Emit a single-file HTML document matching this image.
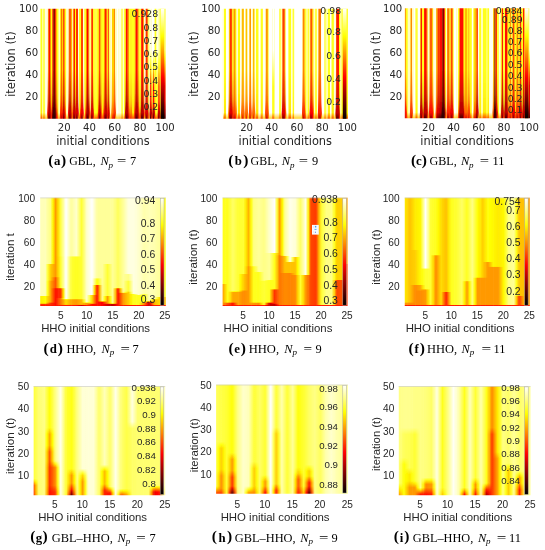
<!DOCTYPE html>
<html><head><meta charset="utf-8"><style>
html,body{margin:0;padding:0;background:#fff;}
body{width:545px;height:550px;overflow:hidden;}
svg{display:block;}
</style></head><body>
<svg width="545" height="550" viewBox="0 0 545 550">
<defs>
<filter id="tblur" x="0" y="0" width="100%" height="100%" filterUnits="userSpaceOnUse"><feGaussianBlur stdDeviation="0.28"/></filter>
<filter id="blur1" x="-5%" y="-5%" width="110%" height="110%"><feGaussianBlur stdDeviation="0.5 0.4"/></filter>
<filter id="blur2" x="-5%" y="-5%" width="110%" height="110%"><feGaussianBlur stdDeviation="0.7 0.5"/></filter>
<filter id="blur3" x="-5%" y="-5%" width="110%" height="110%"><feGaussianBlur stdDeviation="0.7 0.6"/></filter>
<linearGradient id="mfade" x1="0" y1="0" x2="0" y2="1"><stop offset="0" stop-color="#fff" stop-opacity="0"/><stop offset="0.55" stop-color="#fff" stop-opacity="0"/><stop offset="0.75" stop-color="#fff" stop-opacity="0.3"/><stop offset="0.9" stop-color="#fff" stop-opacity="0.7"/><stop offset="1" stop-color="#fff" stop-opacity="1"/></linearGradient><linearGradient id="redband" x1="0" y1="0" x2="0" y2="1"><stop offset="0" stop-color="#d40000" stop-opacity="0"/><stop offset="0.35" stop-color="#c80000" stop-opacity="0.45"/><stop offset="0.6" stop-color="#b00000" stop-opacity="0.7"/><stop offset="1" stop-color="#a00000" stop-opacity="0.75"/></linearGradient><linearGradient id="bmg" x1="0" y1="0" x2="0" y2="1"><stop offset="0" stop-color="#fff" stop-opacity="0"/><stop offset="0.75" stop-color="#fff" stop-opacity="0.85"/><stop offset="1" stop-color="#fff" stop-opacity="1"/></linearGradient><linearGradient id="vmg" x1="0" y1="0" x2="0" y2="1"><stop offset="0" stop-color="#fff" stop-opacity="0"/><stop offset="0.6" stop-color="#fff" stop-opacity="1"/></linearGradient><clipPath id="clipa"><rect x="40.4" y="8.8" width="125.3" height="110"/></clipPath><mask id="maska" maskUnits="userSpaceOnUse" x="37.4" y="5.8" width="131.3" height="116"><rect x="37.4" y="8.8" width="131.3" height="113" fill="url(#mfade)"/></mask><linearGradient id="sg1" x1="0" y1="0" x2="0" y2="1"><stop offset="0.000" stop-color="#ffffff"/><stop offset="0.380" stop-color="#ffffff"/><stop offset="0.433" stop-color="#ffff99"/><stop offset="0.487" stop-color="#ffff33"/><stop offset="0.540" stop-color="#ffdd00"/><stop offset="0.593" stop-color="#ff9900"/><stop offset="0.647" stop-color="#ff5500"/><stop offset="0.700" stop-color="#ff1100"/><stop offset="1.000" stop-color="#ff1100"/></linearGradient><linearGradient id="sg2" x1="0" y1="0" x2="0" y2="1"><stop offset="0.000" stop-color="#ffffff"/><stop offset="0.380" stop-color="#ffffff"/><stop offset="0.433" stop-color="#ffffdd"/><stop offset="0.487" stop-color="#ffffbb"/><stop offset="0.540" stop-color="#ffff99"/><stop offset="0.593" stop-color="#ffff77"/><stop offset="0.647" stop-color="#ffff55"/><stop offset="0.700" stop-color="#ffff33"/><stop offset="1.000" stop-color="#ffff33"/></linearGradient><linearGradient id="sg3" x1="0" y1="0" x2="0" y2="1"><stop offset="0.000" stop-color="#ffffff"/><stop offset="0.380" stop-color="#ffffff"/><stop offset="0.433" stop-color="#ffff99"/><stop offset="0.487" stop-color="#ffff33"/><stop offset="0.540" stop-color="#ffdd00"/><stop offset="0.593" stop-color="#ff9900"/><stop offset="0.647" stop-color="#ff5500"/><stop offset="0.700" stop-color="#ff1100"/><stop offset="1.000" stop-color="#ff1100"/></linearGradient><linearGradient id="sg4" x1="0" y1="0" x2="0" y2="1"><stop offset="0.000" stop-color="#ffffff"/><stop offset="0.380" stop-color="#ffffff"/><stop offset="0.433" stop-color="#ffffdd"/><stop offset="0.487" stop-color="#ffffbb"/><stop offset="0.540" stop-color="#ffff99"/><stop offset="0.593" stop-color="#ffff77"/><stop offset="0.647" stop-color="#ffff55"/><stop offset="0.700" stop-color="#ffff33"/><stop offset="1.000" stop-color="#ffff33"/></linearGradient><linearGradient id="sg5" x1="0" y1="0" x2="0" y2="1"><stop offset="0.000" stop-color="#ffffe0"/><stop offset="0.380" stop-color="#ffffe0"/><stop offset="0.433" stop-color="#ffffc3"/><stop offset="0.487" stop-color="#ffffa7"/><stop offset="0.540" stop-color="#ffff8a"/><stop offset="0.593" stop-color="#ffff6d"/><stop offset="0.647" stop-color="#ffff50"/><stop offset="0.700" stop-color="#ffff33"/><stop offset="1.000" stop-color="#ffff33"/></linearGradient><linearGradient id="sg6" x1="0" y1="0" x2="0" y2="1"><stop offset="0.000" stop-color="#ffffe0"/><stop offset="0.380" stop-color="#ffffe0"/><stop offset="0.433" stop-color="#ffff83"/><stop offset="0.487" stop-color="#ffff25"/><stop offset="0.540" stop-color="#ffda00"/><stop offset="0.593" stop-color="#ff9b00"/><stop offset="0.647" stop-color="#ff5d00"/><stop offset="0.700" stop-color="#ff1f00"/><stop offset="1.000" stop-color="#ff1f00"/></linearGradient><linearGradient id="sg7" x1="0" y1="0" x2="0" y2="1"><stop offset="0.000" stop-color="#ffff66"/><stop offset="0.380" stop-color="#ffff66"/><stop offset="0.433" stop-color="#ffff11"/><stop offset="0.487" stop-color="#ffd200"/><stop offset="0.540" stop-color="#ff9900"/><stop offset="0.593" stop-color="#ff6000"/><stop offset="0.647" stop-color="#ff2800"/><stop offset="0.700" stop-color="#ee0000"/><stop offset="1.000" stop-color="#ee0000"/></linearGradient><mask id="vma" maskUnits="userSpaceOnUse" x="37.4" y="99.8" width="131.3" height="22"><rect x="37.4" y="100.8" width="131.3" height="20" fill="url(#vmg)"/></mask><mask id="bma" maskUnits="userSpaceOnUse" x="37.4" y="111.8" width="131.3" height="10"><rect x="37.4" y="112.8" width="131.3" height="8" fill="url(#bmg)"/></mask><linearGradient id="cb1" x1="0" y1="0" x2="0" y2="1"><stop offset="0.000" stop-color="#ffffff"/><stop offset="0.062" stop-color="#ffffbf"/><stop offset="0.125" stop-color="#ffff80"/><stop offset="0.188" stop-color="#ffff40"/><stop offset="0.250" stop-color="#ffff00"/><stop offset="0.312" stop-color="#ffd400"/><stop offset="0.375" stop-color="#ffaa00"/><stop offset="0.438" stop-color="#ff8000"/><stop offset="0.500" stop-color="#ff5500"/><stop offset="0.562" stop-color="#ff2a00"/><stop offset="0.625" stop-color="#ff0000"/><stop offset="0.688" stop-color="#d40000"/><stop offset="0.750" stop-color="#aa0000"/><stop offset="0.812" stop-color="#800000"/><stop offset="0.875" stop-color="#550000"/><stop offset="0.938" stop-color="#2a0000"/><stop offset="1.000" stop-color="#000000"/></linearGradient><clipPath id="clipb"><rect x="222.9" y="8.8" width="125.1" height="110"/></clipPath><mask id="maskb" maskUnits="userSpaceOnUse" x="219.9" y="5.8" width="131.1" height="116"><rect x="219.9" y="8.8" width="131.1" height="113" fill="url(#mfade)"/></mask><linearGradient id="sg8" x1="0" y1="0" x2="0" y2="1"><stop offset="0.000" stop-color="#ffffff"/><stop offset="0.380" stop-color="#ffffff"/><stop offset="0.433" stop-color="#ffffda"/><stop offset="0.487" stop-color="#ffffb4"/><stop offset="0.540" stop-color="#ffff8f"/><stop offset="0.593" stop-color="#ffff69"/><stop offset="0.647" stop-color="#ffff44"/><stop offset="0.700" stop-color="#ffff1f"/><stop offset="1.000" stop-color="#ffff1f"/></linearGradient><mask id="vmb" maskUnits="userSpaceOnUse" x="219.9" y="99.8" width="131.1" height="22"><rect x="219.9" y="100.8" width="131.1" height="20" fill="url(#vmg)"/></mask><mask id="bmb" maskUnits="userSpaceOnUse" x="219.9" y="111.8" width="131.1" height="10"><rect x="219.9" y="112.8" width="131.1" height="8" fill="url(#bmg)"/></mask><linearGradient id="cb2" x1="0" y1="0" x2="0" y2="1"><stop offset="0.000" stop-color="#ffffff"/><stop offset="0.062" stop-color="#ffffbf"/><stop offset="0.125" stop-color="#ffff80"/><stop offset="0.188" stop-color="#ffff40"/><stop offset="0.250" stop-color="#ffff00"/><stop offset="0.312" stop-color="#ffd400"/><stop offset="0.375" stop-color="#ffaa00"/><stop offset="0.438" stop-color="#ff8000"/><stop offset="0.500" stop-color="#ff5500"/><stop offset="0.562" stop-color="#ff2a00"/><stop offset="0.625" stop-color="#ff0000"/><stop offset="0.688" stop-color="#d40000"/><stop offset="0.750" stop-color="#aa0000"/><stop offset="0.812" stop-color="#800000"/><stop offset="0.875" stop-color="#550000"/><stop offset="0.938" stop-color="#2a0000"/><stop offset="1.000" stop-color="#000000"/></linearGradient><clipPath id="clipc"><rect x="404.8" y="8.3" width="125.2" height="110"/></clipPath><mask id="maskc" maskUnits="userSpaceOnUse" x="401.8" y="5.3" width="131.2" height="116"><rect x="401.8" y="8.3" width="131.2" height="113" fill="url(#mfade)"/></mask><linearGradient id="sg9" x1="0" y1="0" x2="0" y2="1"><stop offset="0.000" stop-color="#ffffcc"/><stop offset="0.380" stop-color="#ffffcc"/><stop offset="0.433" stop-color="#ffff66"/><stop offset="0.487" stop-color="#ffff00"/><stop offset="0.540" stop-color="#ffbb00"/><stop offset="0.593" stop-color="#ff7700"/><stop offset="0.647" stop-color="#ff3300"/><stop offset="0.700" stop-color="#ee0000"/><stop offset="1.000" stop-color="#ee0000"/></linearGradient><mask id="vmc" maskUnits="userSpaceOnUse" x="401.8" y="99.3" width="131.2" height="22"><rect x="401.8" y="100.3" width="131.2" height="20" fill="url(#vmg)"/></mask><mask id="bmc" maskUnits="userSpaceOnUse" x="401.8" y="111.3" width="131.2" height="10"><rect x="401.8" y="112.3" width="131.2" height="8" fill="url(#bmg)"/></mask><linearGradient id="cb3" x1="0" y1="0" x2="0" y2="1"><stop offset="0.000" stop-color="#ffffff"/><stop offset="0.062" stop-color="#ffffbf"/><stop offset="0.125" stop-color="#ffff80"/><stop offset="0.188" stop-color="#ffff40"/><stop offset="0.250" stop-color="#ffff00"/><stop offset="0.312" stop-color="#ffd400"/><stop offset="0.375" stop-color="#ffaa00"/><stop offset="0.438" stop-color="#ff8000"/><stop offset="0.500" stop-color="#ff5500"/><stop offset="0.562" stop-color="#ff2a00"/><stop offset="0.625" stop-color="#ff0000"/><stop offset="0.688" stop-color="#d40000"/><stop offset="0.750" stop-color="#aa0000"/><stop offset="0.812" stop-color="#800000"/><stop offset="0.875" stop-color="#550000"/><stop offset="0.938" stop-color="#2a0000"/><stop offset="1.000" stop-color="#000000"/></linearGradient><linearGradient id="hrampg"><stop offset="0" stop-color="#fff" stop-opacity="0"/><stop offset="1" stop-color="#fff" stop-opacity="1"/></linearGradient><mask id="hramp" maskContentUnits="objectBoundingBox"><rect x="0" y="0" width="1" height="1" fill="url(#hrampg)"/></mask><linearGradient id="hrampg2"><stop offset="0" stop-color="#fff" stop-opacity="0"/><stop offset="0.84" stop-color="#fff" stop-opacity="1"/></linearGradient><mask id="hramp2" maskContentUnits="objectBoundingBox"><rect x="0" y="0" width="1" height="1" fill="url(#hrampg2)"/></mask><clipPath id="clipd"><rect x="40.2" y="197.7" width="125.6" height="108.3"/></clipPath><linearGradient id="v10" gradientUnits="userSpaceOnUse" x1="0" y1="194.7" x2="0" y2="309"><stop offset="0.0000" stop-color="#ffffb8"/><stop offset="0.8835" stop-color="#ffffb8"/><stop offset="0.8854" stop-color="#ffff70"/><stop offset="0.8873" stop-color="#ffff29"/><stop offset="0.8892" stop-color="#ffeb00"/><stop offset="0.9508" stop-color="#ffeb00"/><stop offset="0.9527" stop-color="#ffad00"/><stop offset="0.9546" stop-color="#ff7000"/><stop offset="0.9566" stop-color="#ff3300"/><stop offset="0.9638" stop-color="#ff3300"/><stop offset="0.9666" stop-color="#ff1f00"/><stop offset="1.0000" stop-color="#ff1f00"/></linearGradient><linearGradient id="v11" gradientUnits="userSpaceOnUse" x1="0" y1="194.7" x2="0" y2="309"><stop offset="0.0000" stop-color="#ffffb8"/><stop offset="0.8835" stop-color="#ffffb8"/><stop offset="0.8864" stop-color="#ffff5c"/><stop offset="0.8892" stop-color="#ffff00"/><stop offset="0.9508" stop-color="#ffff00"/><stop offset="0.9527" stop-color="#ffbb00"/><stop offset="0.9546" stop-color="#ff7700"/><stop offset="0.9566" stop-color="#ff3300"/><stop offset="0.9638" stop-color="#ff3300"/><stop offset="0.9666" stop-color="#ff1f00"/><stop offset="1.0000" stop-color="#ff1f00"/></linearGradient><linearGradient id="v12" gradientUnits="userSpaceOnUse" x1="0" y1="194.7" x2="0" y2="309"><stop offset="0.0000" stop-color="#ffff85"/><stop offset="0.6046" stop-color="#ffff85"/><stop offset="0.6075" stop-color="#ffff1f"/><stop offset="0.6104" stop-color="#ffcf00"/><stop offset="0.7489" stop-color="#ffcf00"/><stop offset="0.7546" stop-color="#ffa700"/><stop offset="0.9412" stop-color="#ffa700"/><stop offset="0.9441" stop-color="#ff6d00"/><stop offset="0.9469" stop-color="#ff3300"/><stop offset="0.9638" stop-color="#ff3300"/><stop offset="0.9666" stop-color="#ff1f00"/><stop offset="1.0000" stop-color="#ff1f00"/></linearGradient><linearGradient id="v13" gradientUnits="userSpaceOnUse" x1="0" y1="194.7" x2="0" y2="309"><stop offset="0.0000" stop-color="#ff9900"/><stop offset="0.7200" stop-color="#ff9900"/><stop offset="0.7258" stop-color="#ff5500"/><stop offset="0.8162" stop-color="#ff5500"/><stop offset="0.8219" stop-color="#ff1100"/><stop offset="0.9638" stop-color="#ff1100"/><stop offset="0.9666" stop-color="#ff1100"/><stop offset="1.0000" stop-color="#ff1100"/></linearGradient><linearGradient id="v14" gradientUnits="userSpaceOnUse" x1="0" y1="194.7" x2="0" y2="309"><stop offset="0.0000" stop-color="#ffff47"/><stop offset="0.5373" stop-color="#ffff47"/><stop offset="0.5431" stop-color="#ffff33"/><stop offset="0.8162" stop-color="#ffff33"/><stop offset="0.8176" stop-color="#ffe600"/><stop offset="0.8191" stop-color="#ffaa00"/><stop offset="0.8205" stop-color="#ff6f00"/><stop offset="0.8219" stop-color="#ff3300"/><stop offset="0.9027" stop-color="#ff3300"/><stop offset="0.9085" stop-color="#ff7700"/><stop offset="0.9604" stop-color="#ff7700"/><stop offset="0.9633" stop-color="#ff4b00"/><stop offset="0.9662" stop-color="#ff1f00"/><stop offset="0.9638" stop-color="#ff1f00"/><stop offset="0.9666" stop-color="#ff1f00"/><stop offset="1.0000" stop-color="#ff1f00"/></linearGradient><linearGradient id="v15" gradientUnits="userSpaceOnUse" x1="0" y1="194.7" x2="0" y2="309"><stop offset="0.0000" stop-color="#ffffff"/><stop offset="0.9123" stop-color="#ffffff"/><stop offset="0.9138" stop-color="#ffffb3"/><stop offset="0.9152" stop-color="#ffff66"/><stop offset="0.9166" stop-color="#ffff19"/><stop offset="0.9181" stop-color="#ffdd00"/><stop offset="0.9604" stop-color="#ffdd00"/><stop offset="0.9623" stop-color="#ffa400"/><stop offset="0.9642" stop-color="#ff6c00"/><stop offset="0.9662" stop-color="#ff3300"/><stop offset="0.9638" stop-color="#ff3300"/><stop offset="0.9666" stop-color="#ff1f00"/><stop offset="1.0000" stop-color="#ff1f00"/></linearGradient><linearGradient id="v16" gradientUnits="userSpaceOnUse" x1="0" y1="194.7" x2="0" y2="309"><stop offset="0.0000" stop-color="#ffff99"/><stop offset="0.5373" stop-color="#ffff99"/><stop offset="0.5431" stop-color="#ffff33"/><stop offset="0.9123" stop-color="#ffff33"/><stop offset="0.9152" stop-color="#ffe400"/><stop offset="0.9181" stop-color="#ffa700"/><stop offset="0.9604" stop-color="#ffa700"/><stop offset="0.9623" stop-color="#ff7900"/><stop offset="0.9642" stop-color="#ff4c00"/><stop offset="0.9662" stop-color="#ff1f00"/><stop offset="0.9638" stop-color="#ff1f00"/><stop offset="0.9666" stop-color="#ff1f00"/><stop offset="1.0000" stop-color="#ff1f00"/></linearGradient><linearGradient id="v17" gradientUnits="userSpaceOnUse" x1="0" y1="194.7" x2="0" y2="309"><stop offset="0.0000" stop-color="#ffffcc"/><stop offset="0.5373" stop-color="#ffffcc"/><stop offset="0.5402" stop-color="#ffff75"/><stop offset="0.5431" stop-color="#ffff1f"/><stop offset="0.9123" stop-color="#ffff1f"/><stop offset="0.9152" stop-color="#ffd600"/><stop offset="0.9181" stop-color="#ff9900"/><stop offset="0.9604" stop-color="#ff9900"/><stop offset="0.9633" stop-color="#ff5500"/><stop offset="0.9662" stop-color="#ff1100"/><stop offset="0.9638" stop-color="#ff1100"/><stop offset="0.9666" stop-color="#ff1100"/><stop offset="1.0000" stop-color="#ff1100"/></linearGradient><linearGradient id="v18" gradientUnits="userSpaceOnUse" x1="0" y1="194.7" x2="0" y2="309"><stop offset="0.0000" stop-color="#ffff33"/><stop offset="0.9123" stop-color="#ffff33"/><stop offset="0.9152" stop-color="#ffee00"/><stop offset="0.9181" stop-color="#ffbb00"/><stop offset="0.9604" stop-color="#ffbb00"/><stop offset="0.9618" stop-color="#ff8000"/><stop offset="0.9633" stop-color="#ff4400"/><stop offset="0.9647" stop-color="#ff0900"/><stop offset="0.9662" stop-color="#cc0000"/><stop offset="0.9638" stop-color="#cc0000"/><stop offset="0.9666" stop-color="#cc0000"/><stop offset="1.0000" stop-color="#cc0000"/></linearGradient><linearGradient id="v19" gradientUnits="userSpaceOnUse" x1="0" y1="194.7" x2="0" y2="309"><stop offset="0.0000" stop-color="#ffffcc"/><stop offset="0.9412" stop-color="#ffffcc"/><stop offset="0.9426" stop-color="#ffff73"/><stop offset="0.9441" stop-color="#ffff19"/><stop offset="0.9455" stop-color="#ffd400"/><stop offset="0.9469" stop-color="#ff9900"/><stop offset="0.9638" stop-color="#ff9900"/><stop offset="0.9652" stop-color="#ff5c00"/><stop offset="0.9666" stop-color="#ff1f00"/><stop offset="1.0000" stop-color="#ff1f00"/></linearGradient><linearGradient id="v20" gradientUnits="userSpaceOnUse" x1="0" y1="194.7" x2="0" y2="309"><stop offset="0.0000" stop-color="#ffffff"/><stop offset="0.8739" stop-color="#ffffff"/><stop offset="0.8753" stop-color="#ffffb3"/><stop offset="0.8767" stop-color="#ffff66"/><stop offset="0.8782" stop-color="#ffff19"/><stop offset="0.8796" stop-color="#ffdd00"/><stop offset="0.9508" stop-color="#ffdd00"/><stop offset="0.9527" stop-color="#ff9900"/><stop offset="0.9546" stop-color="#ff5500"/><stop offset="0.9566" stop-color="#ff1100"/><stop offset="0.9638" stop-color="#ff1100"/><stop offset="0.9666" stop-color="#ff1100"/><stop offset="1.0000" stop-color="#ff1100"/></linearGradient><linearGradient id="v21" gradientUnits="userSpaceOnUse" x1="0" y1="194.7" x2="0" y2="309"><stop offset="0.0000" stop-color="#ffff99"/><stop offset="0.7296" stop-color="#ffff99"/><stop offset="0.7325" stop-color="#ffff4c"/><stop offset="0.7354" stop-color="#ffff00"/><stop offset="0.7873" stop-color="#ffff00"/><stop offset="0.7888" stop-color="#ffc300"/><stop offset="0.7902" stop-color="#ff8800"/><stop offset="0.7917" stop-color="#ff4d00"/><stop offset="0.7931" stop-color="#ff1100"/><stop offset="0.9638" stop-color="#ff1100"/><stop offset="0.9666" stop-color="#ff1100"/><stop offset="1.0000" stop-color="#ff1100"/></linearGradient><linearGradient id="v22" gradientUnits="userSpaceOnUse" x1="0" y1="194.7" x2="0" y2="309"><stop offset="0.0000" stop-color="#ffff99"/><stop offset="0.9316" stop-color="#ffff99"/><stop offset="0.9325" stop-color="#ffff41"/><stop offset="0.9335" stop-color="#ffef00"/><stop offset="0.9344" stop-color="#ffb400"/><stop offset="0.9354" stop-color="#ff7900"/><stop offset="0.9364" stop-color="#ff3e00"/><stop offset="0.9373" stop-color="#ff0300"/><stop offset="0.9638" stop-color="#ff0300"/><stop offset="0.9666" stop-color="#ff0300"/><stop offset="1.0000" stop-color="#ff0300"/></linearGradient><linearGradient id="v23" gradientUnits="userSpaceOnUse" x1="0" y1="194.7" x2="0" y2="309"><stop offset="0.0000" stop-color="#ffff99"/><stop offset="0.6046" stop-color="#ffff99"/><stop offset="0.6104" stop-color="#ffff33"/><stop offset="0.8835" stop-color="#ffff33"/><stop offset="0.8854" stop-color="#fff400"/><stop offset="0.8873" stop-color="#ffc600"/><stop offset="0.8892" stop-color="#ff9900"/><stop offset="0.9508" stop-color="#ff9900"/><stop offset="0.9527" stop-color="#ff5500"/><stop offset="0.9546" stop-color="#ff1100"/><stop offset="0.9566" stop-color="#cc0000"/><stop offset="0.9638" stop-color="#cc0000"/><stop offset="0.9666" stop-color="#cc0000"/><stop offset="1.0000" stop-color="#cc0000"/></linearGradient><linearGradient id="v24" gradientUnits="userSpaceOnUse" x1="0" y1="194.7" x2="0" y2="309"><stop offset="0.0000" stop-color="#ffff99"/><stop offset="0.9508" stop-color="#ffff99"/><stop offset="0.9516" stop-color="#ffff3f"/><stop offset="0.9524" stop-color="#ffed00"/><stop offset="0.9533" stop-color="#ffb000"/><stop offset="0.9541" stop-color="#ff7400"/><stop offset="0.9549" stop-color="#ff3800"/><stop offset="0.9557" stop-color="#fb0000"/><stop offset="0.9566" stop-color="#be0000"/><stop offset="0.9638" stop-color="#be0000"/><stop offset="0.9666" stop-color="#be0000"/><stop offset="1.0000" stop-color="#be0000"/></linearGradient><linearGradient id="v25" gradientUnits="userSpaceOnUse" x1="0" y1="194.7" x2="0" y2="309"><stop offset="0.0000" stop-color="#ffff5c"/><stop offset="0.8162" stop-color="#ffff5c"/><stop offset="0.8173" stop-color="#ffff02"/><stop offset="0.8185" stop-color="#ffc500"/><stop offset="0.8196" stop-color="#ff8900"/><stop offset="0.8208" stop-color="#ff4d00"/><stop offset="0.8219" stop-color="#ff1100"/><stop offset="0.9638" stop-color="#ff1100"/><stop offset="0.9666" stop-color="#ff1100"/><stop offset="1.0000" stop-color="#ff1100"/></linearGradient><linearGradient id="v26" gradientUnits="userSpaceOnUse" x1="0" y1="194.7" x2="0" y2="309"><stop offset="0.0000" stop-color="#ffff99"/><stop offset="0.8546" stop-color="#ffff99"/><stop offset="0.8561" stop-color="#ffff4c"/><stop offset="0.8575" stop-color="#ffff00"/><stop offset="0.8590" stop-color="#ffcc00"/><stop offset="0.8604" stop-color="#ff9900"/><stop offset="0.9638" stop-color="#ff9900"/><stop offset="0.9652" stop-color="#ff5c00"/><stop offset="0.9666" stop-color="#ff1f00"/><stop offset="1.0000" stop-color="#ff1f00"/></linearGradient><linearGradient id="v27" gradientUnits="userSpaceOnUse" x1="0" y1="194.7" x2="0" y2="309"><stop offset="0.0000" stop-color="#ffffe0"/><stop offset="0.6912" stop-color="#ffffe0"/><stop offset="0.6969" stop-color="#ffff85"/><stop offset="0.7489" stop-color="#ffff85"/><stop offset="0.7546" stop-color="#ffff33"/><stop offset="0.8450" stop-color="#ffff33"/><stop offset="0.8508" stop-color="#ffcf00"/><stop offset="0.9638" stop-color="#ffcf00"/><stop offset="0.9647" stop-color="#ff9400"/><stop offset="0.9657" stop-color="#ff5a00"/><stop offset="0.9666" stop-color="#ff1f00"/><stop offset="1.0000" stop-color="#ff1f00"/></linearGradient><linearGradient id="v28" gradientUnits="userSpaceOnUse" x1="0" y1="194.7" x2="0" y2="309"><stop offset="0.0000" stop-color="#ffffe0"/><stop offset="0.8642" stop-color="#ffffe0"/><stop offset="0.8671" stop-color="#ffff80"/><stop offset="0.8700" stop-color="#ffff1f"/><stop offset="0.9638" stop-color="#ffff1f"/><stop offset="0.9645" stop-color="#ffd600"/><stop offset="0.9652" stop-color="#ff9900"/><stop offset="0.9659" stop-color="#ff5c00"/><stop offset="0.9666" stop-color="#ff1f00"/><stop offset="1.0000" stop-color="#ff1f00"/></linearGradient><linearGradient id="v29" gradientUnits="userSpaceOnUse" x1="0" y1="194.7" x2="0" y2="309"><stop offset="0.0000" stop-color="#ffffcc"/><stop offset="0.8739" stop-color="#ffffcc"/><stop offset="0.8767" stop-color="#ffff75"/><stop offset="0.8796" stop-color="#ffff1f"/><stop offset="0.9638" stop-color="#ffff1f"/><stop offset="0.9645" stop-color="#ffd600"/><stop offset="0.9652" stop-color="#ff9900"/><stop offset="0.9659" stop-color="#ff5c00"/><stop offset="0.9666" stop-color="#ff1f00"/><stop offset="1.0000" stop-color="#ff1f00"/></linearGradient><linearGradient id="v30" gradientUnits="userSpaceOnUse" x1="0" y1="194.7" x2="0" y2="309"><stop offset="0.0000" stop-color="#ffffad"/><stop offset="0.8642" stop-color="#ffffad"/><stop offset="0.8671" stop-color="#ffff66"/><stop offset="0.8700" stop-color="#ffff1f"/><stop offset="0.9412" stop-color="#ffff1f"/><stop offset="0.9431" stop-color="#ffe600"/><stop offset="0.9450" stop-color="#ffb900"/><stop offset="0.9469" stop-color="#ff8b00"/><stop offset="0.9638" stop-color="#ff8b00"/><stop offset="0.9652" stop-color="#ff5500"/><stop offset="0.9666" stop-color="#ff1f00"/><stop offset="1.0000" stop-color="#ff1f00"/></linearGradient><linearGradient id="v31" gradientUnits="userSpaceOnUse" x1="0" y1="194.7" x2="0" y2="309"><stop offset="0.0000" stop-color="#ffffb8"/><stop offset="0.9316" stop-color="#ffffb8"/><stop offset="0.9324" stop-color="#ffff5c"/><stop offset="0.9332" stop-color="#ffff00"/><stop offset="0.9340" stop-color="#ffc200"/><stop offset="0.9348" stop-color="#ff8500"/><stop offset="0.9357" stop-color="#ff4700"/><stop offset="0.9365" stop-color="#ff0a00"/><stop offset="0.9373" stop-color="#cc0000"/><stop offset="0.9638" stop-color="#cc0000"/><stop offset="0.9666" stop-color="#cc0000"/><stop offset="1.0000" stop-color="#cc0000"/></linearGradient><linearGradient id="v32" gradientUnits="userSpaceOnUse" x1="0" y1="194.7" x2="0" y2="309"><stop offset="0.0000" stop-color="#ffffad"/><stop offset="0.9123" stop-color="#ffffad"/><stop offset="0.9142" stop-color="#ffff52"/><stop offset="0.9162" stop-color="#fff800"/><stop offset="0.9181" stop-color="#ffbb00"/><stop offset="0.9638" stop-color="#ffbb00"/><stop offset="0.9647" stop-color="#ff8700"/><stop offset="0.9657" stop-color="#ff5300"/><stop offset="0.9666" stop-color="#ff1f00"/><stop offset="1.0000" stop-color="#ff1f00"/></linearGradient><linearGradient id="v33" gradientUnits="userSpaceOnUse" x1="0" y1="194.7" x2="0" y2="309"><stop offset="0.0000" stop-color="#ffff99"/><stop offset="0.8931" stop-color="#ffff99"/><stop offset="0.8950" stop-color="#ffff55"/><stop offset="0.8969" stop-color="#ffff11"/><stop offset="0.8989" stop-color="#ffdd00"/><stop offset="0.9638" stop-color="#ffdd00"/><stop offset="0.9647" stop-color="#ff9e00"/><stop offset="0.9657" stop-color="#ff5e00"/><stop offset="0.9666" stop-color="#ff1f00"/><stop offset="1.0000" stop-color="#ff1f00"/></linearGradient><linearGradient id="v34" gradientUnits="userSpaceOnUse" x1="0" y1="194.7" x2="0" y2="309"><stop offset="0.0000" stop-color="#ffff1f"/><stop offset="0.8931" stop-color="#ffff1f"/><stop offset="0.8960" stop-color="#ffe700"/><stop offset="0.8989" stop-color="#ffbb00"/><stop offset="0.9638" stop-color="#ffbb00"/><stop offset="0.9647" stop-color="#ff8700"/><stop offset="0.9657" stop-color="#ff5300"/><stop offset="0.9666" stop-color="#ff1f00"/><stop offset="1.0000" stop-color="#ff1f00"/></linearGradient><linearGradient id="v35" gradientUnits="userSpaceOnUse" x1="0" y1="194.7" x2="0" y2="309"><stop offset="0.0000" stop-color="#ffffb8"/><stop offset="0.8835" stop-color="#ffffb7"/><stop offset="0.8835" stop-color="#ffffb7"/><stop offset="0.8864" stop-color="#ffff54"/><stop offset="0.8892" stop-color="#fff500"/><stop offset="0.8892" stop-color="#fff500"/><stop offset="0.9508" stop-color="#fff500"/><stop offset="0.9527" stop-color="#ffb400"/><stop offset="0.9546" stop-color="#ff7400"/><stop offset="0.9566" stop-color="#ff3300"/><stop offset="0.9566" stop-color="#ff3300"/><stop offset="0.9638" stop-color="#ff3300"/><stop offset="0.9667" stop-color="#ff1f00"/><stop offset="1.0000" stop-color="#ff1f00"/></linearGradient><linearGradient id="v36" gradientUnits="userSpaceOnUse" x1="0" y1="194.7" x2="0" y2="309"><stop offset="0.0000" stop-color="#ffff9e"/><stop offset="0.6046" stop-color="#ffff9e"/><stop offset="0.6046" stop-color="#ffff9e"/><stop offset="0.6104" stop-color="#ffff38"/><stop offset="0.7489" stop-color="#ffff38"/><stop offset="0.7489" stop-color="#ffff38"/><stop offset="0.7546" stop-color="#ffff1a"/><stop offset="0.7546" stop-color="#ffff1a"/><stop offset="0.8835" stop-color="#ffff19"/><stop offset="0.8835" stop-color="#ffff19"/><stop offset="0.8892" stop-color="#ffd300"/><stop offset="0.8892" stop-color="#ffd300"/><stop offset="0.9412" stop-color="#ffd300"/><stop offset="0.9412" stop-color="#ffd300"/><stop offset="0.9469" stop-color="#ff9900"/><stop offset="0.9508" stop-color="#ff9900"/><stop offset="0.9537" stop-color="#ff6600"/><stop offset="0.9566" stop-color="#ff3300"/><stop offset="0.9566" stop-color="#ff3300"/><stop offset="0.9638" stop-color="#ff3300"/><stop offset="0.9667" stop-color="#ff1f00"/><stop offset="1.0000" stop-color="#ff1f00"/></linearGradient><linearGradient id="v37" gradientUnits="userSpaceOnUse" x1="0" y1="194.7" x2="0" y2="309"><stop offset="0.0000" stop-color="#fff800"/><stop offset="0.6046" stop-color="#fff800"/><stop offset="0.6046" stop-color="#fff800"/><stop offset="0.6104" stop-color="#ffb400"/><stop offset="0.7200" stop-color="#ffb400"/><stop offset="0.7258" stop-color="#ff9200"/><stop offset="0.7489" stop-color="#ff9200"/><stop offset="0.7489" stop-color="#ff9200"/><stop offset="0.7546" stop-color="#ff7e00"/><stop offset="0.7546" stop-color="#ff7e00"/><stop offset="0.8162" stop-color="#ff7e00"/><stop offset="0.8219" stop-color="#ff5c00"/><stop offset="0.9412" stop-color="#ff5c00"/><stop offset="0.9412" stop-color="#ff5c00"/><stop offset="0.9469" stop-color="#ff2200"/><stop offset="0.9638" stop-color="#ff2200"/><stop offset="0.9667" stop-color="#ff1800"/><stop offset="1.0000" stop-color="#ff1800"/></linearGradient><linearGradient id="v38" gradientUnits="userSpaceOnUse" x1="0" y1="194.7" x2="0" y2="309"><stop offset="0.0000" stop-color="#ffe400"/><stop offset="0.5373" stop-color="#ffe400"/><stop offset="0.5431" stop-color="#ffdd00"/><stop offset="0.7200" stop-color="#ffdd00"/><stop offset="0.7258" stop-color="#ffbb00"/><stop offset="0.8162" stop-color="#ffbb00"/><stop offset="0.8181" stop-color="#ff8800"/><stop offset="0.8200" stop-color="#ff5500"/><stop offset="0.8219" stop-color="#ff2200"/><stop offset="0.9027" stop-color="#ff2200"/><stop offset="0.9027" stop-color="#ff2200"/><stop offset="0.9085" stop-color="#ff4400"/><stop offset="0.9604" stop-color="#ff4400"/><stop offset="0.9604" stop-color="#ff4400"/><stop offset="0.9638" stop-color="#ff2a00"/><stop offset="0.9638" stop-color="#ff2a00"/><stop offset="0.9662" stop-color="#ff1800"/><stop offset="0.9667" stop-color="#ff1800"/><stop offset="1.0000" stop-color="#ff1800"/></linearGradient><linearGradient id="v39" gradientUnits="userSpaceOnUse" x1="0" y1="194.7" x2="0" y2="309"><stop offset="0.0000" stop-color="#ffffa3"/><stop offset="0.5373" stop-color="#ffffa3"/><stop offset="0.5431" stop-color="#ffff99"/><stop offset="0.8162" stop-color="#ffff99"/><stop offset="0.8191" stop-color="#ffff40"/><stop offset="0.8219" stop-color="#ffee00"/><stop offset="0.9027" stop-color="#ffee00"/><stop offset="0.9027" stop-color="#ffee00"/><stop offset="0.9085" stop-color="#ffff1a"/><stop offset="0.9123" stop-color="#ffff1a"/><stop offset="0.9152" stop-color="#ffdd00"/><stop offset="0.9181" stop-color="#ffaa00"/><stop offset="0.9181" stop-color="#ffaa00"/><stop offset="0.9604" stop-color="#ffaa00"/><stop offset="0.9604" stop-color="#ffaa00"/><stop offset="0.9638" stop-color="#ff5f00"/><stop offset="0.9638" stop-color="#ff5f00"/><stop offset="0.9662" stop-color="#ff2000"/><stop offset="0.9662" stop-color="#ff2000"/><stop offset="0.9667" stop-color="#ff1f00"/><stop offset="1.0000" stop-color="#ff1f00"/></linearGradient><linearGradient id="v40" gradientUnits="userSpaceOnUse" x1="0" y1="194.7" x2="0" y2="309"><stop offset="0.0000" stop-color="#ffffcc"/><stop offset="0.5373" stop-color="#ffffcc"/><stop offset="0.5431" stop-color="#ffff99"/><stop offset="0.5431" stop-color="#ffff99"/><stop offset="0.9123" stop-color="#ffff99"/><stop offset="0.9142" stop-color="#ffff47"/><stop offset="0.9162" stop-color="#fff800"/><stop offset="0.9181" stop-color="#ffc200"/><stop offset="0.9181" stop-color="#ffc200"/><stop offset="0.9604" stop-color="#ffc200"/><stop offset="0.9604" stop-color="#ffc200"/><stop offset="0.9621" stop-color="#ff9500"/><stop offset="0.9638" stop-color="#ff6900"/><stop offset="0.9638" stop-color="#ff6900"/><stop offset="0.9662" stop-color="#ff2000"/><stop offset="0.9662" stop-color="#ff2000"/><stop offset="0.9667" stop-color="#ff1f00"/><stop offset="1.0000" stop-color="#ff1f00"/></linearGradient><linearGradient id="v41" gradientUnits="userSpaceOnUse" x1="0" y1="194.7" x2="0" y2="309"><stop offset="0.0000" stop-color="#ffffb3"/><stop offset="0.5373" stop-color="#ffffb3"/><stop offset="0.5402" stop-color="#ffff6e"/><stop offset="0.5431" stop-color="#ffff29"/><stop offset="0.5431" stop-color="#ffff29"/><stop offset="0.9123" stop-color="#ffff29"/><stop offset="0.9152" stop-color="#ffdd00"/><stop offset="0.9181" stop-color="#ffa000"/><stop offset="0.9181" stop-color="#ffa000"/><stop offset="0.9604" stop-color="#ffa000"/><stop offset="0.9604" stop-color="#ffa000"/><stop offset="0.9638" stop-color="#ff5100"/><stop offset="0.9638" stop-color="#ff5100"/><stop offset="0.9662" stop-color="#ff1800"/><stop offset="0.9667" stop-color="#ff1800"/><stop offset="1.0000" stop-color="#ff1800"/></linearGradient><linearGradient id="v42" gradientUnits="userSpaceOnUse" x1="0" y1="194.7" x2="0" y2="309"><stop offset="0.0000" stop-color="#ffff80"/><stop offset="0.5373" stop-color="#ffff80"/><stop offset="0.5431" stop-color="#ffff29"/><stop offset="0.5431" stop-color="#ffff29"/><stop offset="0.9123" stop-color="#ffff29"/><stop offset="0.9152" stop-color="#ffe200"/><stop offset="0.9181" stop-color="#ffaa00"/><stop offset="0.9181" stop-color="#ffaa00"/><stop offset="0.9604" stop-color="#ffaa00"/><stop offset="0.9604" stop-color="#ffaa00"/><stop offset="0.9621" stop-color="#ff7300"/><stop offset="0.9638" stop-color="#ff3d00"/><stop offset="0.9638" stop-color="#ff3d00"/><stop offset="0.9662" stop-color="#ee0000"/><stop offset="0.9667" stop-color="#ee0000"/><stop offset="1.0000" stop-color="#ee0000"/></linearGradient><linearGradient id="v43" gradientUnits="userSpaceOnUse" x1="0" y1="194.7" x2="0" y2="309"><stop offset="0.0000" stop-color="#ffff80"/><stop offset="0.9123" stop-color="#ffff80"/><stop offset="0.9181" stop-color="#ffff33"/><stop offset="0.9181" stop-color="#ffff33"/><stop offset="0.9412" stop-color="#ffff33"/><stop offset="0.9412" stop-color="#ffff33"/><stop offset="0.9441" stop-color="#ffe500"/><stop offset="0.9469" stop-color="#ffaa00"/><stop offset="0.9604" stop-color="#ffaa00"/><stop offset="0.9604" stop-color="#ffaa00"/><stop offset="0.9638" stop-color="#ff6500"/><stop offset="0.9638" stop-color="#ff6500"/><stop offset="0.9650" stop-color="#ff3200"/><stop offset="0.9662" stop-color="#ff0000"/><stop offset="0.9662" stop-color="#ff0000"/><stop offset="0.9667" stop-color="#f50000"/><stop offset="1.0000" stop-color="#f50000"/></linearGradient><linearGradient id="v44" gradientUnits="userSpaceOnUse" x1="0" y1="194.7" x2="0" y2="309"><stop offset="0.0000" stop-color="#ffffe5"/><stop offset="0.8739" stop-color="#ffffe5"/><stop offset="0.8767" stop-color="#ffff99"/><stop offset="0.8796" stop-color="#ffff4c"/><stop offset="0.9412" stop-color="#ffff4c"/><stop offset="0.9412" stop-color="#ffff4c"/><stop offset="0.9441" stop-color="#fff600"/><stop offset="0.9469" stop-color="#ffbb00"/><stop offset="0.9508" stop-color="#ffbb00"/><stop offset="0.9537" stop-color="#ff8800"/><stop offset="0.9566" stop-color="#ff5500"/><stop offset="0.9566" stop-color="#ff5500"/><stop offset="0.9638" stop-color="#ff5500"/><stop offset="0.9667" stop-color="#ff1800"/><stop offset="1.0000" stop-color="#ff1800"/></linearGradient><linearGradient id="v45" gradientUnits="userSpaceOnUse" x1="0" y1="194.7" x2="0" y2="309"><stop offset="0.0000" stop-color="#ffffcc"/><stop offset="0.7296" stop-color="#ffffcc"/><stop offset="0.7296" stop-color="#ffffcc"/><stop offset="0.7354" stop-color="#ffff80"/><stop offset="0.7354" stop-color="#ffff80"/><stop offset="0.7873" stop-color="#ffff7f"/><stop offset="0.7873" stop-color="#ffff7f"/><stop offset="0.7902" stop-color="#ffff26"/><stop offset="0.7931" stop-color="#ffdd00"/><stop offset="0.7931" stop-color="#ffdd00"/><stop offset="0.8739" stop-color="#ffdd00"/><stop offset="0.8767" stop-color="#ffaa00"/><stop offset="0.8796" stop-color="#ff7700"/><stop offset="0.9508" stop-color="#ff7700"/><stop offset="0.9537" stop-color="#ff4400"/><stop offset="0.9566" stop-color="#ff1100"/><stop offset="0.9566" stop-color="#ff1100"/><stop offset="0.9638" stop-color="#ff1100"/><stop offset="0.9667" stop-color="#ff1100"/><stop offset="1.0000" stop-color="#ff1100"/></linearGradient><linearGradient id="v46" gradientUnits="userSpaceOnUse" x1="0" y1="194.7" x2="0" y2="309"><stop offset="0.0000" stop-color="#ffff99"/><stop offset="0.7296" stop-color="#ffff99"/><stop offset="0.7296" stop-color="#ffff99"/><stop offset="0.7354" stop-color="#ffff4d"/><stop offset="0.7354" stop-color="#ffff4d"/><stop offset="0.7873" stop-color="#ffff4c"/><stop offset="0.7873" stop-color="#ffff4c"/><stop offset="0.7902" stop-color="#fff600"/><stop offset="0.7931" stop-color="#ffbb00"/><stop offset="0.7931" stop-color="#ffbb00"/><stop offset="0.9315" stop-color="#ffbb00"/><stop offset="0.9335" stop-color="#ff8000"/><stop offset="0.9354" stop-color="#ff4500"/><stop offset="0.9373" stop-color="#ff0a00"/><stop offset="0.9373" stop-color="#ff0a00"/><stop offset="0.9638" stop-color="#ff0a00"/><stop offset="0.9667" stop-color="#ff0a00"/><stop offset="1.0000" stop-color="#ff0a00"/></linearGradient><linearGradient id="v47" gradientUnits="userSpaceOnUse" x1="0" y1="194.7" x2="0" y2="309"><stop offset="0.0000" stop-color="#ffff99"/><stop offset="0.6046" stop-color="#ffff99"/><stop offset="0.6046" stop-color="#ffff99"/><stop offset="0.6104" stop-color="#ffff66"/><stop offset="0.8835" stop-color="#ffff66"/><stop offset="0.8835" stop-color="#ffff66"/><stop offset="0.8892" stop-color="#ffff00"/><stop offset="0.8892" stop-color="#ffff00"/><stop offset="0.9315" stop-color="#ffff00"/><stop offset="0.9335" stop-color="#ffc400"/><stop offset="0.9354" stop-color="#ff8900"/><stop offset="0.9373" stop-color="#ff4e00"/><stop offset="0.9373" stop-color="#ff4e00"/><stop offset="0.9508" stop-color="#ff4e00"/><stop offset="0.9537" stop-color="#ff1b00"/><stop offset="0.9566" stop-color="#e70000"/><stop offset="0.9566" stop-color="#e70000"/><stop offset="0.9638" stop-color="#e70000"/><stop offset="0.9667" stop-color="#e70000"/><stop offset="1.0000" stop-color="#e70000"/></linearGradient><linearGradient id="v48" gradientUnits="userSpaceOnUse" x1="0" y1="194.7" x2="0" y2="309"><stop offset="0.0000" stop-color="#ffff99"/><stop offset="0.6046" stop-color="#ffff99"/><stop offset="0.6046" stop-color="#ffff99"/><stop offset="0.6104" stop-color="#ffff66"/><stop offset="0.8835" stop-color="#ffff66"/><stop offset="0.8835" stop-color="#ffff66"/><stop offset="0.8892" stop-color="#ffff00"/><stop offset="0.8892" stop-color="#ffff00"/><stop offset="0.9508" stop-color="#ffff00"/><stop offset="0.9519" stop-color="#ffc000"/><stop offset="0.9531" stop-color="#ff8200"/><stop offset="0.9542" stop-color="#ff4300"/><stop offset="0.9554" stop-color="#ff0500"/><stop offset="0.9566" stop-color="#c50000"/><stop offset="0.9566" stop-color="#c50000"/><stop offset="0.9638" stop-color="#c50000"/><stop offset="0.9667" stop-color="#c50000"/><stop offset="1.0000" stop-color="#c50000"/></linearGradient><linearGradient id="v49" gradientUnits="userSpaceOnUse" x1="0" y1="194.7" x2="0" y2="309"><stop offset="0.0000" stop-color="#ffff7a"/><stop offset="0.8162" stop-color="#ffff7a"/><stop offset="0.8181" stop-color="#ffff30"/><stop offset="0.8200" stop-color="#ffed00"/><stop offset="0.8219" stop-color="#ffbb00"/><stop offset="0.9508" stop-color="#ffbb00"/><stop offset="0.9522" stop-color="#ff8600"/><stop offset="0.9537" stop-color="#ff5200"/><stop offset="0.9551" stop-color="#ff1d00"/><stop offset="0.9566" stop-color="#e70000"/><stop offset="0.9566" stop-color="#e70000"/><stop offset="0.9638" stop-color="#e70000"/><stop offset="0.9667" stop-color="#e70000"/><stop offset="1.0000" stop-color="#e70000"/></linearGradient><linearGradient id="v50" gradientUnits="userSpaceOnUse" x1="0" y1="194.7" x2="0" y2="309"><stop offset="0.0000" stop-color="#ffff7a"/><stop offset="0.8162" stop-color="#ffff7a"/><stop offset="0.8181" stop-color="#ffff30"/><stop offset="0.8200" stop-color="#ffed00"/><stop offset="0.8219" stop-color="#ffbb00"/><stop offset="0.8546" stop-color="#ffbb00"/><stop offset="0.8575" stop-color="#ff8800"/><stop offset="0.8604" stop-color="#ff5500"/><stop offset="0.9638" stop-color="#ff5500"/><stop offset="0.9667" stop-color="#ff1800"/><stop offset="1.0000" stop-color="#ff1800"/></linearGradient><linearGradient id="v51" gradientUnits="userSpaceOnUse" x1="0" y1="194.7" x2="0" y2="309"><stop offset="0.0000" stop-color="#ffffbd"/><stop offset="0.6912" stop-color="#ffffbd"/><stop offset="0.6969" stop-color="#ffff8f"/><stop offset="0.6969" stop-color="#ffff8f"/><stop offset="0.7489" stop-color="#ffff8f"/><stop offset="0.7489" stop-color="#ffff8f"/><stop offset="0.7546" stop-color="#ffff66"/><stop offset="0.7546" stop-color="#ffff66"/><stop offset="0.8450" stop-color="#ffff66"/><stop offset="0.8450" stop-color="#ffff66"/><stop offset="0.8508" stop-color="#ffff29"/><stop offset="0.8508" stop-color="#ffff29"/><stop offset="0.8546" stop-color="#ffff29"/><stop offset="0.8575" stop-color="#ffe700"/><stop offset="0.8604" stop-color="#ffb400"/><stop offset="0.9638" stop-color="#ffb400"/><stop offset="0.9647" stop-color="#ff8200"/><stop offset="0.9657" stop-color="#ff5000"/><stop offset="0.9667" stop-color="#ff1f00"/><stop offset="1.0000" stop-color="#ff1f00"/></linearGradient><linearGradient id="v52" gradientUnits="userSpaceOnUse" x1="0" y1="194.7" x2="0" y2="309"><stop offset="0.0000" stop-color="#ffffe0"/><stop offset="0.6912" stop-color="#ffffe0"/><stop offset="0.6969" stop-color="#ffffb3"/><stop offset="0.6969" stop-color="#ffffb3"/><stop offset="0.7489" stop-color="#ffffb2"/><stop offset="0.7489" stop-color="#ffffb2"/><stop offset="0.7546" stop-color="#ffff8a"/><stop offset="0.7546" stop-color="#ffff8a"/><stop offset="0.8450" stop-color="#ffff8a"/><stop offset="0.8450" stop-color="#ffff8a"/><stop offset="0.8508" stop-color="#ffff4d"/><stop offset="0.8508" stop-color="#ffff4d"/><stop offset="0.8642" stop-color="#ffff4c"/><stop offset="0.8642" stop-color="#ffff4c"/><stop offset="0.8700" stop-color="#fff100"/><stop offset="0.8700" stop-color="#fff100"/><stop offset="0.9638" stop-color="#fff100"/><stop offset="0.9645" stop-color="#ffbd00"/><stop offset="0.9652" stop-color="#ff8800"/><stop offset="0.9659" stop-color="#ff5300"/><stop offset="0.9667" stop-color="#ff1f00"/><stop offset="1.0000" stop-color="#ff1f00"/></linearGradient><linearGradient id="v53" gradientUnits="userSpaceOnUse" x1="0" y1="194.7" x2="0" y2="309"><stop offset="0.0000" stop-color="#ffffd6"/><stop offset="0.8642" stop-color="#ffffd6"/><stop offset="0.8642" stop-color="#ffffd6"/><stop offset="0.8700" stop-color="#ffff75"/><stop offset="0.8700" stop-color="#ffff75"/><stop offset="0.8739" stop-color="#ffff75"/><stop offset="0.8796" stop-color="#ffff1f"/><stop offset="0.9638" stop-color="#ffff1f"/><stop offset="0.9645" stop-color="#ffd600"/><stop offset="0.9652" stop-color="#ff9900"/><stop offset="0.9659" stop-color="#ff5c00"/><stop offset="0.9667" stop-color="#ff1f00"/><stop offset="1.0000" stop-color="#ff1f00"/></linearGradient><linearGradient id="v54" gradientUnits="userSpaceOnUse" x1="0" y1="194.7" x2="0" y2="309"><stop offset="0.0000" stop-color="#ffffbd"/><stop offset="0.8642" stop-color="#ffffbd"/><stop offset="0.8642" stop-color="#ffffbd"/><stop offset="0.8700" stop-color="#ffff75"/><stop offset="0.8700" stop-color="#ffff75"/><stop offset="0.8739" stop-color="#ffff75"/><stop offset="0.8796" stop-color="#ffff1f"/><stop offset="0.9412" stop-color="#ffff1f"/><stop offset="0.9412" stop-color="#ffff1f"/><stop offset="0.9469" stop-color="#ffcf00"/><stop offset="0.9638" stop-color="#ffcf00"/><stop offset="0.9647" stop-color="#ff9400"/><stop offset="0.9657" stop-color="#ff5a00"/><stop offset="0.9667" stop-color="#ff1f00"/><stop offset="1.0000" stop-color="#ff1f00"/></linearGradient><linearGradient id="v55" gradientUnits="userSpaceOnUse" x1="0" y1="194.7" x2="0" y2="309"><stop offset="0.0000" stop-color="#ffffb3"/><stop offset="0.8642" stop-color="#ffffb2"/><stop offset="0.8642" stop-color="#ffffb2"/><stop offset="0.8700" stop-color="#ffff6b"/><stop offset="0.8700" stop-color="#ffff6b"/><stop offset="0.9315" stop-color="#ffff6b"/><stop offset="0.9330" stop-color="#ffff1b"/><stop offset="0.9344" stop-color="#ffdb00"/><stop offset="0.9359" stop-color="#ffa600"/><stop offset="0.9373" stop-color="#ff7000"/><stop offset="0.9373" stop-color="#ff7000"/><stop offset="0.9412" stop-color="#ff7000"/><stop offset="0.9412" stop-color="#ff7000"/><stop offset="0.9469" stop-color="#ff2c00"/><stop offset="0.9638" stop-color="#ff2c00"/><stop offset="0.9667" stop-color="#f50000"/><stop offset="1.0000" stop-color="#f50000"/></linearGradient><linearGradient id="v56" gradientUnits="userSpaceOnUse" x1="0" y1="194.7" x2="0" y2="309"><stop offset="0.0000" stop-color="#ffffb3"/><stop offset="0.9123" stop-color="#ffffb3"/><stop offset="0.9152" stop-color="#ffff6e"/><stop offset="0.9181" stop-color="#ffff29"/><stop offset="0.9181" stop-color="#ffff29"/><stop offset="0.9315" stop-color="#ffff29"/><stop offset="0.9330" stop-color="#ffe500"/><stop offset="0.9344" stop-color="#ffaf00"/><stop offset="0.9359" stop-color="#ff7a00"/><stop offset="0.9373" stop-color="#ff4400"/><stop offset="0.9373" stop-color="#ff4400"/><stop offset="0.9638" stop-color="#ff4400"/><stop offset="0.9667" stop-color="#f50000"/><stop offset="1.0000" stop-color="#f50000"/></linearGradient><linearGradient id="v57" gradientUnits="userSpaceOnUse" x1="0" y1="194.7" x2="0" y2="309"><stop offset="0.0000" stop-color="#ffffa3"/><stop offset="0.8931" stop-color="#ffffa3"/><stop offset="0.8989" stop-color="#ffff3d"/><stop offset="0.8989" stop-color="#ffff3d"/><stop offset="0.9123" stop-color="#ffff3d"/><stop offset="0.9152" stop-color="#fffa00"/><stop offset="0.9181" stop-color="#ffcc00"/><stop offset="0.9181" stop-color="#ffcc00"/><stop offset="0.9638" stop-color="#ffcc00"/><stop offset="0.9647" stop-color="#ff9200"/><stop offset="0.9657" stop-color="#ff5800"/><stop offset="0.9667" stop-color="#ff1f00"/><stop offset="1.0000" stop-color="#ff1f00"/></linearGradient><linearGradient id="v58" gradientUnits="userSpaceOnUse" x1="0" y1="194.7" x2="0" y2="309"><stop offset="0.0000" stop-color="#ffff5c"/><stop offset="0.8931" stop-color="#ffff5c"/><stop offset="0.8960" stop-color="#ffff08"/><stop offset="0.8989" stop-color="#ffcc00"/><stop offset="0.8989" stop-color="#ffcc00"/><stop offset="0.9638" stop-color="#ffcc00"/><stop offset="0.9647" stop-color="#ff9200"/><stop offset="0.9657" stop-color="#ff5800"/><stop offset="0.9667" stop-color="#ff1f00"/><stop offset="1.0000" stop-color="#ff1f00"/></linearGradient><linearGradient id="cb4" x1="0" y1="0" x2="0" y2="1"><stop offset="0.000" stop-color="#ffffff"/><stop offset="0.062" stop-color="#ffffbf"/><stop offset="0.125" stop-color="#ffff80"/><stop offset="0.188" stop-color="#ffff40"/><stop offset="0.250" stop-color="#ffff00"/><stop offset="0.312" stop-color="#ffd400"/><stop offset="0.375" stop-color="#ffaa00"/><stop offset="0.438" stop-color="#ff8000"/><stop offset="0.500" stop-color="#ff5500"/><stop offset="0.562" stop-color="#ff2a00"/><stop offset="0.625" stop-color="#ff0000"/><stop offset="0.688" stop-color="#d40000"/><stop offset="0.750" stop-color="#aa0000"/><stop offset="0.812" stop-color="#800000"/><stop offset="0.875" stop-color="#550000"/><stop offset="0.938" stop-color="#2a0000"/><stop offset="1.000" stop-color="#000000"/></linearGradient><clipPath id="clipe"><rect x="222.5" y="197.7" width="125.1" height="108.3"/></clipPath><linearGradient id="v59" gradientUnits="userSpaceOnUse" x1="0" y1="194.7" x2="0" y2="309"><stop offset="0.0000" stop-color="#ffff1f"/><stop offset="0.7777" stop-color="#ffff1f"/><stop offset="0.7806" stop-color="#ffd600"/><stop offset="0.7835" stop-color="#ff9900"/><stop offset="0.9638" stop-color="#ff9900"/><stop offset="0.9652" stop-color="#ff5c00"/><stop offset="0.9666" stop-color="#ff1f00"/><stop offset="1.0000" stop-color="#ff1f00"/></linearGradient><linearGradient id="v60" gradientUnits="userSpaceOnUse" x1="0" y1="194.7" x2="0" y2="309"><stop offset="0.0000" stop-color="#ffff1f"/><stop offset="0.9412" stop-color="#ffff1f"/><stop offset="0.9431" stop-color="#ffd400"/><stop offset="0.9450" stop-color="#ff9400"/><stop offset="0.9469" stop-color="#ff5500"/><stop offset="0.9638" stop-color="#ff5500"/><stop offset="0.9666" stop-color="#ff1f00"/><stop offset="1.0000" stop-color="#ff1f00"/></linearGradient><linearGradient id="v61" gradientUnits="userSpaceOnUse" x1="0" y1="194.7" x2="0" y2="309"><stop offset="0.0000" stop-color="#ffff66"/><stop offset="0.8450" stop-color="#ffff66"/><stop offset="0.8469" stop-color="#ffff18"/><stop offset="0.8489" stop-color="#ffdb00"/><stop offset="0.8508" stop-color="#ffa700"/><stop offset="0.9412" stop-color="#ffa700"/><stop offset="0.9431" stop-color="#ff7500"/><stop offset="0.9450" stop-color="#ff4300"/><stop offset="0.9469" stop-color="#ff1100"/><stop offset="0.9638" stop-color="#ff1100"/><stop offset="0.9666" stop-color="#ff1100"/><stop offset="1.0000" stop-color="#ff1100"/></linearGradient><linearGradient id="v62" gradientUnits="userSpaceOnUse" x1="0" y1="194.7" x2="0" y2="309"><stop offset="0.0000" stop-color="#ffff33"/><stop offset="0.8450" stop-color="#ffff33"/><stop offset="0.8479" stop-color="#ffe400"/><stop offset="0.8508" stop-color="#ffa700"/><stop offset="0.9638" stop-color="#ffa700"/><stop offset="0.9647" stop-color="#ff7900"/><stop offset="0.9657" stop-color="#ff4c00"/><stop offset="0.9666" stop-color="#ff1f00"/><stop offset="1.0000" stop-color="#ff1f00"/></linearGradient><linearGradient id="v63" gradientUnits="userSpaceOnUse" x1="0" y1="194.7" x2="0" y2="309"><stop offset="0.0000" stop-color="#ffff33"/><stop offset="0.6912" stop-color="#ffff33"/><stop offset="0.6969" stop-color="#ffcf00"/><stop offset="0.8354" stop-color="#ffcf00"/><stop offset="0.8412" stop-color="#ff8b00"/><stop offset="0.9638" stop-color="#ff8b00"/><stop offset="0.9652" stop-color="#ff5500"/><stop offset="0.9666" stop-color="#ff1f00"/><stop offset="1.0000" stop-color="#ff1f00"/></linearGradient><linearGradient id="v64" gradientUnits="userSpaceOnUse" x1="0" y1="194.7" x2="0" y2="309"><stop offset="0.0000" stop-color="#ffb400"/><stop offset="0.6239" stop-color="#ffb400"/><stop offset="0.6296" stop-color="#ff9900"/><stop offset="0.9638" stop-color="#ff9900"/><stop offset="0.9652" stop-color="#ff5c00"/><stop offset="0.9666" stop-color="#ff1f00"/><stop offset="1.0000" stop-color="#ff1f00"/></linearGradient><linearGradient id="v65" gradientUnits="userSpaceOnUse" x1="0" y1="194.7" x2="0" y2="309"><stop offset="0.0000" stop-color="#ffff85"/><stop offset="0.6239" stop-color="#ffff85"/><stop offset="0.6296" stop-color="#ffff1f"/><stop offset="0.9412" stop-color="#ffff1f"/><stop offset="0.9441" stop-color="#ffd600"/><stop offset="0.9469" stop-color="#ff9900"/><stop offset="0.9638" stop-color="#ff9900"/><stop offset="0.9652" stop-color="#ff5c00"/><stop offset="0.9666" stop-color="#ff1f00"/><stop offset="1.0000" stop-color="#ff1f00"/></linearGradient><linearGradient id="v66" gradientUnits="userSpaceOnUse" x1="0" y1="194.7" x2="0" y2="309"><stop offset="0.0000" stop-color="#ffff99"/><stop offset="0.6719" stop-color="#ffff99"/><stop offset="0.6777" stop-color="#ffff1f"/><stop offset="0.9412" stop-color="#ffff1f"/><stop offset="0.9431" stop-color="#ffe600"/><stop offset="0.9450" stop-color="#ffb900"/><stop offset="0.9469" stop-color="#ff8b00"/><stop offset="0.9638" stop-color="#ff8b00"/><stop offset="0.9652" stop-color="#ff5500"/><stop offset="0.9666" stop-color="#ff1f00"/><stop offset="1.0000" stop-color="#ff1f00"/></linearGradient><linearGradient id="v67" gradientUnits="userSpaceOnUse" x1="0" y1="194.7" x2="0" y2="309"><stop offset="0.0000" stop-color="#ffff85"/><stop offset="0.7489" stop-color="#ffff85"/><stop offset="0.7546" stop-color="#ffff33"/><stop offset="0.9638" stop-color="#ffff33"/><stop offset="0.9645" stop-color="#ffe000"/><stop offset="0.9652" stop-color="#ffa000"/><stop offset="0.9659" stop-color="#ff5f00"/><stop offset="0.9666" stop-color="#ff1f00"/><stop offset="1.0000" stop-color="#ff1f00"/></linearGradient><linearGradient id="v68" gradientUnits="userSpaceOnUse" x1="0" y1="194.7" x2="0" y2="309"><stop offset="0.0000" stop-color="#ffffcc"/><stop offset="0.5085" stop-color="#ffffcc"/><stop offset="0.5143" stop-color="#ffff99"/><stop offset="0.7441" stop-color="#ffff99"/><stop offset="0.7498" stop-color="#ffff1f"/><stop offset="0.9412" stop-color="#ffff1f"/><stop offset="0.9423" stop-color="#ffd200"/><stop offset="0.9435" stop-color="#ff9100"/><stop offset="0.9446" stop-color="#ff5000"/><stop offset="0.9458" stop-color="#ff0e00"/><stop offset="0.9469" stop-color="#cc0000"/><stop offset="0.9638" stop-color="#cc0000"/><stop offset="0.9666" stop-color="#cc0000"/><stop offset="1.0000" stop-color="#cc0000"/></linearGradient><linearGradient id="v69" gradientUnits="userSpaceOnUse" x1="0" y1="194.7" x2="0" y2="309"><stop offset="0.0000" stop-color="#ffffff"/><stop offset="0.5085" stop-color="#ffffff"/><stop offset="0.5104" stop-color="#ffffb4"/><stop offset="0.5123" stop-color="#ffff69"/><stop offset="0.5143" stop-color="#ffff1f"/><stop offset="0.8258" stop-color="#ffff1f"/><stop offset="0.8272" stop-color="#ffdb00"/><stop offset="0.8287" stop-color="#ffa300"/><stop offset="0.8301" stop-color="#ff6b00"/><stop offset="0.8316" stop-color="#ff3300"/><stop offset="0.9508" stop-color="#ff3300"/><stop offset="0.9537" stop-color="#f80000"/><stop offset="0.9566" stop-color="#be0000"/><stop offset="0.9638" stop-color="#be0000"/><stop offset="0.9666" stop-color="#be0000"/><stop offset="1.0000" stop-color="#be0000"/></linearGradient><linearGradient id="v70" gradientUnits="userSpaceOnUse" x1="0" y1="194.7" x2="0" y2="309"><stop offset="0.0000" stop-color="#ff9900"/><stop offset="0.5277" stop-color="#ff9900"/><stop offset="0.5335" stop-color="#ff7700"/><stop offset="0.9638" stop-color="#ff7700"/><stop offset="0.9652" stop-color="#ff4b00"/><stop offset="0.9666" stop-color="#ff1f00"/><stop offset="1.0000" stop-color="#ff1f00"/></linearGradient><linearGradient id="v71" gradientUnits="userSpaceOnUse" x1="0" y1="194.7" x2="0" y2="309"><stop offset="0.0000" stop-color="#ffff99"/><stop offset="0.5325" stop-color="#ffff99"/><stop offset="0.5344" stop-color="#ffff47"/><stop offset="0.5364" stop-color="#fff800"/><stop offset="0.5383" stop-color="#ffc200"/><stop offset="0.6816" stop-color="#ffc200"/><stop offset="0.6873" stop-color="#ff8b00"/><stop offset="0.9638" stop-color="#ff8b00"/><stop offset="0.9652" stop-color="#ff5500"/><stop offset="0.9666" stop-color="#ff1f00"/><stop offset="1.0000" stop-color="#ff1f00"/></linearGradient><linearGradient id="v72" gradientUnits="userSpaceOnUse" x1="0" y1="194.7" x2="0" y2="309"><stop offset="0.0000" stop-color="#ffffeb"/><stop offset="0.5854" stop-color="#ffffeb"/><stop offset="0.5869" stop-color="#ffff99"/><stop offset="0.5883" stop-color="#ffff47"/><stop offset="0.5897" stop-color="#fff800"/><stop offset="0.5912" stop-color="#ffc200"/><stop offset="0.6816" stop-color="#ffc200"/><stop offset="0.6873" stop-color="#ff8500"/><stop offset="0.9638" stop-color="#ff8500"/><stop offset="0.9652" stop-color="#ff5200"/><stop offset="0.9666" stop-color="#ff1f00"/><stop offset="1.0000" stop-color="#ff1f00"/></linearGradient><linearGradient id="v73" gradientUnits="userSpaceOnUse" x1="0" y1="194.7" x2="0" y2="309"><stop offset="0.0000" stop-color="#ffffd6"/><stop offset="0.5421" stop-color="#ffffd6"/><stop offset="0.5441" stop-color="#ffff70"/><stop offset="0.5460" stop-color="#ffff0a"/><stop offset="0.5479" stop-color="#ffc200"/><stop offset="0.7008" stop-color="#ffc200"/><stop offset="0.7066" stop-color="#ff8b00"/><stop offset="0.9638" stop-color="#ff8b00"/><stop offset="0.9652" stop-color="#ff5500"/><stop offset="0.9666" stop-color="#ff1f00"/><stop offset="1.0000" stop-color="#ff1f00"/></linearGradient><linearGradient id="v74" gradientUnits="userSpaceOnUse" x1="0" y1="194.7" x2="0" y2="309"><stop offset="0.0000" stop-color="#ffff66"/><stop offset="0.7008" stop-color="#ffff66"/><stop offset="0.7066" stop-color="#ffff33"/><stop offset="0.9638" stop-color="#ffff33"/><stop offset="0.9645" stop-color="#ffe000"/><stop offset="0.9652" stop-color="#ffa000"/><stop offset="0.9659" stop-color="#ff5f00"/><stop offset="0.9666" stop-color="#ff1f00"/><stop offset="1.0000" stop-color="#ff1f00"/></linearGradient><linearGradient id="v75" gradientUnits="userSpaceOnUse" x1="0" y1="194.7" x2="0" y2="309"><stop offset="0.0000" stop-color="#ffffeb"/><stop offset="0.7008" stop-color="#ffffeb"/><stop offset="0.7022" stop-color="#ffff8a"/><stop offset="0.7037" stop-color="#ffff29"/><stop offset="0.7051" stop-color="#ffda00"/><stop offset="0.7066" stop-color="#ff9900"/><stop offset="0.9638" stop-color="#ff9900"/><stop offset="0.9652" stop-color="#ff5c00"/><stop offset="0.9666" stop-color="#ff1f00"/><stop offset="1.0000" stop-color="#ff1f00"/></linearGradient><linearGradient id="v76" gradientUnits="userSpaceOnUse" x1="0" y1="194.7" x2="0" y2="309"><stop offset="0.0000" stop-color="#ff4700"/><stop offset="0.9638" stop-color="#ff4700"/><stop offset="0.9666" stop-color="#ff1f00"/><stop offset="1.0000" stop-color="#ff1f00"/></linearGradient><linearGradient id="v77" gradientUnits="userSpaceOnUse" x1="0" y1="194.7" x2="0" y2="309"><stop offset="0.0000" stop-color="#ff3a00"/><stop offset="0.9638" stop-color="#ff3a00"/><stop offset="0.9666" stop-color="#ff1f00"/><stop offset="1.0000" stop-color="#ff1f00"/></linearGradient><linearGradient id="v78" gradientUnits="userSpaceOnUse" x1="0" y1="194.7" x2="0" y2="309"><stop offset="0.0000" stop-color="#ffff33"/><stop offset="0.9638" stop-color="#ffff33"/><stop offset="0.9645" stop-color="#ffe000"/><stop offset="0.9652" stop-color="#ffa000"/><stop offset="0.9659" stop-color="#ff5f00"/><stop offset="0.9666" stop-color="#ff1f00"/><stop offset="1.0000" stop-color="#ff1f00"/></linearGradient><linearGradient id="v79" gradientUnits="userSpaceOnUse" x1="0" y1="194.7" x2="0" y2="309"><stop offset="0.0000" stop-color="#ffff85"/><stop offset="0.9638" stop-color="#ffff85"/><stop offset="0.9643" stop-color="#ffff27"/><stop offset="0.9649" stop-color="#ffda00"/><stop offset="0.9655" stop-color="#ff9c00"/><stop offset="0.9661" stop-color="#ff5d00"/><stop offset="0.9666" stop-color="#ff1f00"/><stop offset="1.0000" stop-color="#ff1f00"/></linearGradient><linearGradient id="v80" gradientUnits="userSpaceOnUse" x1="0" y1="194.7" x2="0" y2="309"><stop offset="0.0000" stop-color="#ffff85"/><stop offset="0.9638" stop-color="#ffff85"/><stop offset="0.9643" stop-color="#ffff27"/><stop offset="0.9649" stop-color="#ffda00"/><stop offset="0.9655" stop-color="#ff9c00"/><stop offset="0.9661" stop-color="#ff5d00"/><stop offset="0.9666" stop-color="#ff1f00"/><stop offset="1.0000" stop-color="#ff1f00"/></linearGradient><linearGradient id="v81" gradientUnits="userSpaceOnUse" x1="0" y1="194.7" x2="0" y2="309"><stop offset="0.0000" stop-color="#ffcf00"/><stop offset="0.7441" stop-color="#ffcf00"/><stop offset="0.7460" stop-color="#ffa200"/><stop offset="0.7479" stop-color="#ff7500"/><stop offset="0.7498" stop-color="#ff4700"/><stop offset="0.9638" stop-color="#ff4700"/><stop offset="0.9666" stop-color="#ff1f00"/><stop offset="1.0000" stop-color="#ff1f00"/></linearGradient><linearGradient id="v82" gradientUnits="userSpaceOnUse" x1="0" y1="194.7" x2="0" y2="309"><stop offset="0.0000" stop-color="#ffcf00"/><stop offset="0.7441" stop-color="#ffcf00"/><stop offset="0.7469" stop-color="#ff9200"/><stop offset="0.7498" stop-color="#ff5500"/><stop offset="0.9638" stop-color="#ff5500"/><stop offset="0.9666" stop-color="#ff1f00"/><stop offset="1.0000" stop-color="#ff1f00"/></linearGradient><linearGradient id="v83" gradientUnits="userSpaceOnUse" x1="0" y1="194.7" x2="0" y2="309"><stop offset="0.0000" stop-color="#ff9900"/><stop offset="0.6046" stop-color="#ff9900"/><stop offset="0.6075" stop-color="#ff6600"/><stop offset="0.6104" stop-color="#ff3300"/><stop offset="0.9638" stop-color="#ff3300"/><stop offset="0.9666" stop-color="#ff1f00"/><stop offset="1.0000" stop-color="#ff1f00"/></linearGradient><linearGradient id="v84" gradientUnits="userSpaceOnUse" x1="0" y1="194.7" x2="0" y2="309"><stop offset="0.0000" stop-color="#ffff1f"/><stop offset="0.7777" stop-color="#ffff1f"/><stop offset="0.7835" stop-color="#ffd600"/><stop offset="0.9412" stop-color="#ffd600"/><stop offset="0.9412" stop-color="#ffd600"/><stop offset="0.9441" stop-color="#ffa700"/><stop offset="0.9469" stop-color="#ff7700"/><stop offset="0.9638" stop-color="#ff7700"/><stop offset="0.9652" stop-color="#ff4b00"/><stop offset="0.9667" stop-color="#ff1f00"/><stop offset="1.0000" stop-color="#ff1f00"/></linearGradient><linearGradient id="v85" gradientUnits="userSpaceOnUse" x1="0" y1="194.7" x2="0" y2="309"><stop offset="0.0000" stop-color="#ffff42"/><stop offset="0.8450" stop-color="#ffff42"/><stop offset="0.8450" stop-color="#ffff42"/><stop offset="0.8508" stop-color="#ffdd00"/><stop offset="0.8508" stop-color="#ffdd00"/><stop offset="0.9412" stop-color="#ffdd00"/><stop offset="0.9412" stop-color="#ffdd00"/><stop offset="0.9431" stop-color="#ffa400"/><stop offset="0.9450" stop-color="#ff6c00"/><stop offset="0.9469" stop-color="#ff3300"/><stop offset="0.9638" stop-color="#ff3300"/><stop offset="0.9667" stop-color="#ff1800"/><stop offset="1.0000" stop-color="#ff1800"/></linearGradient><linearGradient id="v86" gradientUnits="userSpaceOnUse" x1="0" y1="194.7" x2="0" y2="309"><stop offset="0.0000" stop-color="#ffff4c"/><stop offset="0.8450" stop-color="#ffff4c"/><stop offset="0.8450" stop-color="#ffff4c"/><stop offset="0.8469" stop-color="#ffff07"/><stop offset="0.8489" stop-color="#ffd500"/><stop offset="0.8508" stop-color="#ffa700"/><stop offset="0.8508" stop-color="#ffa700"/><stop offset="0.9412" stop-color="#ffa700"/><stop offset="0.9412" stop-color="#ffa700"/><stop offset="0.9469" stop-color="#ff5c00"/><stop offset="0.9638" stop-color="#ff5c00"/><stop offset="0.9667" stop-color="#ff1800"/><stop offset="1.0000" stop-color="#ff1800"/></linearGradient><linearGradient id="v87" gradientUnits="userSpaceOnUse" x1="0" y1="194.7" x2="0" y2="309"><stop offset="0.0000" stop-color="#ffff33"/><stop offset="0.6912" stop-color="#ffff33"/><stop offset="0.6969" stop-color="#fff800"/><stop offset="0.6969" stop-color="#fff800"/><stop offset="0.8354" stop-color="#fff800"/><stop offset="0.8412" stop-color="#ffd600"/><stop offset="0.8450" stop-color="#ffd600"/><stop offset="0.8450" stop-color="#ffd600"/><stop offset="0.8508" stop-color="#ff9900"/><stop offset="0.8508" stop-color="#ff9900"/><stop offset="0.9638" stop-color="#ff9900"/><stop offset="0.9652" stop-color="#ff5c00"/><stop offset="0.9667" stop-color="#ff1f00"/><stop offset="1.0000" stop-color="#ff1f00"/></linearGradient><linearGradient id="v88" gradientUnits="userSpaceOnUse" x1="0" y1="194.7" x2="0" y2="309"><stop offset="0.0000" stop-color="#ffeb00"/><stop offset="0.6239" stop-color="#ffeb00"/><stop offset="0.6296" stop-color="#ffdd00"/><stop offset="0.6912" stop-color="#ffdd00"/><stop offset="0.6969" stop-color="#ffb400"/><stop offset="0.6969" stop-color="#ffb400"/><stop offset="0.8354" stop-color="#ffb400"/><stop offset="0.8412" stop-color="#ff9200"/><stop offset="0.9638" stop-color="#ff9200"/><stop offset="0.9652" stop-color="#ff5800"/><stop offset="0.9667" stop-color="#ff1f00"/><stop offset="1.0000" stop-color="#ff1f00"/></linearGradient><linearGradient id="v89" gradientUnits="userSpaceOnUse" x1="0" y1="194.7" x2="0" y2="309"><stop offset="0.0000" stop-color="#ffff0a"/><stop offset="0.6239" stop-color="#ffff0a"/><stop offset="0.6239" stop-color="#ffff0a"/><stop offset="0.6296" stop-color="#ffd600"/><stop offset="0.9412" stop-color="#ffd600"/><stop offset="0.9412" stop-color="#ffd600"/><stop offset="0.9469" stop-color="#ff9900"/><stop offset="0.9638" stop-color="#ff9900"/><stop offset="0.9652" stop-color="#ff5c00"/><stop offset="0.9667" stop-color="#ff1f00"/><stop offset="1.0000" stop-color="#ff1f00"/></linearGradient><linearGradient id="v90" gradientUnits="userSpaceOnUse" x1="0" y1="194.7" x2="0" y2="309"><stop offset="0.0000" stop-color="#ffff8f"/><stop offset="0.6239" stop-color="#ffff8f"/><stop offset="0.6239" stop-color="#ffff8f"/><stop offset="0.6296" stop-color="#ffff5c"/><stop offset="0.6719" stop-color="#ffff5c"/><stop offset="0.6777" stop-color="#ffff1f"/><stop offset="0.6777" stop-color="#ffff1f"/><stop offset="0.9412" stop-color="#ffff1e"/><stop offset="0.9412" stop-color="#ffff1e"/><stop offset="0.9441" stop-color="#ffd300"/><stop offset="0.9469" stop-color="#ff9200"/><stop offset="0.9638" stop-color="#ff9200"/><stop offset="0.9652" stop-color="#ff5800"/><stop offset="0.9667" stop-color="#ff1f00"/><stop offset="1.0000" stop-color="#ff1f00"/></linearGradient><linearGradient id="v91" gradientUnits="userSpaceOnUse" x1="0" y1="194.7" x2="0" y2="309"><stop offset="0.0000" stop-color="#ffff8f"/><stop offset="0.6719" stop-color="#ffff8f"/><stop offset="0.6777" stop-color="#ffff52"/><stop offset="0.6777" stop-color="#ffff52"/><stop offset="0.7489" stop-color="#ffff52"/><stop offset="0.7489" stop-color="#ffff52"/><stop offset="0.7546" stop-color="#ffff29"/><stop offset="0.7546" stop-color="#ffff29"/><stop offset="0.9412" stop-color="#ffff29"/><stop offset="0.9412" stop-color="#ffff29"/><stop offset="0.9469" stop-color="#ffd600"/><stop offset="0.9638" stop-color="#ffd600"/><stop offset="0.9647" stop-color="#ff9900"/><stop offset="0.9657" stop-color="#ff5c00"/><stop offset="0.9667" stop-color="#ff1f00"/><stop offset="1.0000" stop-color="#ff1f00"/></linearGradient><linearGradient id="v92" gradientUnits="userSpaceOnUse" x1="0" y1="194.7" x2="0" y2="309"><stop offset="0.0000" stop-color="#ffffa8"/><stop offset="0.5085" stop-color="#ffffa8"/><stop offset="0.5143" stop-color="#ffff8f"/><stop offset="0.7441" stop-color="#ffff8f"/><stop offset="0.7441" stop-color="#ffff8f"/><stop offset="0.7489" stop-color="#ffff5c"/><stop offset="0.7489" stop-color="#ffff5c"/><stop offset="0.7498" stop-color="#ffff4b"/><stop offset="0.7498" stop-color="#ffff4b"/><stop offset="0.7546" stop-color="#ffff29"/><stop offset="0.7546" stop-color="#ffff29"/><stop offset="0.9412" stop-color="#ffff29"/><stop offset="0.9412" stop-color="#ffff29"/><stop offset="0.9431" stop-color="#ffe400"/><stop offset="0.9450" stop-color="#ffad00"/><stop offset="0.9469" stop-color="#ff7700"/><stop offset="0.9638" stop-color="#ff7700"/><stop offset="0.9652" stop-color="#ff3600"/><stop offset="0.9667" stop-color="#f50000"/><stop offset="1.0000" stop-color="#f50000"/></linearGradient><linearGradient id="v93" gradientUnits="userSpaceOnUse" x1="0" y1="194.7" x2="0" y2="309"><stop offset="0.0000" stop-color="#ffffe5"/><stop offset="0.5085" stop-color="#ffffe5"/><stop offset="0.5085" stop-color="#ffffe5"/><stop offset="0.5114" stop-color="#ffffa1"/><stop offset="0.5143" stop-color="#ffff5c"/><stop offset="0.7441" stop-color="#ffff5c"/><stop offset="0.7441" stop-color="#ffff5c"/><stop offset="0.7498" stop-color="#ffff1f"/><stop offset="0.8258" stop-color="#ffff1e"/><stop offset="0.8258" stop-color="#ffff1e"/><stop offset="0.8287" stop-color="#ffdb00"/><stop offset="0.8316" stop-color="#ffa300"/><stop offset="0.8316" stop-color="#ffa300"/><stop offset="0.9412" stop-color="#ffa300"/><stop offset="0.9412" stop-color="#ffa300"/><stop offset="0.9431" stop-color="#ff6d00"/><stop offset="0.9450" stop-color="#ff3600"/><stop offset="0.9469" stop-color="#ff0000"/><stop offset="0.9508" stop-color="#ff0000"/><stop offset="0.9566" stop-color="#c50000"/><stop offset="0.9566" stop-color="#c50000"/><stop offset="0.9638" stop-color="#c50000"/><stop offset="0.9667" stop-color="#c50000"/><stop offset="1.0000" stop-color="#c50000"/></linearGradient><linearGradient id="v94" gradientUnits="userSpaceOnUse" x1="0" y1="194.7" x2="0" y2="309"><stop offset="0.0000" stop-color="#ffff33"/><stop offset="0.5085" stop-color="#ffff33"/><stop offset="0.5085" stop-color="#ffff33"/><stop offset="0.5143" stop-color="#ffd600"/><stop offset="0.5277" stop-color="#ffd600"/><stop offset="0.5335" stop-color="#ffc500"/><stop offset="0.8258" stop-color="#ffc500"/><stop offset="0.8258" stop-color="#ffc500"/><stop offset="0.8287" stop-color="#ff8d00"/><stop offset="0.8316" stop-color="#ff5500"/><stop offset="0.8316" stop-color="#ff5500"/><stop offset="0.9508" stop-color="#ff5500"/><stop offset="0.9566" stop-color="#ff1b00"/><stop offset="0.9566" stop-color="#ff1b00"/><stop offset="0.9638" stop-color="#ff1b00"/><stop offset="0.9667" stop-color="#ee0000"/><stop offset="1.0000" stop-color="#ee0000"/></linearGradient><linearGradient id="v95" gradientUnits="userSpaceOnUse" x1="0" y1="194.7" x2="0" y2="309"><stop offset="0.0000" stop-color="#ffff00"/><stop offset="0.5277" stop-color="#ffff00"/><stop offset="0.5325" stop-color="#fff100"/><stop offset="0.5325" stop-color="#fff100"/><stop offset="0.5335" stop-color="#ffe000"/><stop offset="0.5335" stop-color="#ffe000"/><stop offset="0.5383" stop-color="#ff9c00"/><stop offset="0.6816" stop-color="#ff9c00"/><stop offset="0.6816" stop-color="#ff9c00"/><stop offset="0.6873" stop-color="#ff8100"/><stop offset="0.9638" stop-color="#ff8100"/><stop offset="0.9652" stop-color="#ff5000"/><stop offset="0.9667" stop-color="#ff1f00"/><stop offset="1.0000" stop-color="#ff1f00"/></linearGradient><linearGradient id="v96" gradientUnits="userSpaceOnUse" x1="0" y1="194.7" x2="0" y2="309"><stop offset="0.0000" stop-color="#ffffc2"/><stop offset="0.5325" stop-color="#ffffc2"/><stop offset="0.5325" stop-color="#ffffc2"/><stop offset="0.5383" stop-color="#ffff47"/><stop offset="0.5854" stop-color="#ffff47"/><stop offset="0.5854" stop-color="#ffff47"/><stop offset="0.5883" stop-color="#fff800"/><stop offset="0.5912" stop-color="#ffc200"/><stop offset="0.6816" stop-color="#ffc200"/><stop offset="0.6816" stop-color="#ffc200"/><stop offset="0.6873" stop-color="#ff8800"/><stop offset="0.9638" stop-color="#ff8800"/><stop offset="0.9652" stop-color="#ff5300"/><stop offset="0.9667" stop-color="#ff1f00"/><stop offset="1.0000" stop-color="#ff1f00"/></linearGradient><linearGradient id="v97" gradientUnits="userSpaceOnUse" x1="0" y1="194.7" x2="0" y2="309"><stop offset="0.0000" stop-color="#ffffe0"/><stop offset="0.5421" stop-color="#ffffe0"/><stop offset="0.5450" stop-color="#ffff94"/><stop offset="0.5479" stop-color="#ffff47"/><stop offset="0.5479" stop-color="#ffff47"/><stop offset="0.5854" stop-color="#ffff47"/><stop offset="0.5854" stop-color="#ffff47"/><stop offset="0.5883" stop-color="#fff800"/><stop offset="0.5912" stop-color="#ffc200"/><stop offset="0.6816" stop-color="#ffc200"/><stop offset="0.6816" stop-color="#ffc200"/><stop offset="0.6873" stop-color="#ffa300"/><stop offset="0.7008" stop-color="#ffa300"/><stop offset="0.7066" stop-color="#ff8800"/><stop offset="0.9638" stop-color="#ff8800"/><stop offset="0.9652" stop-color="#ff5300"/><stop offset="0.9667" stop-color="#ff1f00"/><stop offset="1.0000" stop-color="#ff1f00"/></linearGradient><linearGradient id="v98" gradientUnits="userSpaceOnUse" x1="0" y1="194.7" x2="0" y2="309"><stop offset="0.0000" stop-color="#ffff9e"/><stop offset="0.5421" stop-color="#ffff9e"/><stop offset="0.5450" stop-color="#ffff52"/><stop offset="0.5479" stop-color="#ffff05"/><stop offset="0.5479" stop-color="#ffff05"/><stop offset="0.7008" stop-color="#ffff05"/><stop offset="0.7066" stop-color="#ffd600"/><stop offset="0.9638" stop-color="#ffd600"/><stop offset="0.9647" stop-color="#ff9900"/><stop offset="0.9657" stop-color="#ff5c00"/><stop offset="0.9667" stop-color="#ff1f00"/><stop offset="1.0000" stop-color="#ff1f00"/></linearGradient><linearGradient id="v99" gradientUnits="userSpaceOnUse" x1="0" y1="194.7" x2="0" y2="309"><stop offset="0.0000" stop-color="#ffffa8"/><stop offset="0.7008" stop-color="#ffffa8"/><stop offset="0.7008" stop-color="#ffffa8"/><stop offset="0.7027" stop-color="#ffff5f"/><stop offset="0.7046" stop-color="#ffff16"/><stop offset="0.7066" stop-color="#ffdd00"/><stop offset="0.9638" stop-color="#ffdd00"/><stop offset="0.9647" stop-color="#ff9e00"/><stop offset="0.9657" stop-color="#ff5e00"/><stop offset="0.9667" stop-color="#ff1f00"/><stop offset="1.0000" stop-color="#ff1f00"/></linearGradient><linearGradient id="v100" gradientUnits="userSpaceOnUse" x1="0" y1="194.7" x2="0" y2="309"><stop offset="0.0000" stop-color="#fff100"/><stop offset="0.7008" stop-color="#fff100"/><stop offset="0.7008" stop-color="#fff100"/><stop offset="0.7037" stop-color="#ffb100"/><stop offset="0.7066" stop-color="#ff7000"/><stop offset="0.9638" stop-color="#ff7000"/><stop offset="0.9652" stop-color="#ff4700"/><stop offset="0.9667" stop-color="#ff1f00"/><stop offset="1.0000" stop-color="#ff1f00"/></linearGradient><linearGradient id="v101" gradientUnits="userSpaceOnUse" x1="0" y1="194.7" x2="0" y2="309"><stop offset="0.0000" stop-color="#ff4100"/><stop offset="0.9638" stop-color="#ff4100"/><stop offset="0.9667" stop-color="#ff1f00"/><stop offset="1.0000" stop-color="#ff1f00"/></linearGradient><linearGradient id="v102" gradientUnits="userSpaceOnUse" x1="0" y1="194.7" x2="0" y2="309"><stop offset="0.0000" stop-color="#ffad00"/><stop offset="0.9638" stop-color="#ffad00"/><stop offset="0.9647" stop-color="#ff7e00"/><stop offset="0.9657" stop-color="#ff4e00"/><stop offset="0.9667" stop-color="#ff1f00"/><stop offset="1.0000" stop-color="#ff1f00"/></linearGradient><linearGradient id="v103" gradientUnits="userSpaceOnUse" x1="0" y1="194.7" x2="0" y2="309"><stop offset="0.0000" stop-color="#ffff5c"/><stop offset="0.9638" stop-color="#ffff5c"/><stop offset="0.9643" stop-color="#ffff06"/><stop offset="0.9649" stop-color="#ffca00"/><stop offset="0.9655" stop-color="#ff9100"/><stop offset="0.9661" stop-color="#ff5800"/><stop offset="0.9667" stop-color="#ff1f00"/><stop offset="1.0000" stop-color="#ff1f00"/></linearGradient><linearGradient id="v104" gradientUnits="userSpaceOnUse" x1="0" y1="194.7" x2="0" y2="309"><stop offset="0.0000" stop-color="#ffff85"/><stop offset="0.9638" stop-color="#ffff85"/><stop offset="0.9643" stop-color="#ffff27"/><stop offset="0.9649" stop-color="#ffda00"/><stop offset="0.9655" stop-color="#ff9c00"/><stop offset="0.9661" stop-color="#ff5d00"/><stop offset="0.9667" stop-color="#ff1f00"/><stop offset="1.0000" stop-color="#ff1f00"/></linearGradient><linearGradient id="v105" gradientUnits="userSpaceOnUse" x1="0" y1="194.7" x2="0" y2="309"><stop offset="0.0000" stop-color="#ffff1f"/><stop offset="0.7441" stop-color="#ffff1f"/><stop offset="0.7441" stop-color="#ffff1f"/><stop offset="0.7498" stop-color="#ffcf00"/><stop offset="0.9638" stop-color="#ffcf00"/><stop offset="0.9647" stop-color="#ff9400"/><stop offset="0.9657" stop-color="#ff5a00"/><stop offset="0.9667" stop-color="#ff1f00"/><stop offset="1.0000" stop-color="#ff1f00"/></linearGradient><linearGradient id="v106" gradientUnits="userSpaceOnUse" x1="0" y1="194.7" x2="0" y2="309"><stop offset="0.0000" stop-color="#ffcf00"/><stop offset="0.7441" stop-color="#ffcf00"/><stop offset="0.7441" stop-color="#ffcf00"/><stop offset="0.7469" stop-color="#ff8f00"/><stop offset="0.7498" stop-color="#ff4e00"/><stop offset="0.9638" stop-color="#ff4e00"/><stop offset="0.9667" stop-color="#ff1f00"/><stop offset="1.0000" stop-color="#ff1f00"/></linearGradient><linearGradient id="v107" gradientUnits="userSpaceOnUse" x1="0" y1="194.7" x2="0" y2="309"><stop offset="0.0000" stop-color="#ffb400"/><stop offset="0.6046" stop-color="#ffb400"/><stop offset="0.6046" stop-color="#ffb400"/><stop offset="0.6104" stop-color="#ff8100"/><stop offset="0.7441" stop-color="#ff8100"/><stop offset="0.7441" stop-color="#ff8100"/><stop offset="0.7498" stop-color="#ff4400"/><stop offset="0.9638" stop-color="#ff4400"/><stop offset="0.9667" stop-color="#ff1f00"/><stop offset="1.0000" stop-color="#ff1f00"/></linearGradient><linearGradient id="cb5" x1="0" y1="0" x2="0" y2="1"><stop offset="0.000" stop-color="#ffffff"/><stop offset="0.062" stop-color="#ffffbf"/><stop offset="0.125" stop-color="#ffff80"/><stop offset="0.188" stop-color="#ffff40"/><stop offset="0.250" stop-color="#ffff00"/><stop offset="0.312" stop-color="#ffd400"/><stop offset="0.375" stop-color="#ffaa00"/><stop offset="0.438" stop-color="#ff8000"/><stop offset="0.500" stop-color="#ff5500"/><stop offset="0.562" stop-color="#ff2a00"/><stop offset="0.625" stop-color="#ff0000"/><stop offset="0.688" stop-color="#d40000"/><stop offset="0.750" stop-color="#aa0000"/><stop offset="0.812" stop-color="#800000"/><stop offset="0.875" stop-color="#550000"/><stop offset="0.938" stop-color="#2a0000"/><stop offset="1.000" stop-color="#000000"/></linearGradient><clipPath id="clipf"><rect x="404.7" y="197.7" width="125.1" height="108.3"/></clipPath><linearGradient id="v108" gradientUnits="userSpaceOnUse" x1="0" y1="194.7" x2="0" y2="309"><stop offset="0.0000" stop-color="#ffeb00"/><stop offset="0.9412" stop-color="#ffeb00"/><stop offset="0.9469" stop-color="#ff9900"/><stop offset="0.9638" stop-color="#ff9900"/><stop offset="0.9652" stop-color="#ff5c00"/><stop offset="0.9666" stop-color="#ff1f00"/><stop offset="1.0000" stop-color="#ff1f00"/></linearGradient><linearGradient id="v109" gradientUnits="userSpaceOnUse" x1="0" y1="194.7" x2="0" y2="309"><stop offset="0.0000" stop-color="#ffc200"/><stop offset="0.9412" stop-color="#ffc200"/><stop offset="0.9469" stop-color="#ff8b00"/><stop offset="0.9638" stop-color="#ff8b00"/><stop offset="0.9652" stop-color="#ff5500"/><stop offset="0.9666" stop-color="#ff1f00"/><stop offset="1.0000" stop-color="#ff1f00"/></linearGradient><linearGradient id="v110" gradientUnits="userSpaceOnUse" x1="0" y1="194.7" x2="0" y2="309"><stop offset="0.0000" stop-color="#ffeb00"/><stop offset="0.4796" stop-color="#ffeb00"/><stop offset="0.4854" stop-color="#ffcf00"/><stop offset="0.7873" stop-color="#ffcf00"/><stop offset="0.7931" stop-color="#ff8b00"/><stop offset="0.9638" stop-color="#ff8b00"/><stop offset="0.9652" stop-color="#ff5500"/><stop offset="0.9666" stop-color="#ff1f00"/><stop offset="1.0000" stop-color="#ff1f00"/></linearGradient><linearGradient id="v111" gradientUnits="userSpaceOnUse" x1="0" y1="194.7" x2="0" y2="309"><stop offset="0.0000" stop-color="#fff800"/><stop offset="0.7873" stop-color="#fff800"/><stop offset="0.7931" stop-color="#ffa700"/><stop offset="0.8354" stop-color="#ffa700"/><stop offset="0.8412" stop-color="#ff8b00"/><stop offset="0.9638" stop-color="#ff8b00"/><stop offset="0.9652" stop-color="#ff5500"/><stop offset="0.9666" stop-color="#ff1f00"/><stop offset="1.0000" stop-color="#ff1f00"/></linearGradient><linearGradient id="v112" gradientUnits="userSpaceOnUse" x1="0" y1="194.7" x2="0" y2="309"><stop offset="0.0000" stop-color="#ffffff"/><stop offset="0.6431" stop-color="#ffffff"/><stop offset="0.6460" stop-color="#ffff99"/><stop offset="0.6489" stop-color="#ffff33"/><stop offset="0.8258" stop-color="#ffff33"/><stop offset="0.8277" stop-color="#fff400"/><stop offset="0.8296" stop-color="#ffc600"/><stop offset="0.8316" stop-color="#ff9900"/><stop offset="0.9638" stop-color="#ff9900"/><stop offset="0.9652" stop-color="#ff5c00"/><stop offset="0.9666" stop-color="#ff1f00"/><stop offset="1.0000" stop-color="#ff1f00"/></linearGradient><linearGradient id="v113" gradientUnits="userSpaceOnUse" x1="0" y1="194.7" x2="0" y2="309"><stop offset="0.0000" stop-color="#ffff33"/><stop offset="0.9604" stop-color="#ffff33"/><stop offset="0.9618" stop-color="#ffe600"/><stop offset="0.9633" stop-color="#ffaa00"/><stop offset="0.9647" stop-color="#ff6f00"/><stop offset="0.9662" stop-color="#ff3300"/><stop offset="0.9638" stop-color="#ff3300"/><stop offset="0.9666" stop-color="#ff1f00"/><stop offset="1.0000" stop-color="#ff1f00"/></linearGradient><linearGradient id="v114" gradientUnits="userSpaceOnUse" x1="0" y1="194.7" x2="0" y2="309"><stop offset="0.0000" stop-color="#ffff1f"/><stop offset="0.5277" stop-color="#ffff1f"/><stop offset="0.5296" stop-color="#ffe600"/><stop offset="0.5316" stop-color="#ffb900"/><stop offset="0.5335" stop-color="#ff8b00"/><stop offset="0.9638" stop-color="#ff8b00"/><stop offset="0.9652" stop-color="#ff5500"/><stop offset="0.9666" stop-color="#ff1f00"/><stop offset="1.0000" stop-color="#ff1f00"/></linearGradient><linearGradient id="v115" gradientUnits="userSpaceOnUse" x1="0" y1="194.7" x2="0" y2="309"><stop offset="0.0000" stop-color="#ffdd00"/><stop offset="0.9638" stop-color="#ffdd00"/><stop offset="0.9647" stop-color="#ff9e00"/><stop offset="0.9657" stop-color="#ff5e00"/><stop offset="0.9666" stop-color="#ff1f00"/><stop offset="1.0000" stop-color="#ff1f00"/></linearGradient><linearGradient id="v116" gradientUnits="userSpaceOnUse" x1="0" y1="194.7" x2="0" y2="309"><stop offset="0.0000" stop-color="#ffc200"/><stop offset="0.8489" stop-color="#ffc200"/><stop offset="0.8508" stop-color="#ff8b00"/><stop offset="0.8527" stop-color="#ff5500"/><stop offset="0.8546" stop-color="#ff1f00"/><stop offset="0.9638" stop-color="#ff1f00"/><stop offset="0.9666" stop-color="#ff1f00"/><stop offset="1.0000" stop-color="#ff1f00"/></linearGradient><linearGradient id="v117" gradientUnits="userSpaceOnUse" x1="0" y1="194.7" x2="0" y2="309"><stop offset="0.0000" stop-color="#ffff1f"/><stop offset="0.9604" stop-color="#ffff1f"/><stop offset="0.9633" stop-color="#ffd600"/><stop offset="0.9662" stop-color="#ff9900"/><stop offset="0.9638" stop-color="#ff9900"/><stop offset="0.9652" stop-color="#ff5c00"/><stop offset="0.9666" stop-color="#ff1f00"/><stop offset="1.0000" stop-color="#ff1f00"/></linearGradient><linearGradient id="v118" gradientUnits="userSpaceOnUse" x1="0" y1="194.7" x2="0" y2="309"><stop offset="0.0000" stop-color="#ffff33"/><stop offset="0.9638" stop-color="#ffff33"/><stop offset="0.9645" stop-color="#ffe000"/><stop offset="0.9652" stop-color="#ffa000"/><stop offset="0.9659" stop-color="#ff5f00"/><stop offset="0.9666" stop-color="#ff1f00"/><stop offset="1.0000" stop-color="#ff1f00"/></linearGradient><linearGradient id="v119" gradientUnits="userSpaceOnUse" x1="0" y1="194.7" x2="0" y2="309"><stop offset="0.0000" stop-color="#ffff66"/><stop offset="0.9638" stop-color="#ffff66"/><stop offset="0.9643" stop-color="#ffff0e"/><stop offset="0.9649" stop-color="#ffce00"/><stop offset="0.9655" stop-color="#ff9400"/><stop offset="0.9661" stop-color="#ff5900"/><stop offset="0.9666" stop-color="#ff1f00"/><stop offset="1.0000" stop-color="#ff1f00"/></linearGradient><linearGradient id="v120" gradientUnits="userSpaceOnUse" x1="0" y1="194.7" x2="0" y2="309"><stop offset="0.0000" stop-color="#ffff1f"/><stop offset="0.7546" stop-color="#ffff1f"/><stop offset="0.7575" stop-color="#ffd600"/><stop offset="0.7604" stop-color="#ff9900"/><stop offset="0.9638" stop-color="#ff9900"/><stop offset="0.9652" stop-color="#ff5c00"/><stop offset="0.9666" stop-color="#ff1f00"/><stop offset="1.0000" stop-color="#ff1f00"/></linearGradient><linearGradient id="v121" gradientUnits="userSpaceOnUse" x1="0" y1="194.7" x2="0" y2="309"><stop offset="0.0000" stop-color="#ffff85"/><stop offset="0.9638" stop-color="#ffff85"/><stop offset="0.9643" stop-color="#ffff27"/><stop offset="0.9649" stop-color="#ffda00"/><stop offset="0.9655" stop-color="#ff9c00"/><stop offset="0.9661" stop-color="#ff5d00"/><stop offset="0.9666" stop-color="#ff1f00"/><stop offset="1.0000" stop-color="#ff1f00"/></linearGradient><linearGradient id="v122" gradientUnits="userSpaceOnUse" x1="0" y1="194.7" x2="0" y2="309"><stop offset="0.0000" stop-color="#ffff0a"/><stop offset="0.7229" stop-color="#ffff0a"/><stop offset="0.7258" stop-color="#ffcf00"/><stop offset="0.7287" stop-color="#ff9900"/><stop offset="0.9638" stop-color="#ff9900"/><stop offset="0.9652" stop-color="#ff5c00"/><stop offset="0.9666" stop-color="#ff1f00"/><stop offset="1.0000" stop-color="#ff1f00"/></linearGradient><linearGradient id="v123" gradientUnits="userSpaceOnUse" x1="0" y1="194.7" x2="0" y2="309"><stop offset="0.0000" stop-color="#ffcf00"/><stop offset="0.7229" stop-color="#ffcf00"/><stop offset="0.7287" stop-color="#ff9900"/><stop offset="0.9638" stop-color="#ff9900"/><stop offset="0.9652" stop-color="#ff5c00"/><stop offset="0.9666" stop-color="#ff1f00"/><stop offset="1.0000" stop-color="#ff1f00"/></linearGradient><linearGradient id="v124" gradientUnits="userSpaceOnUse" x1="0" y1="194.7" x2="0" y2="309"><stop offset="0.0000" stop-color="#ffff0a"/><stop offset="0.5854" stop-color="#ffff0a"/><stop offset="0.5883" stop-color="#ffcf00"/><stop offset="0.5912" stop-color="#ff9900"/><stop offset="0.9604" stop-color="#ff9900"/><stop offset="0.9662" stop-color="#ff5500"/><stop offset="0.9638" stop-color="#ff5500"/><stop offset="0.9666" stop-color="#ff1f00"/><stop offset="1.0000" stop-color="#ff1f00"/></linearGradient><linearGradient id="v125" gradientUnits="userSpaceOnUse" x1="0" y1="194.7" x2="0" y2="309"><stop offset="0.0000" stop-color="#fff800"/><stop offset="0.6277" stop-color="#fff800"/><stop offset="0.6306" stop-color="#ffc900"/><stop offset="0.6335" stop-color="#ff9900"/><stop offset="0.9638" stop-color="#ff9900"/><stop offset="0.9652" stop-color="#ff5c00"/><stop offset="0.9666" stop-color="#ff1f00"/><stop offset="1.0000" stop-color="#ff1f00"/></linearGradient><linearGradient id="v126" gradientUnits="userSpaceOnUse" x1="0" y1="194.7" x2="0" y2="309"><stop offset="0.0000" stop-color="#ffeb00"/><stop offset="0.6277" stop-color="#ffeb00"/><stop offset="0.6335" stop-color="#ff9900"/><stop offset="0.9638" stop-color="#ff9900"/><stop offset="0.9652" stop-color="#ff5c00"/><stop offset="0.9666" stop-color="#ff1f00"/><stop offset="1.0000" stop-color="#ff1f00"/></linearGradient><linearGradient id="v127" gradientUnits="userSpaceOnUse" x1="0" y1="194.7" x2="0" y2="309"><stop offset="0.0000" stop-color="#fff800"/><stop offset="0.9638" stop-color="#fff800"/><stop offset="0.9645" stop-color="#ffc200"/><stop offset="0.9652" stop-color="#ff8b00"/><stop offset="0.9659" stop-color="#ff5500"/><stop offset="0.9666" stop-color="#ff1f00"/><stop offset="1.0000" stop-color="#ff1f00"/></linearGradient><linearGradient id="v128" gradientUnits="userSpaceOnUse" x1="0" y1="194.7" x2="0" y2="309"><stop offset="0.0000" stop-color="#ffff85"/><stop offset="0.9638" stop-color="#ffff85"/><stop offset="0.9643" stop-color="#ffff27"/><stop offset="0.9649" stop-color="#ffda00"/><stop offset="0.9655" stop-color="#ff9c00"/><stop offset="0.9661" stop-color="#ff5d00"/><stop offset="0.9666" stop-color="#ff1f00"/><stop offset="1.0000" stop-color="#ff1f00"/></linearGradient><linearGradient id="v129" gradientUnits="userSpaceOnUse" x1="0" y1="194.7" x2="0" y2="309"><stop offset="0.0000" stop-color="#ffff99"/><stop offset="0.9638" stop-color="#ffff99"/><stop offset="0.9643" stop-color="#ffff37"/><stop offset="0.9649" stop-color="#ffe200"/><stop offset="0.9655" stop-color="#ffa100"/><stop offset="0.9661" stop-color="#ff6000"/><stop offset="0.9666" stop-color="#ff1f00"/><stop offset="1.0000" stop-color="#ff1f00"/></linearGradient><linearGradient id="v130" gradientUnits="userSpaceOnUse" x1="0" y1="194.7" x2="0" y2="309"><stop offset="0.0000" stop-color="#ffc200"/><stop offset="0.8835" stop-color="#ffc200"/><stop offset="0.8854" stop-color="#ff9200"/><stop offset="0.8873" stop-color="#ff6300"/><stop offset="0.8892" stop-color="#ff3300"/><stop offset="0.9638" stop-color="#ff3300"/><stop offset="0.9666" stop-color="#ff1f00"/><stop offset="1.0000" stop-color="#ff1f00"/></linearGradient><linearGradient id="v131" gradientUnits="userSpaceOnUse" x1="0" y1="194.7" x2="0" y2="309"><stop offset="0.0000" stop-color="#ffc200"/><stop offset="0.9638" stop-color="#ffc200"/><stop offset="0.9647" stop-color="#ff8b00"/><stop offset="0.9657" stop-color="#ff5500"/><stop offset="0.9666" stop-color="#ff1f00"/><stop offset="1.0000" stop-color="#ff1f00"/></linearGradient><linearGradient id="v132" gradientUnits="userSpaceOnUse" x1="0" y1="194.7" x2="0" y2="309"><stop offset="0.0000" stop-color="#ff9900"/><stop offset="0.9638" stop-color="#ff9900"/><stop offset="0.9652" stop-color="#ff5c00"/><stop offset="0.9666" stop-color="#ff1f00"/><stop offset="1.0000" stop-color="#ff1f00"/></linearGradient><linearGradient id="v133" gradientUnits="userSpaceOnUse" x1="0" y1="194.7" x2="0" y2="309"><stop offset="0.0000" stop-color="#ffd600"/><stop offset="0.9412" stop-color="#ffd600"/><stop offset="0.9412" stop-color="#ffd600"/><stop offset="0.9469" stop-color="#ff9200"/><stop offset="0.9638" stop-color="#ff9200"/><stop offset="0.9652" stop-color="#ff5800"/><stop offset="0.9667" stop-color="#ff1f00"/><stop offset="1.0000" stop-color="#ff1f00"/></linearGradient><linearGradient id="v134" gradientUnits="userSpaceOnUse" x1="0" y1="194.7" x2="0" y2="309"><stop offset="0.0000" stop-color="#ffd600"/><stop offset="0.4796" stop-color="#ffd600"/><stop offset="0.4854" stop-color="#ffc900"/><stop offset="0.7873" stop-color="#ffc900"/><stop offset="0.7873" stop-color="#ffc900"/><stop offset="0.7931" stop-color="#ffa700"/><stop offset="0.7931" stop-color="#ffa700"/><stop offset="0.9412" stop-color="#ffa700"/><stop offset="0.9412" stop-color="#ffa700"/><stop offset="0.9469" stop-color="#ff8b00"/><stop offset="0.9638" stop-color="#ff8b00"/><stop offset="0.9652" stop-color="#ff5500"/><stop offset="0.9667" stop-color="#ff1f00"/><stop offset="1.0000" stop-color="#ff1f00"/></linearGradient><linearGradient id="v135" gradientUnits="userSpaceOnUse" x1="0" y1="194.7" x2="0" y2="309"><stop offset="0.0000" stop-color="#fff100"/><stop offset="0.4796" stop-color="#fff100"/><stop offset="0.4854" stop-color="#ffe400"/><stop offset="0.7873" stop-color="#ffe400"/><stop offset="0.7873" stop-color="#ffe400"/><stop offset="0.7931" stop-color="#ff9900"/><stop offset="0.7931" stop-color="#ff9900"/><stop offset="0.8354" stop-color="#ff9900"/><stop offset="0.8412" stop-color="#ff8b00"/><stop offset="0.9638" stop-color="#ff8b00"/><stop offset="0.9652" stop-color="#ff5500"/><stop offset="0.9667" stop-color="#ff1f00"/><stop offset="1.0000" stop-color="#ff1f00"/></linearGradient><linearGradient id="v136" gradientUnits="userSpaceOnUse" x1="0" y1="194.7" x2="0" y2="309"><stop offset="0.0000" stop-color="#ffff7a"/><stop offset="0.6431" stop-color="#ffff7a"/><stop offset="0.6431" stop-color="#ffff7a"/><stop offset="0.6489" stop-color="#ffff14"/><stop offset="0.7873" stop-color="#ffff14"/><stop offset="0.7873" stop-color="#ffff14"/><stop offset="0.7931" stop-color="#ffe400"/><stop offset="0.7931" stop-color="#ffe400"/><stop offset="0.8258" stop-color="#ffe400"/><stop offset="0.8258" stop-color="#ffe400"/><stop offset="0.8316" stop-color="#ffa000"/><stop offset="0.8316" stop-color="#ffa000"/><stop offset="0.8354" stop-color="#ffa000"/><stop offset="0.8412" stop-color="#ff9200"/><stop offset="0.9638" stop-color="#ff9200"/><stop offset="0.9652" stop-color="#ff5800"/><stop offset="0.9667" stop-color="#ff1f00"/><stop offset="1.0000" stop-color="#ff1f00"/></linearGradient><linearGradient id="v137" gradientUnits="userSpaceOnUse" x1="0" y1="194.7" x2="0" y2="309"><stop offset="0.0000" stop-color="#ffff99"/><stop offset="0.6431" stop-color="#ffff99"/><stop offset="0.6431" stop-color="#ffff99"/><stop offset="0.6489" stop-color="#ffff33"/><stop offset="0.8258" stop-color="#ffff33"/><stop offset="0.8258" stop-color="#ffff33"/><stop offset="0.8316" stop-color="#ffdd00"/><stop offset="0.8316" stop-color="#ffdd00"/><stop offset="0.9604" stop-color="#ffdd00"/><stop offset="0.9604" stop-color="#ffdd00"/><stop offset="0.9638" stop-color="#ff9800"/><stop offset="0.9638" stop-color="#ff9800"/><stop offset="0.9650" stop-color="#ff6100"/><stop offset="0.9662" stop-color="#ff2a00"/><stop offset="0.9662" stop-color="#ff2a00"/><stop offset="0.9667" stop-color="#ff1f00"/><stop offset="1.0000" stop-color="#ff1f00"/></linearGradient><linearGradient id="v138" gradientUnits="userSpaceOnUse" x1="0" y1="194.7" x2="0" y2="309"><stop offset="0.0000" stop-color="#ffff29"/><stop offset="0.5277" stop-color="#ffff29"/><stop offset="0.5277" stop-color="#ffff29"/><stop offset="0.5335" stop-color="#ffd600"/><stop offset="0.9604" stop-color="#ffd600"/><stop offset="0.9604" stop-color="#ffd600"/><stop offset="0.9638" stop-color="#ff9100"/><stop offset="0.9638" stop-color="#ff9100"/><stop offset="0.9650" stop-color="#ff5d00"/><stop offset="0.9662" stop-color="#ff2900"/><stop offset="0.9662" stop-color="#ff2900"/><stop offset="0.9667" stop-color="#ff1f00"/><stop offset="1.0000" stop-color="#ff1f00"/></linearGradient><linearGradient id="v139" gradientUnits="userSpaceOnUse" x1="0" y1="194.7" x2="0" y2="309"><stop offset="0.0000" stop-color="#fff800"/><stop offset="0.5277" stop-color="#fff800"/><stop offset="0.5277" stop-color="#fff800"/><stop offset="0.5335" stop-color="#ffb400"/><stop offset="0.9638" stop-color="#ffb400"/><stop offset="0.9647" stop-color="#ff8200"/><stop offset="0.9657" stop-color="#ff5000"/><stop offset="0.9667" stop-color="#ff1f00"/><stop offset="1.0000" stop-color="#ff1f00"/></linearGradient><linearGradient id="v140" gradientUnits="userSpaceOnUse" x1="0" y1="194.7" x2="0" y2="309"><stop offset="0.0000" stop-color="#ffcf00"/><stop offset="0.8489" stop-color="#ffcf00"/><stop offset="0.8546" stop-color="#ff7e00"/><stop offset="0.8546" stop-color="#ff7e00"/><stop offset="0.9638" stop-color="#ff7e00"/><stop offset="0.9652" stop-color="#ff4e00"/><stop offset="0.9667" stop-color="#ff1f00"/><stop offset="1.0000" stop-color="#ff1f00"/></linearGradient><linearGradient id="v141" gradientUnits="userSpaceOnUse" x1="0" y1="194.7" x2="0" y2="309"><stop offset="0.0000" stop-color="#ffeb00"/><stop offset="0.8489" stop-color="#ffeb00"/><stop offset="0.8546" stop-color="#ff9900"/><stop offset="0.8546" stop-color="#ff9900"/><stop offset="0.9604" stop-color="#ff9900"/><stop offset="0.9604" stop-color="#ff9900"/><stop offset="0.9638" stop-color="#ff7500"/><stop offset="0.9638" stop-color="#ff7500"/><stop offset="0.9662" stop-color="#ff2900"/><stop offset="0.9662" stop-color="#ff2900"/><stop offset="0.9667" stop-color="#ff1f00"/><stop offset="1.0000" stop-color="#ff1f00"/></linearGradient><linearGradient id="v142" gradientUnits="userSpaceOnUse" x1="0" y1="194.7" x2="0" y2="309"><stop offset="0.0000" stop-color="#ffff29"/><stop offset="0.9604" stop-color="#ffff29"/><stop offset="0.9604" stop-color="#ffff29"/><stop offset="0.9638" stop-color="#fff700"/><stop offset="0.9638" stop-color="#fff700"/><stop offset="0.9646" stop-color="#ffb900"/><stop offset="0.9654" stop-color="#ff7c00"/><stop offset="0.9662" stop-color="#ff3e00"/><stop offset="0.9662" stop-color="#ff3e00"/><stop offset="0.9667" stop-color="#ff1f00"/><stop offset="1.0000" stop-color="#ff1f00"/></linearGradient><linearGradient id="v143" gradientUnits="userSpaceOnUse" x1="0" y1="194.7" x2="0" y2="309"><stop offset="0.0000" stop-color="#ffff4c"/><stop offset="0.9638" stop-color="#ffff4c"/><stop offset="0.9643" stop-color="#fffb00"/><stop offset="0.9649" stop-color="#ffc400"/><stop offset="0.9655" stop-color="#ff8d00"/><stop offset="0.9661" stop-color="#ff5600"/><stop offset="0.9667" stop-color="#ff1f00"/><stop offset="1.0000" stop-color="#ff1f00"/></linearGradient><linearGradient id="v144" gradientUnits="userSpaceOnUse" x1="0" y1="194.7" x2="0" y2="309"><stop offset="0.0000" stop-color="#ffff42"/><stop offset="0.7546" stop-color="#ffff42"/><stop offset="0.7604" stop-color="#ffee00"/><stop offset="0.7604" stop-color="#ffee00"/><stop offset="0.9638" stop-color="#ffee00"/><stop offset="0.9645" stop-color="#ffba00"/><stop offset="0.9652" stop-color="#ff8600"/><stop offset="0.9659" stop-color="#ff5200"/><stop offset="0.9667" stop-color="#ff1f00"/><stop offset="1.0000" stop-color="#ff1f00"/></linearGradient><linearGradient id="v145" gradientUnits="userSpaceOnUse" x1="0" y1="194.7" x2="0" y2="309"><stop offset="0.0000" stop-color="#ffff52"/><stop offset="0.7546" stop-color="#ffff52"/><stop offset="0.7604" stop-color="#fff800"/><stop offset="0.7604" stop-color="#fff800"/><stop offset="0.9638" stop-color="#fff800"/><stop offset="0.9645" stop-color="#ffc200"/><stop offset="0.9652" stop-color="#ff8b00"/><stop offset="0.9659" stop-color="#ff5500"/><stop offset="0.9667" stop-color="#ff1f00"/><stop offset="1.0000" stop-color="#ff1f00"/></linearGradient><linearGradient id="v146" gradientUnits="userSpaceOnUse" x1="0" y1="194.7" x2="0" y2="309"><stop offset="0.0000" stop-color="#ffff47"/><stop offset="0.7229" stop-color="#ffff47"/><stop offset="0.7287" stop-color="#fff800"/><stop offset="0.7287" stop-color="#fff800"/><stop offset="0.9638" stop-color="#fff800"/><stop offset="0.9645" stop-color="#ffc200"/><stop offset="0.9652" stop-color="#ff8b00"/><stop offset="0.9659" stop-color="#ff5500"/><stop offset="0.9667" stop-color="#ff1f00"/><stop offset="1.0000" stop-color="#ff1f00"/></linearGradient><linearGradient id="v147" gradientUnits="userSpaceOnUse" x1="0" y1="194.7" x2="0" y2="309"><stop offset="0.0000" stop-color="#ffeb00"/><stop offset="0.7229" stop-color="#ffeb00"/><stop offset="0.7287" stop-color="#ff9900"/><stop offset="0.7287" stop-color="#ff9900"/><stop offset="0.9638" stop-color="#ff9900"/><stop offset="0.9652" stop-color="#ff5c00"/><stop offset="0.9667" stop-color="#ff1f00"/><stop offset="1.0000" stop-color="#ff1f00"/></linearGradient><linearGradient id="v148" gradientUnits="userSpaceOnUse" x1="0" y1="194.7" x2="0" y2="309"><stop offset="0.0000" stop-color="#ffeb00"/><stop offset="0.5854" stop-color="#ffeb00"/><stop offset="0.5854" stop-color="#ffeb00"/><stop offset="0.5912" stop-color="#ffb400"/><stop offset="0.7229" stop-color="#ffb400"/><stop offset="0.7287" stop-color="#ff9900"/><stop offset="0.7287" stop-color="#ff9900"/><stop offset="0.9604" stop-color="#ff9900"/><stop offset="0.9604" stop-color="#ff9900"/><stop offset="0.9638" stop-color="#ff8500"/><stop offset="0.9638" stop-color="#ff8500"/><stop offset="0.9650" stop-color="#ff5900"/><stop offset="0.9662" stop-color="#ff2d00"/><stop offset="0.9662" stop-color="#ff2d00"/><stop offset="0.9667" stop-color="#ff1f00"/><stop offset="1.0000" stop-color="#ff1f00"/></linearGradient><linearGradient id="v149" gradientUnits="userSpaceOnUse" x1="0" y1="194.7" x2="0" y2="309"><stop offset="0.0000" stop-color="#ffff00"/><stop offset="0.5854" stop-color="#ffff00"/><stop offset="0.5854" stop-color="#ffff00"/><stop offset="0.5912" stop-color="#ffc900"/><stop offset="0.6277" stop-color="#ffc900"/><stop offset="0.6277" stop-color="#ffc900"/><stop offset="0.6335" stop-color="#ff9900"/><stop offset="0.6335" stop-color="#ff9900"/><stop offset="0.9604" stop-color="#ff9900"/><stop offset="0.9604" stop-color="#ff9900"/><stop offset="0.9638" stop-color="#ff8500"/><stop offset="0.9638" stop-color="#ff8500"/><stop offset="0.9650" stop-color="#ff5900"/><stop offset="0.9662" stop-color="#ff2d00"/><stop offset="0.9662" stop-color="#ff2d00"/><stop offset="0.9667" stop-color="#ff1f00"/><stop offset="1.0000" stop-color="#ff1f00"/></linearGradient><linearGradient id="v150" gradientUnits="userSpaceOnUse" x1="0" y1="194.7" x2="0" y2="309"><stop offset="0.0000" stop-color="#fff100"/><stop offset="0.6277" stop-color="#fff100"/><stop offset="0.6277" stop-color="#fff100"/><stop offset="0.6306" stop-color="#ffc500"/><stop offset="0.6335" stop-color="#ff9900"/><stop offset="0.6335" stop-color="#ff9900"/><stop offset="0.9638" stop-color="#ff9900"/><stop offset="0.9652" stop-color="#ff5c00"/><stop offset="0.9667" stop-color="#ff1f00"/><stop offset="1.0000" stop-color="#ff1f00"/></linearGradient><linearGradient id="v151" gradientUnits="userSpaceOnUse" x1="0" y1="194.7" x2="0" y2="309"><stop offset="0.0000" stop-color="#fff100"/><stop offset="0.6277" stop-color="#fff100"/><stop offset="0.6277" stop-color="#fff100"/><stop offset="0.6335" stop-color="#ffc900"/><stop offset="0.6335" stop-color="#ffc900"/><stop offset="0.9638" stop-color="#ffc900"/><stop offset="0.9647" stop-color="#ff9000"/><stop offset="0.9657" stop-color="#ff5700"/><stop offset="0.9667" stop-color="#ff1f00"/><stop offset="1.0000" stop-color="#ff1f00"/></linearGradient><linearGradient id="v152" gradientUnits="userSpaceOnUse" x1="0" y1="194.7" x2="0" y2="309"><stop offset="0.0000" stop-color="#ffff3d"/><stop offset="0.9638" stop-color="#ffff3d"/><stop offset="0.9645" stop-color="#ffe600"/><stop offset="0.9652" stop-color="#ffa300"/><stop offset="0.9659" stop-color="#ff6100"/><stop offset="0.9667" stop-color="#ff1f00"/><stop offset="1.0000" stop-color="#ff1f00"/></linearGradient><linearGradient id="v153" gradientUnits="userSpaceOnUse" x1="0" y1="194.7" x2="0" y2="309"><stop offset="0.0000" stop-color="#ffff8f"/><stop offset="0.9638" stop-color="#ffff8f"/><stop offset="0.9643" stop-color="#ffff2f"/><stop offset="0.9649" stop-color="#ffde00"/><stop offset="0.9655" stop-color="#ff9e00"/><stop offset="0.9661" stop-color="#ff5f00"/><stop offset="0.9667" stop-color="#ff1f00"/><stop offset="1.0000" stop-color="#ff1f00"/></linearGradient><linearGradient id="v154" gradientUnits="userSpaceOnUse" x1="0" y1="194.7" x2="0" y2="309"><stop offset="0.0000" stop-color="#ffff1f"/><stop offset="0.8835" stop-color="#ffff1f"/><stop offset="0.8835" stop-color="#ffff1f"/><stop offset="0.8892" stop-color="#ffcc00"/><stop offset="0.8892" stop-color="#ffcc00"/><stop offset="0.9638" stop-color="#ffcc00"/><stop offset="0.9647" stop-color="#ff9200"/><stop offset="0.9657" stop-color="#ff5800"/><stop offset="0.9667" stop-color="#ff1f00"/><stop offset="1.0000" stop-color="#ff1f00"/></linearGradient><linearGradient id="v155" gradientUnits="userSpaceOnUse" x1="0" y1="194.7" x2="0" y2="309"><stop offset="0.0000" stop-color="#ffc200"/><stop offset="0.8835" stop-color="#ffc200"/><stop offset="0.8835" stop-color="#ffc200"/><stop offset="0.8892" stop-color="#ff7a00"/><stop offset="0.8892" stop-color="#ff7a00"/><stop offset="0.9638" stop-color="#ff7a00"/><stop offset="0.9652" stop-color="#ff4d00"/><stop offset="0.9667" stop-color="#ff1f00"/><stop offset="1.0000" stop-color="#ff1f00"/></linearGradient><linearGradient id="v156" gradientUnits="userSpaceOnUse" x1="0" y1="194.7" x2="0" y2="309"><stop offset="0.0000" stop-color="#ffad00"/><stop offset="0.9638" stop-color="#ffad00"/><stop offset="0.9647" stop-color="#ff7e00"/><stop offset="0.9657" stop-color="#ff4e00"/><stop offset="0.9667" stop-color="#ff1f00"/><stop offset="1.0000" stop-color="#ff1f00"/></linearGradient><linearGradient id="cb6" x1="0" y1="0" x2="0" y2="1"><stop offset="0.000" stop-color="#ffffff"/><stop offset="0.062" stop-color="#ffffbf"/><stop offset="0.125" stop-color="#ffff80"/><stop offset="0.188" stop-color="#ffff40"/><stop offset="0.250" stop-color="#ffff00"/><stop offset="0.312" stop-color="#ffd400"/><stop offset="0.375" stop-color="#ffaa00"/><stop offset="0.438" stop-color="#ff8000"/><stop offset="0.500" stop-color="#ff5500"/><stop offset="0.562" stop-color="#ff2a00"/><stop offset="0.625" stop-color="#ff0000"/><stop offset="0.688" stop-color="#d40000"/><stop offset="0.750" stop-color="#aa0000"/><stop offset="0.812" stop-color="#800000"/><stop offset="0.875" stop-color="#550000"/><stop offset="0.938" stop-color="#2a0000"/><stop offset="1.000" stop-color="#000000"/></linearGradient><clipPath id="clipg"><rect x="33.6" y="386.3" width="131.6" height="108.9"/></clipPath><linearGradient id="v157" gradientUnits="userSpaceOnUse" x1="0" y1="383.3" x2="0" y2="498.2"><stop offset="0.0000" stop-color="#ffff33"/><stop offset="0.8305" stop-color="#ffff33"/><stop offset="0.8450" stop-color="#ffe600"/><stop offset="0.8595" stop-color="#ffaa00"/><stop offset="0.8740" stop-color="#ff6f00"/><stop offset="0.8885" stop-color="#ff3300"/><stop offset="0.9272" stop-color="#ff3300"/><stop offset="0.9851" stop-color="#ff1100"/><stop offset="1.0000" stop-color="#ff1100"/></linearGradient><linearGradient id="v158" gradientUnits="userSpaceOnUse" x1="0" y1="383.3" x2="0" y2="498.2"><stop offset="0.0000" stop-color="#ffff70"/><stop offset="1.0000" stop-color="#ffff70"/></linearGradient><linearGradient id="v159" gradientUnits="userSpaceOnUse" x1="0" y1="383.3" x2="0" y2="498.2"><stop offset="0.0000" stop-color="#ffff85"/><stop offset="1.0000" stop-color="#ffff85"/></linearGradient><linearGradient id="v160" gradientUnits="userSpaceOnUse" x1="0" y1="383.3" x2="0" y2="498.2"><stop offset="0.0000" stop-color="#ffff0a"/><stop offset="0.3862" stop-color="#ffff0a"/><stop offset="0.4151" stop-color="#ffd600"/><stop offset="0.4441" stop-color="#ffa700"/><stop offset="0.5407" stop-color="#ffa700"/><stop offset="0.5987" stop-color="#ff5500"/><stop offset="0.6760" stop-color="#ff5500"/><stop offset="0.7339" stop-color="#ff3300"/><stop offset="0.8885" stop-color="#ff3300"/><stop offset="0.9465" stop-color="#ff1100"/><stop offset="1.0000" stop-color="#ff1100"/></linearGradient><linearGradient id="v161" gradientUnits="userSpaceOnUse" x1="0" y1="383.3" x2="0" y2="498.2"><stop offset="0.0000" stop-color="#ffff85"/><stop offset="0.6760" stop-color="#ffff85"/><stop offset="0.6905" stop-color="#ffff38"/><stop offset="0.7050" stop-color="#fff100"/><stop offset="0.7195" stop-color="#ffbe00"/><stop offset="0.7339" stop-color="#ff8b00"/><stop offset="0.8885" stop-color="#ff8b00"/><stop offset="0.9175" stop-color="#ff5f00"/><stop offset="0.9465" stop-color="#ff3300"/><stop offset="1.0000" stop-color="#ff3300"/></linearGradient><linearGradient id="v162" gradientUnits="userSpaceOnUse" x1="0" y1="383.3" x2="0" y2="498.2"><stop offset="0.0000" stop-color="#ffffeb"/><stop offset="1.0000" stop-color="#ffffeb"/></linearGradient><linearGradient id="v163" gradientUnits="userSpaceOnUse" x1="0" y1="383.3" x2="0" y2="498.2"><stop offset="0.0000" stop-color="#ffff33"/><stop offset="1.0000" stop-color="#ffff33"/></linearGradient><linearGradient id="v164" gradientUnits="userSpaceOnUse" x1="0" y1="383.3" x2="0" y2="498.2"><stop offset="0.0000" stop-color="#ffff14"/><stop offset="0.7436" stop-color="#ffff14"/><stop offset="0.7726" stop-color="#ffd300"/><stop offset="0.8016" stop-color="#ff9900"/><stop offset="0.8692" stop-color="#ff9900"/><stop offset="0.8982" stop-color="#ff5500"/><stop offset="0.9272" stop-color="#ff1100"/><stop offset="0.9175" stop-color="#ff1100"/><stop offset="0.9368" stop-color="#d70000"/><stop offset="0.9561" stop-color="#9f0000"/><stop offset="0.9755" stop-color="#660000"/><stop offset="1.0000" stop-color="#660000"/></linearGradient><linearGradient id="v165" gradientUnits="userSpaceOnUse" x1="0" y1="383.3" x2="0" y2="498.2"><stop offset="0.0000" stop-color="#ffff85"/><stop offset="1.0000" stop-color="#ffff85"/></linearGradient><linearGradient id="v166" gradientUnits="userSpaceOnUse" x1="0" y1="383.3" x2="0" y2="498.2"><stop offset="0.0000" stop-color="#ffffd6"/><stop offset="0.7436" stop-color="#ffffd6"/><stop offset="0.7629" stop-color="#ffff7e"/><stop offset="0.7822" stop-color="#ffff25"/><stop offset="0.8016" stop-color="#ffdd00"/><stop offset="0.7996" stop-color="#ffdd00"/><stop offset="0.8576" stop-color="#ff9900"/><stop offset="1.0000" stop-color="#ff9900"/></linearGradient><linearGradient id="v167" gradientUnits="userSpaceOnUse" x1="0" y1="383.3" x2="0" y2="498.2"><stop offset="0.0000" stop-color="#ffffd6"/><stop offset="1.0000" stop-color="#ffffd6"/></linearGradient><linearGradient id="v168" gradientUnits="userSpaceOnUse" x1="0" y1="383.3" x2="0" y2="498.2"><stop offset="0.0000" stop-color="#ffffd6"/><stop offset="1.0000" stop-color="#ffffd6"/></linearGradient><linearGradient id="v169" gradientUnits="userSpaceOnUse" x1="0" y1="383.3" x2="0" y2="498.2"><stop offset="0.0000" stop-color="#ffff66"/><stop offset="1.0000" stop-color="#ffff66"/></linearGradient><linearGradient id="v170" gradientUnits="userSpaceOnUse" x1="0" y1="383.3" x2="0" y2="498.2"><stop offset="0.0000" stop-color="#ffffb8"/><stop offset="0.7088" stop-color="#ffffb8"/><stop offset="0.7281" stop-color="#ffff58"/><stop offset="0.7475" stop-color="#fffa00"/><stop offset="0.7668" stop-color="#ffbb00"/><stop offset="0.8769" stop-color="#ffbb00"/><stop offset="0.8962" stop-color="#ff8700"/><stop offset="0.9156" stop-color="#ff5300"/><stop offset="0.9349" stop-color="#ff1f00"/><stop offset="1.0000" stop-color="#ff1f00"/></linearGradient><linearGradient id="v171" gradientUnits="userSpaceOnUse" x1="0" y1="383.3" x2="0" y2="498.2"><stop offset="0.0000" stop-color="#ffff66"/><stop offset="0.8982" stop-color="#ffff66"/><stop offset="0.9098" stop-color="#ffff0a"/><stop offset="0.9214" stop-color="#ffc900"/><stop offset="0.9330" stop-color="#ff8b00"/><stop offset="0.9445" stop-color="#ff4e00"/><stop offset="0.9561" stop-color="#ff1100"/><stop offset="1.0000" stop-color="#ff1100"/></linearGradient><linearGradient id="v172" gradientUnits="userSpaceOnUse" x1="0" y1="383.3" x2="0" y2="498.2"><stop offset="0.0000" stop-color="#ffffeb"/><stop offset="1.0000" stop-color="#ffffeb"/></linearGradient><linearGradient id="v173" gradientUnits="userSpaceOnUse" x1="0" y1="383.3" x2="0" y2="498.2"><stop offset="0.0000" stop-color="#ffff70"/><stop offset="0.9175" stop-color="#ffff70"/><stop offset="0.9320" stop-color="#ffff0f"/><stop offset="0.9465" stop-color="#ffc900"/><stop offset="0.9610" stop-color="#ff8800"/><stop offset="0.9755" stop-color="#ff4700"/><stop offset="1.0000" stop-color="#ff4700"/></linearGradient><linearGradient id="v174" gradientUnits="userSpaceOnUse" x1="0" y1="383.3" x2="0" y2="498.2"><stop offset="0.0000" stop-color="#ffff47"/><stop offset="0.9175" stop-color="#ffff47"/><stop offset="0.9368" stop-color="#fffd00"/><stop offset="0.9561" stop-color="#ffcb00"/><stop offset="0.9755" stop-color="#ff9900"/><stop offset="1.0000" stop-color="#ff9900"/></linearGradient><linearGradient id="v175" gradientUnits="userSpaceOnUse" x1="0" y1="383.3" x2="0" y2="498.2"><stop offset="0.0000" stop-color="#ffffe0"/><stop offset="0.3340" stop-color="#ffffe0"/><stop offset="0.3920" stop-color="#ffff66"/><stop offset="1.0000" stop-color="#ffff66"/></linearGradient><linearGradient id="v176" gradientUnits="userSpaceOnUse" x1="0" y1="383.3" x2="0" y2="498.2"><stop offset="0.0000" stop-color="#ffff70"/><stop offset="1.0000" stop-color="#ffff70"/></linearGradient><linearGradient id="v177" gradientUnits="userSpaceOnUse" x1="0" y1="383.3" x2="0" y2="498.2"><stop offset="0.0000" stop-color="#ffff70"/><stop offset="1.0000" stop-color="#ffff70"/></linearGradient><linearGradient id="v178" gradientUnits="userSpaceOnUse" x1="0" y1="383.3" x2="0" y2="498.2"><stop offset="0.0000" stop-color="#ffff70"/><stop offset="1.0000" stop-color="#ffff70"/></linearGradient><linearGradient id="v179" gradientUnits="userSpaceOnUse" x1="0" y1="383.3" x2="0" y2="498.2"><stop offset="0.0000" stop-color="#ffff70"/><stop offset="0.8885" stop-color="#ffff70"/><stop offset="0.8982" stop-color="#ffff1a"/><stop offset="0.9078" stop-color="#ffd600"/><stop offset="0.9175" stop-color="#ff9c00"/><stop offset="0.9272" stop-color="#ff6300"/><stop offset="0.9368" stop-color="#ff2900"/><stop offset="0.9465" stop-color="#ee0000"/><stop offset="1.0000" stop-color="#ee0000"/></linearGradient><linearGradient id="v180" gradientUnits="userSpaceOnUse" x1="0" y1="383.3" x2="0" y2="498.2"><stop offset="0.0000" stop-color="#ffff70"/><stop offset="0.8885" stop-color="#ffff70"/><stop offset="0.9001" stop-color="#ffff12"/><stop offset="0.9117" stop-color="#ffcd00"/><stop offset="0.9233" stop-color="#ff8e00"/><stop offset="0.9349" stop-color="#ff5000"/><stop offset="0.9465" stop-color="#ff1100"/><stop offset="1.0000" stop-color="#ff1100"/></linearGradient><linearGradient id="v181" gradientUnits="userSpaceOnUse" x1="0" y1="383.3" x2="0" y2="498.2"><stop offset="0.0000" stop-color="#ffffcc"/><stop offset="1.0000" stop-color="#ffffcc"/></linearGradient><linearGradient id="v182" gradientUnits="userSpaceOnUse" x1="0" y1="383.3" x2="0" y2="498.2"><stop offset="0.0000" stop-color="#ffff52"/><stop offset="0.8306" stop-color="#ffff52"/><stop offset="0.8595" stop-color="#fffa00"/><stop offset="0.8885" stop-color="#ffbe00"/><stop offset="0.9272" stop-color="#ffbe00"/><stop offset="0.9851" stop-color="#ffad00"/><stop offset="1.0000" stop-color="#ffad00"/></linearGradient><linearGradient id="v183" gradientUnits="userSpaceOnUse" x1="0" y1="383.3" x2="0" y2="498.2"><stop offset="0.0000" stop-color="#ffff7a"/><stop offset="1.0000" stop-color="#ffff7a"/></linearGradient><linearGradient id="v184" gradientUnits="userSpaceOnUse" x1="0" y1="383.3" x2="0" y2="498.2"><stop offset="0.0000" stop-color="#ffff47"/><stop offset="0.3862" stop-color="#ffff47"/><stop offset="0.4441" stop-color="#ffff00"/><stop offset="0.5407" stop-color="#ffff00"/><stop offset="0.5987" stop-color="#ffd600"/><stop offset="0.6760" stop-color="#ffd600"/><stop offset="0.7339" stop-color="#ffc500"/><stop offset="0.8885" stop-color="#ffc500"/><stop offset="0.9465" stop-color="#ffb400"/><stop offset="1.0000" stop-color="#ffb400"/></linearGradient><linearGradient id="v185" gradientUnits="userSpaceOnUse" x1="0" y1="383.3" x2="0" y2="498.2"><stop offset="0.0000" stop-color="#ffff47"/><stop offset="0.3862" stop-color="#ffff47"/><stop offset="0.4441" stop-color="#ffff00"/><stop offset="0.5407" stop-color="#ffff00"/><stop offset="0.5987" stop-color="#ffd600"/><stop offset="0.6760" stop-color="#ffd600"/><stop offset="0.7050" stop-color="#ff9b00"/><stop offset="0.7339" stop-color="#ff5f00"/><stop offset="0.8885" stop-color="#ff5f00"/><stop offset="0.9465" stop-color="#ff2200"/><stop offset="1.0000" stop-color="#ff2200"/></linearGradient><linearGradient id="v186" gradientUnits="userSpaceOnUse" x1="0" y1="383.3" x2="0" y2="498.2"><stop offset="0.0000" stop-color="#ffffb8"/><stop offset="0.6760" stop-color="#ffffb8"/><stop offset="0.7050" stop-color="#ffff6b"/><stop offset="0.7339" stop-color="#ffff1f"/><stop offset="0.8885" stop-color="#ffff1f"/><stop offset="0.9465" stop-color="#ffe700"/><stop offset="1.0000" stop-color="#ffe700"/></linearGradient><linearGradient id="v187" gradientUnits="userSpaceOnUse" x1="0" y1="383.3" x2="0" y2="498.2"><stop offset="0.0000" stop-color="#ffff8f"/><stop offset="1.0000" stop-color="#ffff8f"/></linearGradient><linearGradient id="v188" gradientUnits="userSpaceOnUse" x1="0" y1="383.3" x2="0" y2="498.2"><stop offset="0.0000" stop-color="#ffff24"/><stop offset="0.7436" stop-color="#ffff24"/><stop offset="0.8016" stop-color="#ffdd00"/><stop offset="0.8692" stop-color="#ffdd00"/><stop offset="0.9175" stop-color="#ffa400"/><stop offset="0.9272" stop-color="#ff9900"/><stop offset="0.9513" stop-color="#ff6f00"/><stop offset="0.9755" stop-color="#ff4400"/><stop offset="1.0000" stop-color="#ff4400"/></linearGradient><linearGradient id="v189" gradientUnits="userSpaceOnUse" x1="0" y1="383.3" x2="0" y2="498.2"><stop offset="0.0000" stop-color="#ffff4c"/><stop offset="0.7436" stop-color="#ffff4c"/><stop offset="0.8016" stop-color="#fff800"/><stop offset="0.8692" stop-color="#fff800"/><stop offset="0.9175" stop-color="#ffc000"/><stop offset="0.9272" stop-color="#ffb400"/><stop offset="0.9513" stop-color="#ff8a00"/><stop offset="0.9755" stop-color="#ff5f00"/><stop offset="1.0000" stop-color="#ff5f00"/></linearGradient><linearGradient id="v190" gradientUnits="userSpaceOnUse" x1="0" y1="383.3" x2="0" y2="498.2"><stop offset="0.0000" stop-color="#ffffad"/><stop offset="0.7436" stop-color="#ffffad"/><stop offset="0.7716" stop-color="#ffff6d"/><stop offset="0.7996" stop-color="#ffff2d"/><stop offset="0.8016" stop-color="#ffff27"/><stop offset="0.8576" stop-color="#fff800"/><stop offset="1.0000" stop-color="#fff800"/></linearGradient><linearGradient id="v191" gradientUnits="userSpaceOnUse" x1="0" y1="383.3" x2="0" y2="498.2"><stop offset="0.0000" stop-color="#ffffd6"/><stop offset="0.7436" stop-color="#ffffd6"/><stop offset="0.7716" stop-color="#ffff96"/><stop offset="0.7996" stop-color="#ffff56"/><stop offset="0.8016" stop-color="#ffff50"/><stop offset="0.8576" stop-color="#ffff1f"/><stop offset="1.0000" stop-color="#ffff1f"/></linearGradient><linearGradient id="v192" gradientUnits="userSpaceOnUse" x1="0" y1="383.3" x2="0" y2="498.2"><stop offset="0.0000" stop-color="#ffffd6"/><stop offset="1.0000" stop-color="#ffffd6"/></linearGradient><linearGradient id="v193" gradientUnits="userSpaceOnUse" x1="0" y1="383.3" x2="0" y2="498.2"><stop offset="0.0000" stop-color="#ffff9e"/><stop offset="1.0000" stop-color="#ffff9e"/></linearGradient><linearGradient id="v194" gradientUnits="userSpaceOnUse" x1="0" y1="383.3" x2="0" y2="498.2"><stop offset="0.0000" stop-color="#ffff8f"/><stop offset="0.7088" stop-color="#ffff8f"/><stop offset="0.7378" stop-color="#ffff47"/><stop offset="0.7668" stop-color="#ffff00"/><stop offset="0.8769" stop-color="#ffff00"/><stop offset="0.9349" stop-color="#ffb100"/><stop offset="1.0000" stop-color="#ffb100"/></linearGradient><linearGradient id="v195" gradientUnits="userSpaceOnUse" x1="0" y1="383.3" x2="0" y2="498.2"><stop offset="0.0000" stop-color="#ffff8f"/><stop offset="0.7088" stop-color="#ffff8f"/><stop offset="0.7378" stop-color="#ffff47"/><stop offset="0.7668" stop-color="#ffff00"/><stop offset="0.8769" stop-color="#ffff00"/><stop offset="0.8982" stop-color="#ffe200"/><stop offset="0.9104" stop-color="#ffb200"/><stop offset="0.9226" stop-color="#ff8100"/><stop offset="0.9349" stop-color="#ff5000"/><stop offset="0.9349" stop-color="#ff5000"/><stop offset="0.9561" stop-color="#ff1800"/><stop offset="1.0000" stop-color="#ff1800"/></linearGradient><linearGradient id="v196" gradientUnits="userSpaceOnUse" x1="0" y1="383.3" x2="0" y2="498.2"><stop offset="0.0000" stop-color="#ffffa8"/><stop offset="0.8982" stop-color="#ffffa8"/><stop offset="0.9175" stop-color="#ffff5c"/><stop offset="0.9368" stop-color="#ffff0f"/><stop offset="0.9561" stop-color="#ffd600"/><stop offset="1.0000" stop-color="#ffd600"/></linearGradient><linearGradient id="v197" gradientUnits="userSpaceOnUse" x1="0" y1="383.3" x2="0" y2="498.2"><stop offset="0.0000" stop-color="#ffffad"/><stop offset="0.9175" stop-color="#ffffad"/><stop offset="0.9465" stop-color="#ffff4c"/><stop offset="0.9755" stop-color="#fff100"/><stop offset="1.0000" stop-color="#fff100"/></linearGradient><linearGradient id="v198" gradientUnits="userSpaceOnUse" x1="0" y1="383.3" x2="0" y2="498.2"><stop offset="0.0000" stop-color="#ffff5c"/><stop offset="0.9175" stop-color="#ffff5c"/><stop offset="0.9368" stop-color="#fff800"/><stop offset="0.9561" stop-color="#ffb400"/><stop offset="0.9755" stop-color="#ff7000"/><stop offset="1.0000" stop-color="#ff7000"/></linearGradient><linearGradient id="v199" gradientUnits="userSpaceOnUse" x1="0" y1="383.3" x2="0" y2="498.2"><stop offset="0.0000" stop-color="#ffff94"/><stop offset="0.3340" stop-color="#ffff94"/><stop offset="0.3920" stop-color="#ffff57"/><stop offset="0.9175" stop-color="#ffff57"/><stop offset="0.9755" stop-color="#ffee00"/><stop offset="1.0000" stop-color="#ffee00"/></linearGradient><linearGradient id="v200" gradientUnits="userSpaceOnUse" x1="0" y1="383.3" x2="0" y2="498.2"><stop offset="0.0000" stop-color="#ffffa8"/><stop offset="0.3340" stop-color="#ffffa8"/><stop offset="0.3920" stop-color="#ffff6b"/><stop offset="1.0000" stop-color="#ffff6b"/></linearGradient><linearGradient id="v201" gradientUnits="userSpaceOnUse" x1="0" y1="383.3" x2="0" y2="498.2"><stop offset="0.0000" stop-color="#ffff70"/><stop offset="1.0000" stop-color="#ffff70"/></linearGradient><linearGradient id="v202" gradientUnits="userSpaceOnUse" x1="0" y1="383.3" x2="0" y2="498.2"><stop offset="0.0000" stop-color="#ffff70"/><stop offset="1.0000" stop-color="#ffff70"/></linearGradient><linearGradient id="v203" gradientUnits="userSpaceOnUse" x1="0" y1="383.3" x2="0" y2="498.2"><stop offset="0.0000" stop-color="#ffff70"/><stop offset="0.8885" stop-color="#ffff70"/><stop offset="0.9078" stop-color="#ffff1a"/><stop offset="0.9272" stop-color="#ffd600"/><stop offset="0.9465" stop-color="#ff9c00"/><stop offset="1.0000" stop-color="#ff9c00"/></linearGradient><linearGradient id="v204" gradientUnits="userSpaceOnUse" x1="0" y1="383.3" x2="0" y2="498.2"><stop offset="0.0000" stop-color="#ffff70"/><stop offset="0.8885" stop-color="#ffff70"/><stop offset="0.9001" stop-color="#ffff0d"/><stop offset="0.9117" stop-color="#ffc600"/><stop offset="0.9233" stop-color="#ff8400"/><stop offset="0.9349" stop-color="#ff4200"/><stop offset="0.9465" stop-color="#ff0000"/><stop offset="1.0000" stop-color="#ff0000"/></linearGradient><linearGradient id="v205" gradientUnits="userSpaceOnUse" x1="0" y1="383.3" x2="0" y2="498.2"><stop offset="0.0000" stop-color="#ffff9e"/><stop offset="0.8885" stop-color="#ffff9e"/><stop offset="0.9078" stop-color="#ffff50"/><stop offset="0.9272" stop-color="#ffff02"/><stop offset="0.9465" stop-color="#ffcc00"/><stop offset="1.0000" stop-color="#ffcc00"/></linearGradient><linearGradient id="cb7" x1="0" y1="0" x2="0" y2="1"><stop offset="0.000" stop-color="#ffffff"/><stop offset="0.062" stop-color="#ffffbf"/><stop offset="0.125" stop-color="#ffff80"/><stop offset="0.188" stop-color="#ffff40"/><stop offset="0.250" stop-color="#ffff00"/><stop offset="0.312" stop-color="#ffd400"/><stop offset="0.375" stop-color="#ffaa00"/><stop offset="0.438" stop-color="#ff8000"/><stop offset="0.500" stop-color="#ff5500"/><stop offset="0.562" stop-color="#ff2a00"/><stop offset="0.625" stop-color="#ff0000"/><stop offset="0.688" stop-color="#d40000"/><stop offset="0.750" stop-color="#aa0000"/><stop offset="0.812" stop-color="#800000"/><stop offset="0.875" stop-color="#550000"/><stop offset="0.938" stop-color="#2a0000"/><stop offset="1.000" stop-color="#000000"/></linearGradient><clipPath id="cliph"><rect x="216.1" y="384.8" width="131.7" height="109"/></clipPath><linearGradient id="v206" gradientUnits="userSpaceOnUse" x1="0" y1="381.8" x2="0" y2="496.8"><stop offset="0.0000" stop-color="#ffff5c"/><stop offset="0.9070" stop-color="#ffff5c"/><stop offset="0.9215" stop-color="#ffff05"/><stop offset="0.9360" stop-color="#ffc900"/><stop offset="0.9505" stop-color="#ff8f00"/><stop offset="0.9650" stop-color="#ff5500"/><stop offset="1.0000" stop-color="#ff5500"/></linearGradient><linearGradient id="v207" gradientUnits="userSpaceOnUse" x1="0" y1="381.8" x2="0" y2="496.8"><stop offset="0.0000" stop-color="#ffff47"/><stop offset="0.5210" stop-color="#ffff47"/><stop offset="0.5499" stop-color="#ffff00"/><stop offset="0.5789" stop-color="#ffcf00"/><stop offset="0.7603" stop-color="#ffcf00"/><stop offset="0.8182" stop-color="#ff8b00"/><stop offset="0.9263" stop-color="#ff8b00"/><stop offset="0.9553" stop-color="#ff5500"/><stop offset="0.9843" stop-color="#ff1f00"/><stop offset="1.0000" stop-color="#ff1f00"/></linearGradient><linearGradient id="v208" gradientUnits="userSpaceOnUse" x1="0" y1="381.8" x2="0" y2="496.8"><stop offset="0.0000" stop-color="#ffff33"/><stop offset="1.0000" stop-color="#ffff33"/></linearGradient><linearGradient id="v209" gradientUnits="userSpaceOnUse" x1="0" y1="381.8" x2="0" y2="496.8"><stop offset="0.0000" stop-color="#ffff0a"/><stop offset="0.6175" stop-color="#ffff0a"/><stop offset="0.6464" stop-color="#ffcf00"/><stop offset="0.6754" stop-color="#ff9900"/><stop offset="0.7719" stop-color="#ff9900"/><stop offset="0.8009" stop-color="#ff6600"/><stop offset="0.8298" stop-color="#ff3300"/><stop offset="0.9070" stop-color="#ff3300"/><stop offset="0.9215" stop-color="#fa0000"/><stop offset="0.9360" stop-color="#c20000"/><stop offset="0.9505" stop-color="#8a0000"/><stop offset="0.9650" stop-color="#520000"/><stop offset="1.0000" stop-color="#520000"/></linearGradient><linearGradient id="v210" gradientUnits="userSpaceOnUse" x1="0" y1="381.8" x2="0" y2="496.8"><stop offset="0.0000" stop-color="#ffff85"/><stop offset="1.0000" stop-color="#ffff85"/></linearGradient><linearGradient id="v211" gradientUnits="userSpaceOnUse" x1="0" y1="381.8" x2="0" y2="496.8"><stop offset="0.0000" stop-color="#ffffcc"/><stop offset="1.0000" stop-color="#ffffcc"/></linearGradient><linearGradient id="v212" gradientUnits="userSpaceOnUse" x1="0" y1="381.8" x2="0" y2="496.8"><stop offset="0.0000" stop-color="#ffffb8"/><stop offset="0.9070" stop-color="#ffffb8"/><stop offset="0.9215" stop-color="#ffff63"/><stop offset="0.9360" stop-color="#ffff0f"/><stop offset="0.9505" stop-color="#ffd100"/><stop offset="0.9650" stop-color="#ff9900"/><stop offset="1.0000" stop-color="#ff9900"/></linearGradient><linearGradient id="v213" gradientUnits="userSpaceOnUse" x1="0" y1="381.8" x2="0" y2="496.8"><stop offset="0.0000" stop-color="#ffff33"/><stop offset="0.6947" stop-color="#ffff33"/><stop offset="0.7526" stop-color="#ffcf00"/><stop offset="0.9070" stop-color="#ffcf00"/><stop offset="0.9650" stop-color="#ff8b00"/><stop offset="1.0000" stop-color="#ff8b00"/></linearGradient><linearGradient id="v214" gradientUnits="userSpaceOnUse" x1="0" y1="381.8" x2="0" y2="496.8"><stop offset="0.0000" stop-color="#ffff66"/><stop offset="1.0000" stop-color="#ffff66"/></linearGradient><linearGradient id="v215" gradientUnits="userSpaceOnUse" x1="0" y1="381.8" x2="0" y2="496.8"><stop offset="0.0000" stop-color="#ffff33"/><stop offset="0.8105" stop-color="#ffff33"/><stop offset="0.8298" stop-color="#fff400"/><stop offset="0.8491" stop-color="#ffc600"/><stop offset="0.8684" stop-color="#ff9900"/><stop offset="0.9070" stop-color="#ff9900"/><stop offset="0.9263" stop-color="#ff6700"/><stop offset="0.9457" stop-color="#ff3500"/><stop offset="0.9650" stop-color="#ff0300"/><stop offset="1.0000" stop-color="#ff0300"/></linearGradient><linearGradient id="v216" gradientUnits="userSpaceOnUse" x1="0" y1="381.8" x2="0" y2="496.8"><stop offset="0.0000" stop-color="#ffffff"/><stop offset="1.0000" stop-color="#ffffff"/></linearGradient><linearGradient id="v217" gradientUnits="userSpaceOnUse" x1="0" y1="381.8" x2="0" y2="496.8"><stop offset="0.0000" stop-color="#ffff33"/><stop offset="0.3955" stop-color="#ffff33"/><stop offset="0.4534" stop-color="#ffcf00"/><stop offset="0.8877" stop-color="#ffcf00"/><stop offset="0.9070" stop-color="#ff9400"/><stop offset="0.9263" stop-color="#ff5a00"/><stop offset="0.9457" stop-color="#ff1f00"/><stop offset="1.0000" stop-color="#ff1f00"/></linearGradient><linearGradient id="v218" gradientUnits="userSpaceOnUse" x1="0" y1="381.8" x2="0" y2="496.8"><stop offset="0.0000" stop-color="#ffffad"/><stop offset="1.0000" stop-color="#ffffad"/></linearGradient><linearGradient id="v219" gradientUnits="userSpaceOnUse" x1="0" y1="381.8" x2="0" y2="496.8"><stop offset="0.0000" stop-color="#ffff33"/><stop offset="1.0000" stop-color="#ffff33"/></linearGradient><linearGradient id="v220" gradientUnits="userSpaceOnUse" x1="0" y1="381.8" x2="0" y2="496.8"><stop offset="0.0000" stop-color="#ffff99"/><stop offset="1.0000" stop-color="#ffff99"/></linearGradient><linearGradient id="v221" gradientUnits="userSpaceOnUse" x1="0" y1="381.8" x2="0" y2="496.8"><stop offset="0.0000" stop-color="#ffff0a"/><stop offset="0.7430" stop-color="#ffff0a"/><stop offset="0.8009" stop-color="#ffc200"/><stop offset="0.7912" stop-color="#ffc200"/><stop offset="0.8202" stop-color="#ff8b00"/><stop offset="0.8491" stop-color="#ff5500"/><stop offset="0.9070" stop-color="#ff5500"/><stop offset="0.9650" stop-color="#ff1100"/><stop offset="1.0000" stop-color="#ff1100"/></linearGradient><linearGradient id="v222" gradientUnits="userSpaceOnUse" x1="0" y1="381.8" x2="0" y2="496.8"><stop offset="0.0000" stop-color="#ffff33"/><stop offset="0.9070" stop-color="#ffff33"/><stop offset="0.9650" stop-color="#ffcf00"/><stop offset="1.0000" stop-color="#ffcf00"/></linearGradient><linearGradient id="v223" gradientUnits="userSpaceOnUse" x1="0" y1="381.8" x2="0" y2="496.8"><stop offset="0.0000" stop-color="#ffff66"/><stop offset="0.7198" stop-color="#ffff66"/><stop offset="0.7487" stop-color="#ffff0f"/><stop offset="0.7777" stop-color="#ffcf00"/><stop offset="0.8202" stop-color="#ffcf00"/><stop offset="0.8395" stop-color="#ff9000"/><stop offset="0.8588" stop-color="#ff5000"/><stop offset="0.8781" stop-color="#ff1100"/><stop offset="0.9070" stop-color="#ff1100"/><stop offset="0.9263" stop-color="#d10000"/><stop offset="0.9457" stop-color="#910000"/><stop offset="0.9650" stop-color="#520000"/><stop offset="1.0000" stop-color="#520000"/></linearGradient><linearGradient id="v224" gradientUnits="userSpaceOnUse" x1="0" y1="381.8" x2="0" y2="496.8"><stop offset="0.0000" stop-color="#ffff85"/><stop offset="1.0000" stop-color="#ffff85"/></linearGradient><linearGradient id="v225" gradientUnits="userSpaceOnUse" x1="0" y1="381.8" x2="0" y2="496.8"><stop offset="0.0000" stop-color="#ffff5c"/><stop offset="1.0000" stop-color="#ffff5c"/></linearGradient><linearGradient id="v226" gradientUnits="userSpaceOnUse" x1="0" y1="381.8" x2="0" y2="496.8"><stop offset="0.0000" stop-color="#ffffad"/><stop offset="1.0000" stop-color="#ffffad"/></linearGradient><linearGradient id="v227" gradientUnits="userSpaceOnUse" x1="0" y1="381.8" x2="0" y2="496.8"><stop offset="0.0000" stop-color="#ffffcc"/><stop offset="1.0000" stop-color="#ffffcc"/></linearGradient><linearGradient id="v228" gradientUnits="userSpaceOnUse" x1="0" y1="381.8" x2="0" y2="496.8"><stop offset="0.0000" stop-color="#ffffad"/><stop offset="1.0000" stop-color="#ffffad"/></linearGradient><linearGradient id="v229" gradientUnits="userSpaceOnUse" x1="0" y1="381.8" x2="0" y2="496.8"><stop offset="0.0000" stop-color="#ffff99"/><stop offset="1.0000" stop-color="#ffff99"/></linearGradient><linearGradient id="v230" gradientUnits="userSpaceOnUse" x1="0" y1="381.8" x2="0" y2="496.8"><stop offset="0.0000" stop-color="#ffff99"/><stop offset="1.0000" stop-color="#ffff99"/></linearGradient><linearGradient id="v231" gradientUnits="userSpaceOnUse" x1="0" y1="381.8" x2="0" y2="496.8"><stop offset="0.0000" stop-color="#ffff52"/><stop offset="0.5210" stop-color="#ffff52"/><stop offset="0.5789" stop-color="#ffff0a"/><stop offset="0.7603" stop-color="#ffff0a"/><stop offset="0.8182" stop-color="#ffe400"/><stop offset="0.9070" stop-color="#ffe400"/><stop offset="0.9264" stop-color="#ffbd00"/><stop offset="0.9457" stop-color="#ff8500"/><stop offset="0.9650" stop-color="#ff4c00"/><stop offset="0.9843" stop-color="#ff3a00"/><stop offset="1.0000" stop-color="#ff3a00"/></linearGradient><linearGradient id="v232" gradientUnits="userSpaceOnUse" x1="0" y1="381.8" x2="0" y2="496.8"><stop offset="0.0000" stop-color="#ffff3d"/><stop offset="0.5210" stop-color="#ffff3d"/><stop offset="0.5789" stop-color="#fff800"/><stop offset="0.7603" stop-color="#fff800"/><stop offset="0.8182" stop-color="#ffd600"/><stop offset="0.9264" stop-color="#ffd600"/><stop offset="0.9843" stop-color="#ffa000"/><stop offset="1.0000" stop-color="#ffa000"/></linearGradient><linearGradient id="v233" gradientUnits="userSpaceOnUse" x1="0" y1="381.8" x2="0" y2="496.8"><stop offset="0.0000" stop-color="#ffff1f"/><stop offset="0.6175" stop-color="#ffff1f"/><stop offset="0.6754" stop-color="#ffdd00"/><stop offset="0.7719" stop-color="#ffdd00"/><stop offset="0.8298" stop-color="#ffaa00"/><stop offset="0.9070" stop-color="#ffaa00"/><stop offset="0.9360" stop-color="#ff7200"/><stop offset="0.9650" stop-color="#ff3a00"/><stop offset="1.0000" stop-color="#ff3a00"/></linearGradient><linearGradient id="v234" gradientUnits="userSpaceOnUse" x1="0" y1="381.8" x2="0" y2="496.8"><stop offset="0.0000" stop-color="#ffff47"/><stop offset="0.6175" stop-color="#ffff47"/><stop offset="0.6754" stop-color="#fff800"/><stop offset="0.7719" stop-color="#fff800"/><stop offset="0.8298" stop-color="#ffc500"/><stop offset="0.9070" stop-color="#ffc500"/><stop offset="0.9360" stop-color="#ff8d00"/><stop offset="0.9650" stop-color="#ff5500"/><stop offset="1.0000" stop-color="#ff5500"/></linearGradient><linearGradient id="v235" gradientUnits="userSpaceOnUse" x1="0" y1="381.8" x2="0" y2="496.8"><stop offset="0.0000" stop-color="#ffffa8"/><stop offset="1.0000" stop-color="#ffffa8"/></linearGradient><linearGradient id="v236" gradientUnits="userSpaceOnUse" x1="0" y1="381.8" x2="0" y2="496.8"><stop offset="0.0000" stop-color="#ffffc2"/><stop offset="0.9070" stop-color="#ffffc2"/><stop offset="0.9360" stop-color="#ffff6e"/><stop offset="0.9650" stop-color="#ffff19"/><stop offset="1.0000" stop-color="#ffff19"/></linearGradient><linearGradient id="v237" gradientUnits="userSpaceOnUse" x1="0" y1="381.8" x2="0" y2="496.8"><stop offset="0.0000" stop-color="#ffff75"/><stop offset="0.6947" stop-color="#ffff75"/><stop offset="0.7526" stop-color="#ffff38"/><stop offset="0.9070" stop-color="#ffff38"/><stop offset="0.9263" stop-color="#fff400"/><stop offset="0.9457" stop-color="#ffc300"/><stop offset="0.9650" stop-color="#ff9200"/><stop offset="1.0000" stop-color="#ff9200"/></linearGradient><linearGradient id="v238" gradientUnits="userSpaceOnUse" x1="0" y1="381.8" x2="0" y2="496.8"><stop offset="0.0000" stop-color="#ffff4c"/><stop offset="0.6947" stop-color="#ffff4c"/><stop offset="0.7526" stop-color="#ffff0f"/><stop offset="0.9070" stop-color="#ffff0f"/><stop offset="0.9650" stop-color="#ffe700"/><stop offset="1.0000" stop-color="#ffe700"/></linearGradient><linearGradient id="v239" gradientUnits="userSpaceOnUse" x1="0" y1="381.8" x2="0" y2="496.8"><stop offset="0.0000" stop-color="#ffff4c"/><stop offset="0.8105" stop-color="#ffff4c"/><stop offset="0.8684" stop-color="#ffee00"/><stop offset="0.9070" stop-color="#ffee00"/><stop offset="0.9650" stop-color="#ffa300"/><stop offset="1.0000" stop-color="#ffa300"/></linearGradient><linearGradient id="v240" gradientUnits="userSpaceOnUse" x1="0" y1="381.8" x2="0" y2="496.8"><stop offset="0.0000" stop-color="#ffff99"/><stop offset="0.8105" stop-color="#ffff99"/><stop offset="0.8684" stop-color="#ffff33"/><stop offset="0.9070" stop-color="#ffff33"/><stop offset="0.9650" stop-color="#ffd600"/><stop offset="1.0000" stop-color="#ffd600"/></linearGradient><linearGradient id="v241" gradientUnits="userSpaceOnUse" x1="0" y1="381.8" x2="0" y2="496.8"><stop offset="0.0000" stop-color="#ffff99"/><stop offset="0.3955" stop-color="#ffff99"/><stop offset="0.4534" stop-color="#ffff5c"/><stop offset="0.8877" stop-color="#ffff5c"/><stop offset="0.9167" stop-color="#ffff1a"/><stop offset="0.9456" stop-color="#ffe400"/><stop offset="1.0000" stop-color="#ffe400"/></linearGradient><linearGradient id="v242" gradientUnits="userSpaceOnUse" x1="0" y1="381.8" x2="0" y2="496.8"><stop offset="0.0000" stop-color="#ffff70"/><stop offset="0.3955" stop-color="#ffff70"/><stop offset="0.4534" stop-color="#ffff33"/><stop offset="0.8877" stop-color="#ffff33"/><stop offset="0.9167" stop-color="#fff500"/><stop offset="0.9456" stop-color="#ffc900"/><stop offset="1.0000" stop-color="#ffc900"/></linearGradient><linearGradient id="v243" gradientUnits="userSpaceOnUse" x1="0" y1="381.8" x2="0" y2="496.8"><stop offset="0.0000" stop-color="#ffff70"/><stop offset="1.0000" stop-color="#ffff70"/></linearGradient><linearGradient id="v244" gradientUnits="userSpaceOnUse" x1="0" y1="381.8" x2="0" y2="496.8"><stop offset="0.0000" stop-color="#ffff66"/><stop offset="1.0000" stop-color="#ffff66"/></linearGradient><linearGradient id="v245" gradientUnits="userSpaceOnUse" x1="0" y1="381.8" x2="0" y2="496.8"><stop offset="0.0000" stop-color="#ffff52"/><stop offset="0.7430" stop-color="#ffff52"/><stop offset="0.7912" stop-color="#ffff27"/><stop offset="0.8009" stop-color="#ffff11"/><stop offset="0.8491" stop-color="#ffdd00"/><stop offset="0.9070" stop-color="#ffdd00"/><stop offset="0.9650" stop-color="#ffbb00"/><stop offset="1.0000" stop-color="#ffbb00"/></linearGradient><linearGradient id="v246" gradientUnits="userSpaceOnUse" x1="0" y1="381.8" x2="0" y2="496.8"><stop offset="0.0000" stop-color="#ffff1f"/><stop offset="0.7430" stop-color="#ffff1f"/><stop offset="0.7912" stop-color="#fff700"/><stop offset="0.8009" stop-color="#ffe800"/><stop offset="0.8491" stop-color="#ffbb00"/><stop offset="0.9070" stop-color="#ffbb00"/><stop offset="0.9650" stop-color="#ff7000"/><stop offset="1.0000" stop-color="#ff7000"/></linearGradient><linearGradient id="v247" gradientUnits="userSpaceOnUse" x1="0" y1="381.8" x2="0" y2="496.8"><stop offset="0.0000" stop-color="#ffff4c"/><stop offset="0.7198" stop-color="#ffff4c"/><stop offset="0.7777" stop-color="#fff800"/><stop offset="0.8202" stop-color="#fff800"/><stop offset="0.8491" stop-color="#ffc900"/><stop offset="0.8781" stop-color="#ff9900"/><stop offset="0.9070" stop-color="#ff9900"/><stop offset="0.9263" stop-color="#ff6c00"/><stop offset="0.9457" stop-color="#ff3e00"/><stop offset="0.9650" stop-color="#ff1100"/><stop offset="1.0000" stop-color="#ff1100"/></linearGradient><linearGradient id="v248" gradientUnits="userSpaceOnUse" x1="0" y1="381.8" x2="0" y2="496.8"><stop offset="0.0000" stop-color="#ffff75"/><stop offset="0.7198" stop-color="#ffff75"/><stop offset="0.7777" stop-color="#ffff1f"/><stop offset="0.8202" stop-color="#ffff1f"/><stop offset="0.8491" stop-color="#ffe400"/><stop offset="0.8781" stop-color="#ffb400"/><stop offset="0.9070" stop-color="#ffb400"/><stop offset="0.9360" stop-color="#ff8500"/><stop offset="0.9650" stop-color="#ff5500"/><stop offset="1.0000" stop-color="#ff5500"/></linearGradient><linearGradient id="v249" gradientUnits="userSpaceOnUse" x1="0" y1="381.8" x2="0" y2="496.8"><stop offset="0.0000" stop-color="#ffff70"/><stop offset="1.0000" stop-color="#ffff70"/></linearGradient><linearGradient id="v250" gradientUnits="userSpaceOnUse" x1="0" y1="381.8" x2="0" y2="496.8"><stop offset="0.0000" stop-color="#ffff85"/><stop offset="1.0000" stop-color="#ffff85"/></linearGradient><linearGradient id="v251" gradientUnits="userSpaceOnUse" x1="0" y1="381.8" x2="0" y2="496.8"><stop offset="0.0000" stop-color="#ffffbd"/><stop offset="1.0000" stop-color="#ffffbd"/></linearGradient><linearGradient id="v252" gradientUnits="userSpaceOnUse" x1="0" y1="381.8" x2="0" y2="496.8"><stop offset="0.0000" stop-color="#ffffbd"/><stop offset="1.0000" stop-color="#ffffbd"/></linearGradient><linearGradient id="v253" gradientUnits="userSpaceOnUse" x1="0" y1="381.8" x2="0" y2="496.8"><stop offset="0.0000" stop-color="#ffffa3"/><stop offset="1.0000" stop-color="#ffffa3"/></linearGradient><linearGradient id="v254" gradientUnits="userSpaceOnUse" x1="0" y1="381.8" x2="0" y2="496.8"><stop offset="0.0000" stop-color="#ffff99"/><stop offset="1.0000" stop-color="#ffff99"/></linearGradient><linearGradient id="cb8" x1="0" y1="0" x2="0" y2="1"><stop offset="0.000" stop-color="#ffffff"/><stop offset="0.062" stop-color="#ffffbf"/><stop offset="0.125" stop-color="#ffff80"/><stop offset="0.188" stop-color="#ffff40"/><stop offset="0.250" stop-color="#ffff00"/><stop offset="0.312" stop-color="#ffd400"/><stop offset="0.375" stop-color="#ffaa00"/><stop offset="0.438" stop-color="#ff8000"/><stop offset="0.500" stop-color="#ff5500"/><stop offset="0.562" stop-color="#ff2a00"/><stop offset="0.625" stop-color="#ff0000"/><stop offset="0.688" stop-color="#d40000"/><stop offset="0.750" stop-color="#aa0000"/><stop offset="0.812" stop-color="#800000"/><stop offset="0.875" stop-color="#550000"/><stop offset="0.938" stop-color="#2a0000"/><stop offset="1.000" stop-color="#000000"/></linearGradient><clipPath id="clipi"><rect x="398.7" y="386.3" width="131.8" height="108.9"/></clipPath><linearGradient id="v255" gradientUnits="userSpaceOnUse" x1="0" y1="383.3" x2="0" y2="498.2"><stop offset="0.0000" stop-color="#ffff85"/><stop offset="0.8692" stop-color="#ffff85"/><stop offset="0.8982" stop-color="#ffff29"/><stop offset="0.9272" stop-color="#ffdd00"/><stop offset="0.9272" stop-color="#ffdd00"/><stop offset="0.9561" stop-color="#ffaa00"/><stop offset="0.9851" stop-color="#ff7700"/><stop offset="1.0000" stop-color="#ff7700"/></linearGradient><linearGradient id="v256" gradientUnits="userSpaceOnUse" x1="0" y1="383.3" x2="0" y2="498.2"><stop offset="0.0000" stop-color="#ffff8f"/><stop offset="0.3862" stop-color="#ffff8f"/><stop offset="0.4441" stop-color="#ffff5c"/><stop offset="0.6470" stop-color="#ffff5c"/><stop offset="0.7050" stop-color="#ffff0a"/><stop offset="1.0000" stop-color="#ffff0a"/></linearGradient><linearGradient id="v257" gradientUnits="userSpaceOnUse" x1="0" y1="383.3" x2="0" y2="498.2"><stop offset="0.0000" stop-color="#ffff8f"/><stop offset="0.3862" stop-color="#ffff8f"/><stop offset="0.4441" stop-color="#ffff52"/><stop offset="0.7339" stop-color="#ffff52"/><stop offset="0.7919" stop-color="#ffeb00"/><stop offset="0.8499" stop-color="#ffeb00"/><stop offset="0.9078" stop-color="#ff9900"/><stop offset="1.0000" stop-color="#ff9900"/></linearGradient><linearGradient id="v258" gradientUnits="userSpaceOnUse" x1="0" y1="383.3" x2="0" y2="498.2"><stop offset="0.0000" stop-color="#ffff85"/><stop offset="0.3862" stop-color="#ffff85"/><stop offset="0.4441" stop-color="#ffff33"/><stop offset="0.8499" stop-color="#ffff33"/><stop offset="0.8692" stop-color="#fff400"/><stop offset="0.8885" stop-color="#ffc600"/><stop offset="0.9078" stop-color="#ff9900"/><stop offset="1.0000" stop-color="#ff9900"/></linearGradient><linearGradient id="v259" gradientUnits="userSpaceOnUse" x1="0" y1="383.3" x2="0" y2="498.2"><stop offset="0.0000" stop-color="#ffff85"/><stop offset="0.9078" stop-color="#ffff85"/><stop offset="0.9194" stop-color="#ffff27"/><stop offset="0.9310" stop-color="#ffda00"/><stop offset="0.9426" stop-color="#ff9c00"/><stop offset="0.9542" stop-color="#ff5d00"/><stop offset="0.9658" stop-color="#ff1f00"/><stop offset="1.0000" stop-color="#ff1f00"/></linearGradient><linearGradient id="v260" gradientUnits="userSpaceOnUse" x1="0" y1="383.3" x2="0" y2="498.2"><stop offset="0.0000" stop-color="#ffff7a"/><stop offset="0.8209" stop-color="#ffff7a"/><stop offset="0.8402" stop-color="#ffff18"/><stop offset="0.8595" stop-color="#ffcd00"/><stop offset="0.8789" stop-color="#ff8b00"/><stop offset="0.9078" stop-color="#ff8b00"/><stop offset="0.9368" stop-color="#ff4e00"/><stop offset="0.9658" stop-color="#ff1100"/><stop offset="1.0000" stop-color="#ff1100"/></linearGradient><linearGradient id="v261" gradientUnits="userSpaceOnUse" x1="0" y1="383.3" x2="0" y2="498.2"><stop offset="0.0000" stop-color="#ffff66"/><stop offset="0.8209" stop-color="#ffff66"/><stop offset="0.8402" stop-color="#ffff11"/><stop offset="0.8595" stop-color="#ffd200"/><stop offset="0.8789" stop-color="#ff9900"/><stop offset="0.9078" stop-color="#ff9900"/><stop offset="0.9368" stop-color="#ff5c00"/><stop offset="0.9658" stop-color="#ff1f00"/><stop offset="1.0000" stop-color="#ff1f00"/></linearGradient><linearGradient id="v262" gradientUnits="userSpaceOnUse" x1="0" y1="383.3" x2="0" y2="498.2"><stop offset="0.0000" stop-color="#ffffe0"/><stop offset="1.0000" stop-color="#ffffe0"/></linearGradient><linearGradient id="v263" gradientUnits="userSpaceOnUse" x1="0" y1="383.3" x2="0" y2="498.2"><stop offset="0.0000" stop-color="#ffff1f"/><stop offset="0.9078" stop-color="#ffff1f"/><stop offset="0.9658" stop-color="#ffcf00"/><stop offset="1.0000" stop-color="#ffcf00"/></linearGradient><linearGradient id="v264" gradientUnits="userSpaceOnUse" x1="0" y1="383.3" x2="0" y2="498.2"><stop offset="0.0000" stop-color="#ffff85"/><stop offset="1.0000" stop-color="#ffff85"/></linearGradient><linearGradient id="v265" gradientUnits="userSpaceOnUse" x1="0" y1="383.3" x2="0" y2="498.2"><stop offset="0.0000" stop-color="#fffff5"/><stop offset="1.0000" stop-color="#fffff5"/></linearGradient><linearGradient id="v266" gradientUnits="userSpaceOnUse" x1="0" y1="383.3" x2="0" y2="498.2"><stop offset="0.0000" stop-color="#ffffad"/><stop offset="1.0000" stop-color="#ffffad"/></linearGradient><linearGradient id="v267" gradientUnits="userSpaceOnUse" x1="0" y1="383.3" x2="0" y2="498.2"><stop offset="0.0000" stop-color="#ffff1f"/><stop offset="0.9078" stop-color="#ffff1f"/><stop offset="0.9223" stop-color="#ffd600"/><stop offset="0.9368" stop-color="#ff9900"/><stop offset="0.9513" stop-color="#ff5c00"/><stop offset="0.9658" stop-color="#ff1f00"/><stop offset="1.0000" stop-color="#ff1f00"/></linearGradient><linearGradient id="v268" gradientUnits="userSpaceOnUse" x1="0" y1="383.3" x2="0" y2="498.2"><stop offset="0.0000" stop-color="#ffffb8"/><stop offset="1.0000" stop-color="#ffffb8"/></linearGradient><linearGradient id="v269" gradientUnits="userSpaceOnUse" x1="0" y1="383.3" x2="0" y2="498.2"><stop offset="0.0000" stop-color="#ffff33"/><stop offset="0.8209" stop-color="#ffff33"/><stop offset="0.8402" stop-color="#fff400"/><stop offset="0.8595" stop-color="#ffc600"/><stop offset="0.8789" stop-color="#ff9900"/><stop offset="0.9078" stop-color="#ff9900"/><stop offset="0.9368" stop-color="#ff5c00"/><stop offset="0.9658" stop-color="#ff1f00"/><stop offset="1.0000" stop-color="#ff1f00"/></linearGradient><linearGradient id="v270" gradientUnits="userSpaceOnUse" x1="0" y1="383.3" x2="0" y2="498.2"><stop offset="0.0000" stop-color="#ffffad"/><stop offset="1.0000" stop-color="#ffffad"/></linearGradient><linearGradient id="v271" gradientUnits="userSpaceOnUse" x1="0" y1="383.3" x2="0" y2="498.2"><stop offset="0.0000" stop-color="#ffff1f"/><stop offset="0.8692" stop-color="#ffff1f"/><stop offset="0.8837" stop-color="#ffd600"/><stop offset="0.8982" stop-color="#ff9900"/><stop offset="0.9127" stop-color="#ff5c00"/><stop offset="0.9272" stop-color="#ff1f00"/><stop offset="0.9175" stop-color="#ff1f00"/><stop offset="0.9465" stop-color="#e40000"/><stop offset="0.9755" stop-color="#aa0000"/><stop offset="1.0000" stop-color="#aa0000"/></linearGradient><linearGradient id="v272" gradientUnits="userSpaceOnUse" x1="0" y1="383.3" x2="0" y2="498.2"><stop offset="0.0000" stop-color="#ff8b00"/><stop offset="0.3862" stop-color="#ff8b00"/><stop offset="0.4441" stop-color="#ff3a00"/><stop offset="1.0000" stop-color="#ff3a00"/></linearGradient><linearGradient id="v273" gradientUnits="userSpaceOnUse" x1="0" y1="383.3" x2="0" y2="498.2"><stop offset="0.0000" stop-color="#ffeb00"/><stop offset="0.5987" stop-color="#ffeb00"/><stop offset="0.6567" stop-color="#ffa700"/><stop offset="1.0000" stop-color="#ffa700"/></linearGradient><linearGradient id="v274" gradientUnits="userSpaceOnUse" x1="0" y1="383.3" x2="0" y2="498.2"><stop offset="0.0000" stop-color="#ffff85"/><stop offset="1.0000" stop-color="#ffff85"/></linearGradient><linearGradient id="v275" gradientUnits="userSpaceOnUse" x1="0" y1="383.3" x2="0" y2="498.2"><stop offset="0.0000" stop-color="#ffff66"/><stop offset="0.6953" stop-color="#ffff66"/><stop offset="0.7243" stop-color="#ffff0f"/><stop offset="0.7533" stop-color="#ffcf00"/><stop offset="1.0000" stop-color="#ffcf00"/></linearGradient><linearGradient id="v276" gradientUnits="userSpaceOnUse" x1="0" y1="383.3" x2="0" y2="498.2"><stop offset="0.0000" stop-color="#ffff99"/><stop offset="1.0000" stop-color="#ffff99"/></linearGradient><linearGradient id="v277" gradientUnits="userSpaceOnUse" x1="0" y1="383.3" x2="0" y2="498.2"><stop offset="0.0000" stop-color="#ffff66"/><stop offset="0.7649" stop-color="#ffff66"/><stop offset="0.7842" stop-color="#ffff11"/><stop offset="0.8035" stop-color="#ffd200"/><stop offset="0.8228" stop-color="#ff9900"/><stop offset="0.8692" stop-color="#ff9900"/><stop offset="0.8982" stop-color="#ff5c00"/><stop offset="0.9272" stop-color="#ff1f00"/><stop offset="1.0000" stop-color="#ff1f00"/></linearGradient><linearGradient id="v278" gradientUnits="userSpaceOnUse" x1="0" y1="383.3" x2="0" y2="498.2"><stop offset="0.0000" stop-color="#ffff85"/><stop offset="1.0000" stop-color="#ffff85"/></linearGradient><linearGradient id="v279" gradientUnits="userSpaceOnUse" x1="0" y1="383.3" x2="0" y2="498.2"><stop offset="0.0000" stop-color="#ffff99"/><stop offset="1.0000" stop-color="#ffff99"/></linearGradient><linearGradient id="v280" gradientUnits="userSpaceOnUse" x1="0" y1="383.3" x2="0" y2="498.2"><stop offset="0.0000" stop-color="#ffff8a"/><stop offset="0.3862" stop-color="#ffff8a"/><stop offset="0.4441" stop-color="#ffff70"/><stop offset="0.6470" stop-color="#ffff70"/><stop offset="0.7050" stop-color="#ffff47"/><stop offset="0.8692" stop-color="#ffff47"/><stop offset="0.9272" stop-color="#fff100"/><stop offset="0.9851" stop-color="#ffbe00"/><stop offset="1.0000" stop-color="#ffbe00"/></linearGradient><linearGradient id="v281" gradientUnits="userSpaceOnUse" x1="0" y1="383.3" x2="0" y2="498.2"><stop offset="0.0000" stop-color="#ffff8f"/><stop offset="0.3862" stop-color="#ffff8f"/><stop offset="0.4441" stop-color="#ffff57"/><stop offset="0.6470" stop-color="#ffff57"/><stop offset="0.7050" stop-color="#ffff2e"/><stop offset="0.7339" stop-color="#ffff2e"/><stop offset="0.7919" stop-color="#fff800"/><stop offset="0.8499" stop-color="#fff800"/><stop offset="0.9078" stop-color="#ffcf00"/><stop offset="1.0000" stop-color="#ffcf00"/></linearGradient><linearGradient id="v282" gradientUnits="userSpaceOnUse" x1="0" y1="383.3" x2="0" y2="498.2"><stop offset="0.0000" stop-color="#ffff8a"/><stop offset="0.3862" stop-color="#ffff8a"/><stop offset="0.4441" stop-color="#ffff42"/><stop offset="0.7339" stop-color="#ffff42"/><stop offset="0.7919" stop-color="#ffff0a"/><stop offset="0.8499" stop-color="#ffff0a"/><stop offset="0.8789" stop-color="#ffcf00"/><stop offset="0.9078" stop-color="#ff9900"/><stop offset="1.0000" stop-color="#ff9900"/></linearGradient><linearGradient id="v283" gradientUnits="userSpaceOnUse" x1="0" y1="383.3" x2="0" y2="498.2"><stop offset="0.0000" stop-color="#ffff85"/><stop offset="0.3862" stop-color="#ffff85"/><stop offset="0.4441" stop-color="#ffff5c"/><stop offset="0.8499" stop-color="#ffff5c"/><stop offset="0.9078" stop-color="#fff800"/><stop offset="0.9272" stop-color="#ffc400"/><stop offset="0.9465" stop-color="#ff9000"/><stop offset="0.9658" stop-color="#ff5c00"/><stop offset="1.0000" stop-color="#ff5c00"/></linearGradient><linearGradient id="v284" gradientUnits="userSpaceOnUse" x1="0" y1="383.3" x2="0" y2="498.2"><stop offset="0.0000" stop-color="#ffff80"/><stop offset="0.8209" stop-color="#ffff7f"/><stop offset="0.8499" stop-color="#ffff36"/><stop offset="0.8789" stop-color="#fff100"/><stop offset="0.9078" stop-color="#fff100"/><stop offset="0.9223" stop-color="#ffbb00"/><stop offset="0.9368" stop-color="#ff8500"/><stop offset="0.9513" stop-color="#ff4e00"/><stop offset="0.9658" stop-color="#ff1800"/><stop offset="1.0000" stop-color="#ff1800"/></linearGradient><linearGradient id="v285" gradientUnits="userSpaceOnUse" x1="0" y1="383.3" x2="0" y2="498.2"><stop offset="0.0000" stop-color="#ffff70"/><stop offset="0.8209" stop-color="#ffff70"/><stop offset="0.8402" stop-color="#ffff14"/><stop offset="0.8595" stop-color="#ffcf00"/><stop offset="0.8789" stop-color="#ff9200"/><stop offset="0.9078" stop-color="#ff9200"/><stop offset="0.9368" stop-color="#ff5500"/><stop offset="0.9658" stop-color="#ff1800"/><stop offset="1.0000" stop-color="#ff1800"/></linearGradient><linearGradient id="v286" gradientUnits="userSpaceOnUse" x1="0" y1="383.3" x2="0" y2="498.2"><stop offset="0.0000" stop-color="#ffffa3"/><stop offset="0.8209" stop-color="#ffffa3"/><stop offset="0.8499" stop-color="#ffff63"/><stop offset="0.8789" stop-color="#ffff24"/><stop offset="0.9078" stop-color="#ffff24"/><stop offset="0.9658" stop-color="#ffda00"/><stop offset="1.0000" stop-color="#ffda00"/></linearGradient><linearGradient id="v287" gradientUnits="userSpaceOnUse" x1="0" y1="383.3" x2="0" y2="498.2"><stop offset="0.0000" stop-color="#ffff80"/><stop offset="0.9078" stop-color="#ffff80"/><stop offset="0.9658" stop-color="#ffff4c"/><stop offset="1.0000" stop-color="#ffff4c"/></linearGradient><linearGradient id="v288" gradientUnits="userSpaceOnUse" x1="0" y1="383.3" x2="0" y2="498.2"><stop offset="0.0000" stop-color="#ffff52"/><stop offset="0.9078" stop-color="#ffff52"/><stop offset="0.9658" stop-color="#ffff1f"/><stop offset="1.0000" stop-color="#ffff1f"/></linearGradient><linearGradient id="v289" gradientUnits="userSpaceOnUse" x1="0" y1="383.3" x2="0" y2="498.2"><stop offset="0.0000" stop-color="#ffffbd"/><stop offset="1.0000" stop-color="#ffffbd"/></linearGradient><linearGradient id="v290" gradientUnits="userSpaceOnUse" x1="0" y1="383.3" x2="0" y2="498.2"><stop offset="0.0000" stop-color="#ffffd1"/><stop offset="1.0000" stop-color="#ffffd1"/></linearGradient><linearGradient id="v291" gradientUnits="userSpaceOnUse" x1="0" y1="383.3" x2="0" y2="498.2"><stop offset="0.0000" stop-color="#ffff66"/><stop offset="0.9078" stop-color="#ffff66"/><stop offset="0.9368" stop-color="#ffff0a"/><stop offset="0.9658" stop-color="#ffc900"/><stop offset="1.0000" stop-color="#ffc900"/></linearGradient><linearGradient id="v292" gradientUnits="userSpaceOnUse" x1="0" y1="383.3" x2="0" y2="498.2"><stop offset="0.0000" stop-color="#ffff6b"/><stop offset="0.9078" stop-color="#ffff6b"/><stop offset="0.9368" stop-color="#ffff0f"/><stop offset="0.9658" stop-color="#ffcc00"/><stop offset="1.0000" stop-color="#ffcc00"/></linearGradient><linearGradient id="v293" gradientUnits="userSpaceOnUse" x1="0" y1="383.3" x2="0" y2="498.2"><stop offset="0.0000" stop-color="#ffff75"/><stop offset="0.8209" stop-color="#ffff75"/><stop offset="0.8789" stop-color="#ffff0f"/><stop offset="0.9078" stop-color="#ffff0f"/><stop offset="0.9658" stop-color="#ffcc00"/><stop offset="1.0000" stop-color="#ffcc00"/></linearGradient><linearGradient id="v294" gradientUnits="userSpaceOnUse" x1="0" y1="383.3" x2="0" y2="498.2"><stop offset="0.0000" stop-color="#ffff70"/><stop offset="0.8209" stop-color="#ffff70"/><stop offset="0.8789" stop-color="#ffff0a"/><stop offset="0.9078" stop-color="#ffff0a"/><stop offset="0.9658" stop-color="#ffc900"/><stop offset="1.0000" stop-color="#ffc900"/></linearGradient><linearGradient id="v295" gradientUnits="userSpaceOnUse" x1="0" y1="383.3" x2="0" y2="498.2"><stop offset="0.0000" stop-color="#ffff66"/><stop offset="0.8692" stop-color="#ffff66"/><stop offset="0.8933" stop-color="#ffff1a"/><stop offset="0.9175" stop-color="#ffdd00"/><stop offset="0.9272" stop-color="#ffc900"/><stop offset="0.9755" stop-color="#ff8f00"/><stop offset="1.0000" stop-color="#ff8f00"/></linearGradient><linearGradient id="v296" gradientUnits="userSpaceOnUse" x1="0" y1="383.3" x2="0" y2="498.2"><stop offset="0.0000" stop-color="#ffcf00"/><stop offset="0.3862" stop-color="#ffcf00"/><stop offset="0.4441" stop-color="#ffa700"/><stop offset="0.8692" stop-color="#ffa700"/><stop offset="0.8933" stop-color="#ff7400"/><stop offset="0.9175" stop-color="#ff4100"/><stop offset="0.9272" stop-color="#ff2c00"/><stop offset="0.9755" stop-color="#f10000"/><stop offset="1.0000" stop-color="#f10000"/></linearGradient><linearGradient id="v297" gradientUnits="userSpaceOnUse" x1="0" y1="383.3" x2="0" y2="498.2"><stop offset="0.0000" stop-color="#ffbb00"/><stop offset="0.3862" stop-color="#ffbb00"/><stop offset="0.4441" stop-color="#ff9200"/><stop offset="0.5987" stop-color="#ff9200"/><stop offset="0.6567" stop-color="#ff7000"/><stop offset="1.0000" stop-color="#ff7000"/></linearGradient><linearGradient id="v298" gradientUnits="userSpaceOnUse" x1="0" y1="383.3" x2="0" y2="498.2"><stop offset="0.0000" stop-color="#ffff33"/><stop offset="0.5987" stop-color="#ffff33"/><stop offset="0.6567" stop-color="#ffff00"/><stop offset="1.0000" stop-color="#ffff00"/></linearGradient><linearGradient id="v299" gradientUnits="userSpaceOnUse" x1="0" y1="383.3" x2="0" y2="498.2"><stop offset="0.0000" stop-color="#ffff75"/><stop offset="0.6953" stop-color="#ffff75"/><stop offset="0.7533" stop-color="#ffff1f"/><stop offset="1.0000" stop-color="#ffff1f"/></linearGradient><linearGradient id="v300" gradientUnits="userSpaceOnUse" x1="0" y1="383.3" x2="0" y2="498.2"><stop offset="0.0000" stop-color="#ffff80"/><stop offset="0.6953" stop-color="#ffff80"/><stop offset="0.7533" stop-color="#ffff29"/><stop offset="1.0000" stop-color="#ffff29"/></linearGradient><linearGradient id="v301" gradientUnits="userSpaceOnUse" x1="0" y1="383.3" x2="0" y2="498.2"><stop offset="0.0000" stop-color="#ffff80"/><stop offset="0.7649" stop-color="#ffff7f"/><stop offset="0.7938" stop-color="#ffff40"/><stop offset="0.8228" stop-color="#ffff00"/><stop offset="0.8692" stop-color="#ffff00"/><stop offset="0.9272" stop-color="#ffc200"/><stop offset="1.0000" stop-color="#ffc200"/></linearGradient><linearGradient id="v302" gradientUnits="userSpaceOnUse" x1="0" y1="383.3" x2="0" y2="498.2"><stop offset="0.0000" stop-color="#ffff75"/><stop offset="0.7649" stop-color="#ffff75"/><stop offset="0.7938" stop-color="#ffff36"/><stop offset="0.8228" stop-color="#fff800"/><stop offset="0.8692" stop-color="#fff800"/><stop offset="0.9272" stop-color="#ffbb00"/><stop offset="1.0000" stop-color="#ffbb00"/></linearGradient><linearGradient id="v303" gradientUnits="userSpaceOnUse" x1="0" y1="383.3" x2="0" y2="498.2"><stop offset="0.0000" stop-color="#ffff8f"/><stop offset="1.0000" stop-color="#ffff8f"/></linearGradient><linearGradient id="cb9" x1="0" y1="0" x2="0" y2="1"><stop offset="0.000" stop-color="#ffffff"/><stop offset="0.062" stop-color="#ffffbf"/><stop offset="0.125" stop-color="#ffff80"/><stop offset="0.188" stop-color="#ffff40"/><stop offset="0.250" stop-color="#ffff00"/><stop offset="0.312" stop-color="#ffd400"/><stop offset="0.375" stop-color="#ffaa00"/><stop offset="0.438" stop-color="#ff8000"/><stop offset="0.500" stop-color="#ff5500"/><stop offset="0.562" stop-color="#ff2a00"/><stop offset="0.625" stop-color="#ff0000"/><stop offset="0.688" stop-color="#d40000"/><stop offset="0.750" stop-color="#aa0000"/><stop offset="0.812" stop-color="#800000"/><stop offset="0.875" stop-color="#550000"/><stop offset="0.938" stop-color="#2a0000"/><stop offset="1.000" stop-color="#000000"/></linearGradient>
</defs>
<g clip-path="url(#clipa)"><g filter="url(#blur1)">
<rect x="38.4" y="6.8" width="129.3" height="114" fill="#ffff33"/>
<rect x="40.4" y="6.8" width="1.9" height="114" fill="#ffff1f"/>
<rect x="42.3" y="6.8" width="0.9" height="114" fill="#ffffcc"/>
<rect x="43.2" y="6.8" width="1.8" height="114" fill="#ffff5c"/>
<rect x="45" y="6.8" width="1.2" height="114" fill="#ffffe0"/>
<rect x="46.2" y="6.8" width="1.7" height="114" fill="#ffffff"/>
<rect x="47.9" y="6.8" width="0.9" height="114" fill="#ff7700"/>
<rect x="48.8" y="6.8" width="1.2" height="114" fill="#ff1100"/>
<rect x="50" y="6.8" width="0.9" height="114" fill="#ff7700"/>
<rect x="50.9" y="6.8" width="1.4" height="114" fill="#ffff0a"/>
<rect x="52.3" y="6.8" width="0.9" height="114" fill="#ff1f00"/>
<rect x="53.2" y="6.8" width="1.8" height="114" fill="#960000"/>
<rect x="55" y="6.8" width="0.9" height="114" fill="#ff1100"/>
<rect x="55.9" y="6.8" width="1.1" height="114" fill="#ffbb00"/>
<rect x="57" y="6.8" width="1.5" height="114" fill="#ffff1f"/>
<rect x="58.5" y="6.8" width="1.5" height="114" fill="#ffffcc"/>
<rect x="60" y="6.8" width="0.8" height="114" fill="#ffff1f"/>
<rect x="60.8" y="6.8" width="1.2" height="114" fill="#ff7700"/>
<rect x="62" y="6.8" width="1.2" height="114" fill="#ffcf00"/>
<rect x="63.2" y="6.8" width="0.9" height="114" fill="#ff1f00"/>
<rect x="64.1" y="6.8" width="0.9" height="114" fill="#ff8b00"/>
<rect x="65" y="6.8" width="1.1" height="114" fill="#ffff14"/>
<rect x="66.1" y="6.8" width="2.7" height="114" fill="#ffffcc"/>
<rect x="68.8" y="6.8" width="0.9" height="114" fill="#ff4700"/>
<rect x="69.7" y="6.8" width="1.1" height="114" fill="#ff1100"/>
<rect x="70.8" y="6.8" width="1.2" height="114" fill="#ffbb00"/>
<rect x="72" y="6.8" width="0.8" height="114" fill="#fffff5"/>
<rect x="72.8" y="6.8" width="0.8" height="114" fill="#ffbb00"/>
<rect x="73.6" y="6.8" width="1.5" height="114" fill="#ff1f00"/>
<rect x="75.1" y="6.8" width="0.9" height="114" fill="#ffff00"/>
<rect x="76" y="6.8" width="2" height="114" fill="#ff3300"/>
<rect x="78" y="6.8" width="1.2" height="114" fill="#ffffe0"/>
<rect x="79.2" y="6.8" width="1.8" height="114" fill="#ffff1f"/>
<rect x="81" y="6.8" width="2" height="114" fill="#ff4700"/>
<rect x="83" y="6.8" width="1.5" height="114" fill="#ffffe0"/>
<rect x="84.5" y="6.8" width="1.5" height="114" fill="#ffff1f"/>
<rect x="86" y="6.8" width="0.9" height="114" fill="#ff8b00"/>
<rect x="86.9" y="6.8" width="1.7" height="114" fill="#ff0300"/>
<rect x="88.6" y="6.8" width="0.9" height="114" fill="#ff8b00"/>
<rect x="89.5" y="6.8" width="1.2" height="114" fill="#fffff5"/>
<rect x="90.7" y="6.8" width="0.6" height="114" fill="#ffff1f"/>
<rect x="91.3" y="6.8" width="1.7" height="114" fill="#ff3300"/>
<rect x="93" y="6.8" width="1.5" height="114" fill="#ffff1f"/>
<rect x="94.5" y="6.8" width="2.5" height="114" fill="#ffff47"/>
<rect x="97" y="6.8" width="1.6" height="114" fill="#ffff1f"/>
<rect x="98.6" y="6.8" width="0.6" height="114" fill="#ff9900"/>
<rect x="99.2" y="6.8" width="1.2" height="114" fill="#ff1f00"/>
<rect x="100.4" y="6.8" width="1.1" height="114" fill="#ffbb00"/>
<rect x="101.5" y="6.8" width="2.5" height="114" fill="#ffff1f"/>
<rect x="104" y="6.8" width="0.9" height="114" fill="#ff9900"/>
<rect x="104.9" y="6.8" width="1.8" height="114" fill="#ff1f00"/>
<rect x="106.7" y="6.8" width="0.9" height="114" fill="#ff9900"/>
<rect x="107.6" y="6.8" width="0.6" height="114" fill="#ffff0a"/>
<rect x="108.2" y="6.8" width="0.8" height="114" fill="#ff3300"/>
<rect x="109" y="6.8" width="1.2" height="114" fill="#ffff66"/>
<rect x="110.2" y="6.8" width="1.8" height="114" fill="#ffffcc"/>
<rect x="112" y="6.8" width="2" height="114" fill="#ffcf00"/>
<rect x="114" y="6.8" width="1.2" height="114" fill="#ff8b00"/>
<rect x="115.2" y="6.8" width="1.5" height="114" fill="#ffffe0"/>
<rect x="116.7" y="6.8" width="2" height="114" fill="#ffffff"/>
<rect x="118.7" y="6.8" width="2.7" height="114" fill="#ffffe0"/>
<rect x="121.4" y="6.8" width="1.7" height="114" fill="#ffff66"/>
<rect x="123.1" y="6.8" width="1.2" height="114" fill="#ffffe0"/>
<rect x="124.3" y="6.8" width="1.5" height="114" fill="#ffff1f"/>
<rect x="125.8" y="6.8" width="2" height="114" fill="#ff1100"/>
<rect x="127.8" y="6.8" width="1.2" height="114" fill="#ff9900"/>
<rect x="129" y="6.8" width="1.8" height="114" fill="#ffff1f"/>
<rect x="130.8" y="6.8" width="0.6" height="114" fill="#ffcf00"/>
<rect x="131.4" y="6.8" width="3.4" height="114" fill="#ffff1f"/>
<rect x="134.8" y="6.8" width="0.9" height="114" fill="#ff9900"/>
<rect x="135.7" y="6.8" width="2.1" height="114" fill="#ff1100"/>
<rect x="137.8" y="6.8" width="1" height="114" fill="#ff9900"/>
<rect x="138.8" y="6.8" width="2.4" height="114" fill="#ffff33"/>
<rect x="141.2" y="6.8" width="2.1" height="114" fill="#ff1100"/>
<rect x="143.3" y="6.8" width="0.9" height="114" fill="#ff9900"/>
<rect x="144.2" y="6.8" width="1.5" height="114" fill="#ffffff"/>
<rect x="145.7" y="6.8" width="2.1" height="114" fill="#ff3300"/>
<rect x="147.8" y="6.8" width="1.6" height="114" fill="#ffff66"/>
<rect x="149.4" y="6.8" width="0.8" height="114" fill="#ffffff"/>
<rect x="150.2" y="6.8" width="1.2" height="114" fill="url(#sg1)"/>
<rect x="151.4" y="6.8" width="1.6" height="114" fill="url(#sg2)"/>
<rect x="153" y="6.8" width="1.2" height="114" fill="url(#sg3)"/>
<rect x="154.2" y="6.8" width="0.6" height="114" fill="url(#sg4)"/>
<rect x="154.8" y="6.8" width="1.5" height="114" fill="#ffff1f"/>
<rect x="156.3" y="6.8" width="2.1" height="114" fill="url(#sg5)"/>
<rect x="158.4" y="6.8" width="1.3" height="114" fill="url(#sg6)"/>
<rect x="159.7" y="6.8" width="4.2" height="114" fill="#ffff33"/>
<rect x="163.9" y="6.8" width="1.8" height="114" fill="url(#sg7)"/>
<g mask="url(#maska)">
<rect x="40.4" y="6.8" width="1.9" height="114" fill="#ffe400"/>
<rect x="42.3" y="6.8" width="0.9" height="114" fill="#ffffbc"/>
<rect x="43.2" y="6.8" width="1.8" height="114" fill="#ffff28"/>
<rect x="45" y="6.8" width="1.2" height="114" fill="#ffffd7"/>
<rect x="46.2" y="6.8" width="1.7" height="114" fill="#ffffff"/>
<rect x="47.9" y="6.8" width="0.9" height="114" fill="#ff1500"/>
<rect x="48.8" y="6.8" width="1.2" height="114" fill="#8d0000"/>
<rect x="50" y="6.8" width="0.9" height="114" fill="#ff1500"/>
<rect x="50.9" y="6.8" width="1.4" height="114" fill="#ffd200"/>
<rect x="52.3" y="6.8" width="0.9" height="114" fill="#9f0000"/>
<rect x="53.2" y="6.8" width="1.8" height="114" fill="#440000"/>
<rect x="55" y="6.8" width="0.9" height="114" fill="#8d0000"/>
<rect x="55.9" y="6.8" width="1.1" height="114" fill="#ff6f00"/>
<rect x="57" y="6.8" width="1.5" height="114" fill="#ffe400"/>
<rect x="58.5" y="6.8" width="1.5" height="114" fill="#ffffbc"/>
<rect x="60" y="6.8" width="0.8" height="114" fill="#ffe400"/>
<rect x="60.8" y="6.8" width="1.2" height="114" fill="#ff1500"/>
<rect x="62" y="6.8" width="1.2" height="114" fill="#ff8a00"/>
<rect x="63.2" y="6.8" width="0.9" height="114" fill="#9f0000"/>
<rect x="64.1" y="6.8" width="0.9" height="114" fill="#ff3000"/>
<rect x="65" y="6.8" width="1.1" height="114" fill="#ffdb00"/>
<rect x="66.1" y="6.8" width="2.7" height="114" fill="#ffffbc"/>
<rect x="68.8" y="6.8" width="0.9" height="114" fill="#d50000"/>
<rect x="69.7" y="6.8" width="1.1" height="114" fill="#8d0000"/>
<rect x="70.8" y="6.8" width="1.2" height="114" fill="#ff6f00"/>
<rect x="72" y="6.8" width="0.8" height="114" fill="#fffff2"/>
<rect x="72.8" y="6.8" width="0.8" height="114" fill="#ff6f00"/>
<rect x="73.6" y="6.8" width="1.5" height="114" fill="#9f0000"/>
<rect x="75.1" y="6.8" width="0.9" height="114" fill="#ffc900"/>
<rect x="76" y="6.8" width="2" height="114" fill="#ba0000"/>
<rect x="78" y="6.8" width="1.2" height="114" fill="#ffffd7"/>
<rect x="79.2" y="6.8" width="1.8" height="114" fill="#ffe400"/>
<rect x="81" y="6.8" width="2" height="114" fill="#d50000"/>
<rect x="83" y="6.8" width="1.5" height="114" fill="#ffffd7"/>
<rect x="84.5" y="6.8" width="1.5" height="114" fill="#ffe400"/>
<rect x="86" y="6.8" width="0.9" height="114" fill="#ff3000"/>
<rect x="86.9" y="6.8" width="1.7" height="114" fill="#7b0000"/>
<rect x="88.6" y="6.8" width="0.9" height="114" fill="#ff3000"/>
<rect x="89.5" y="6.8" width="1.2" height="114" fill="#fffff2"/>
<rect x="90.7" y="6.8" width="0.6" height="114" fill="#ffe400"/>
<rect x="91.3" y="6.8" width="1.7" height="114" fill="#ba0000"/>
<rect x="93" y="6.8" width="1.5" height="114" fill="#ffe400"/>
<rect x="94.5" y="6.8" width="2.5" height="114" fill="#ffff0d"/>
<rect x="97" y="6.8" width="1.6" height="114" fill="#ffe400"/>
<rect x="98.6" y="6.8" width="0.6" height="114" fill="#ff4200"/>
<rect x="99.2" y="6.8" width="1.2" height="114" fill="#9f0000"/>
<rect x="100.4" y="6.8" width="1.1" height="114" fill="#ff6f00"/>
<rect x="101.5" y="6.8" width="2.5" height="114" fill="#ffe400"/>
<rect x="104" y="6.8" width="0.9" height="114" fill="#ff4200"/>
<rect x="104.9" y="6.8" width="1.8" height="114" fill="#9f0000"/>
<rect x="106.7" y="6.8" width="0.9" height="114" fill="#ff4200"/>
<rect x="107.6" y="6.8" width="0.6" height="114" fill="#ffd200"/>
<rect x="108.2" y="6.8" width="0.8" height="114" fill="#ba0000"/>
<rect x="109" y="6.8" width="1.2" height="114" fill="#ffff35"/>
<rect x="110.2" y="6.8" width="1.8" height="114" fill="#ffffbc"/>
<rect x="112" y="6.8" width="2" height="114" fill="#ff8a00"/>
<rect x="114" y="6.8" width="1.2" height="114" fill="#ff3000"/>
<rect x="115.2" y="6.8" width="1.5" height="114" fill="#ffffd7"/>
<rect x="116.7" y="6.8" width="2" height="114" fill="#ffffff"/>
<rect x="118.7" y="6.8" width="2.7" height="114" fill="#ffffd7"/>
<rect x="121.4" y="6.8" width="1.7" height="114" fill="#ffff35"/>
<rect x="123.1" y="6.8" width="1.2" height="114" fill="#ffffd7"/>
<rect x="124.3" y="6.8" width="1.5" height="114" fill="#ffe400"/>
<rect x="125.8" y="6.8" width="2" height="114" fill="#8d0000"/>
<rect x="127.8" y="6.8" width="1.2" height="114" fill="#ff4200"/>
<rect x="129" y="6.8" width="1.8" height="114" fill="#ffe400"/>
<rect x="130.8" y="6.8" width="0.6" height="114" fill="#ff8a00"/>
<rect x="131.4" y="6.8" width="3.4" height="114" fill="#ffe400"/>
<rect x="134.8" y="6.8" width="0.9" height="114" fill="#ff4200"/>
<rect x="135.7" y="6.8" width="2.1" height="114" fill="#8d0000"/>
<rect x="137.8" y="6.8" width="1" height="114" fill="#ff4200"/>
<rect x="138.8" y="6.8" width="2.4" height="114" fill="#fff500"/>
<rect x="141.2" y="6.8" width="2.1" height="114" fill="#8d0000"/>
<rect x="143.3" y="6.8" width="0.9" height="114" fill="#ff4200"/>
<rect x="144.2" y="6.8" width="1.5" height="114" fill="#ffffff"/>
<rect x="145.7" y="6.8" width="2.1" height="114" fill="#ba0000"/>
<rect x="147.8" y="6.8" width="1.6" height="114" fill="#ffff35"/>
<rect x="149.4" y="6.8" width="0.8" height="114" fill="#ffffff"/>
<rect x="150.2" y="6.8" width="1.2" height="114" fill="#ff1100"/>
<rect x="151.4" y="6.8" width="1.6" height="114" fill="#ffff33"/>
<rect x="153" y="6.8" width="1.2" height="114" fill="#ff1100"/>
<rect x="154.2" y="6.8" width="0.6" height="114" fill="#ffff33"/>
<rect x="154.8" y="6.8" width="1.5" height="114" fill="#ffe400"/>
<rect x="156.3" y="6.8" width="2.1" height="114" fill="#ffff33"/>
<rect x="158.4" y="6.8" width="1.3" height="114" fill="#ff1f00"/>
<rect x="159.7" y="6.8" width="4.2" height="114" fill="#fff500"/>
<rect x="163.9" y="6.8" width="1.8" height="114" fill="#ee0000"/>
<rect x="152.5" y="6.8" width="2.2" height="114" fill="#ff1100"/>
<rect x="149.7" y="6.8" width="2.2" height="114" fill="#ff1100"/>
<rect x="157.9" y="6.8" width="2.3" height="114" fill="#ff1f00"/>
<rect x="163.4" y="6.8" width="2.8" height="114" fill="#ee0000"/>
<rect x="61.5" y="6.8" width="2.2" height="114" fill="#ff8a00"/>
<rect x="111.5" y="6.8" width="3" height="114" fill="#ff8a00"/>
<rect x="130.3" y="6.8" width="1.6" height="114" fill="#ff8a00"/>
<rect x="55.4" y="6.8" width="2.1" height="114" fill="#ff6f00"/>
<rect x="70.3" y="6.8" width="2.2" height="114" fill="#ff6f00"/>
<rect x="72.3" y="6.8" width="1.8" height="114" fill="#ff6f00"/>
<rect x="99.9" y="6.8" width="2.1" height="114" fill="#ff6f00"/>
<rect x="98.1" y="6.8" width="1.6" height="114" fill="#ff4200"/>
<rect x="103.5" y="6.8" width="1.9" height="114" fill="#ff4200"/>
<rect x="106.2" y="6.8" width="1.9" height="114" fill="#ff4200"/>
<rect x="127.3" y="6.8" width="2.2" height="114" fill="#ff4200"/>
<rect x="134.3" y="6.8" width="1.9" height="114" fill="#ff4200"/>
<rect x="137.3" y="6.8" width="2" height="114" fill="#ff4200"/>
<rect x="142.8" y="6.8" width="1.9" height="114" fill="#ff4200"/>
<rect x="63.6" y="6.8" width="1.9" height="114" fill="#ff3000"/>
<rect x="85.5" y="6.8" width="1.9" height="114" fill="#ff3000"/>
<rect x="88.1" y="6.8" width="1.9" height="114" fill="#ff3000"/>
<rect x="113.5" y="6.8" width="2.2" height="114" fill="#ff3000"/>
<rect x="47.4" y="6.8" width="1.9" height="114" fill="#ff1500"/>
<rect x="49.5" y="6.8" width="1.9" height="114" fill="#ff1500"/>
<rect x="60.3" y="6.8" width="2.2" height="114" fill="#ff1500"/>
<rect x="68.3" y="6.8" width="1.9" height="114" fill="#d50000"/>
<rect x="80.5" y="6.8" width="3" height="114" fill="#d50000"/>
<rect x="75.5" y="6.8" width="3" height="114" fill="#ba0000"/>
<rect x="90.8" y="6.8" width="2.7" height="114" fill="#ba0000"/>
<rect x="107.7" y="6.8" width="1.8" height="114" fill="#ba0000"/>
<rect x="145.2" y="6.8" width="3.1" height="114" fill="#ba0000"/>
<rect x="51.8" y="6.8" width="1.9" height="114" fill="#9f0000"/>
<rect x="62.7" y="6.8" width="1.9" height="114" fill="#9f0000"/>
<rect x="73.1" y="6.8" width="2.5" height="114" fill="#9f0000"/>
<rect x="98.7" y="6.8" width="2.2" height="114" fill="#9f0000"/>
<rect x="104.4" y="6.8" width="2.8" height="114" fill="#9f0000"/>
<rect x="48.3" y="6.8" width="2.2" height="114" fill="#8d0000"/>
<rect x="54.5" y="6.8" width="1.9" height="114" fill="#8d0000"/>
<rect x="69.2" y="6.8" width="2.1" height="114" fill="#8d0000"/>
<rect x="125.3" y="6.8" width="3" height="114" fill="#8d0000"/>
<rect x="135.2" y="6.8" width="3.1" height="114" fill="#8d0000"/>
<rect x="140.7" y="6.8" width="3.1" height="114" fill="#8d0000"/>
<rect x="86.4" y="6.8" width="2.7" height="114" fill="#7b0000"/>
<rect x="52.7" y="6.8" width="2.8" height="114" fill="#440000"/>
</g>
<g mask="url(#vma)">
<polygon points="153,100.8 154.2,100.8 155.2,119.8 152,119.8" fill="#be0000"/>
<polygon points="150.2,100.8 151.4,100.8 152.4,119.8 149.2,119.8" fill="#be0000"/>
<polygon points="158.4,100.8 159.7,100.8 160.7,119.8 157.4,119.8" fill="#cc0000"/>
<polygon points="163.9,100.8 165.7,100.8 166.7,119.8 162.9,119.8" fill="#9c0000"/>
<polygon points="62,100.8 63.2,100.8 64.2,119.8 61,119.8" fill="#ff7e00"/>
<polygon points="112,100.8 114,100.8 115,119.8 111,119.8" fill="#ff7e00"/>
<polygon points="130.8,100.8 131.4,100.8 132.4,119.8 129.8,119.8" fill="#ff7e00"/>
<polygon points="55.9,100.8 57,100.8 58,119.8 54.9,119.8" fill="#ff6900"/>
<polygon points="70.8,100.8 72,100.8 73,119.8 69.8,119.8" fill="#ff6900"/>
<polygon points="72.8,100.8 73.6,100.8 74.6,119.8 71.8,119.8" fill="#ff6900"/>
<polygon points="100.4,100.8 101.5,100.8 102.5,119.8 99.4,119.8" fill="#ff6900"/>
<polygon points="98.6,100.8 99.2,100.8 100.2,119.8 97.6,119.8" fill="#ff4700"/>
<polygon points="104,100.8 104.9,100.8 105.9,119.8 103,119.8" fill="#ff4700"/>
<polygon points="106.7,100.8 107.6,100.8 108.6,119.8 105.7,119.8" fill="#ff4700"/>
<polygon points="127.8,100.8 129,100.8 130,119.8 126.8,119.8" fill="#ff4700"/>
<polygon points="134.8,100.8 135.7,100.8 136.7,119.8 133.8,119.8" fill="#ff4700"/>
<polygon points="137.8,100.8 138.8,100.8 139.8,119.8 136.8,119.8" fill="#ff4700"/>
<polygon points="143.3,100.8 144.2,100.8 145.2,119.8 142.3,119.8" fill="#ff4700"/>
<polygon points="64.1,100.8 65,100.8 66,119.8 63.1,119.8" fill="#ff3a00"/>
<polygon points="86,100.8 86.9,100.8 87.9,119.8 85,119.8" fill="#ff3a00"/>
<polygon points="88.6,100.8 89.5,100.8 90.5,119.8 87.6,119.8" fill="#ff3a00"/>
<polygon points="114,100.8 115.2,100.8 116.2,119.8 113,119.8" fill="#ff3a00"/>
<polygon points="47.9,100.8 48.8,100.8 49.8,119.8 46.9,119.8" fill="#ff2500"/>
<polygon points="50,100.8 50.9,100.8 51.9,119.8 49,119.8" fill="#ff2500"/>
<polygon points="60.8,100.8 62,100.8 63,119.8 59.8,119.8" fill="#ff2500"/>
<polygon points="68.8,100.8 69.7,100.8 70.7,119.8 67.8,119.8" fill="#f50000"/>
<polygon points="81,100.8 83,100.8 84,119.8 80,119.8" fill="#f50000"/>
<polygon points="76,100.8 78,100.8 79,119.8 75,119.8" fill="#e00000"/>
<polygon points="91.3,100.8 93,100.8 94,119.8 90.3,119.8" fill="#e00000"/>
<polygon points="108.2,100.8 109,100.8 110,119.8 107.2,119.8" fill="#e00000"/>
<polygon points="145.7,100.8 147.8,100.8 148.8,119.8 144.7,119.8" fill="#e00000"/>
<polygon points="52.3,100.8 53.2,100.8 54.2,119.8 51.3,119.8" fill="#cc0000"/>
<polygon points="63.2,100.8 64.1,100.8 65.1,119.8 62.2,119.8" fill="#cc0000"/>
<polygon points="73.6,100.8 75.1,100.8 76.1,119.8 72.6,119.8" fill="#cc0000"/>
<polygon points="99.2,100.8 100.4,100.8 101.4,119.8 98.2,119.8" fill="#cc0000"/>
<polygon points="104.9,100.8 106.7,100.8 107.7,119.8 103.9,119.8" fill="#cc0000"/>
<polygon points="48.8,100.8 50,100.8 51,119.8 47.8,119.8" fill="#be0000"/>
<polygon points="55,100.8 55.9,100.8 56.9,119.8 54,119.8" fill="#be0000"/>
<polygon points="69.7,100.8 70.8,100.8 71.8,119.8 68.7,119.8" fill="#be0000"/>
<polygon points="125.8,100.8 127.8,100.8 128.8,119.8 124.8,119.8" fill="#be0000"/>
<polygon points="135.7,100.8 137.8,100.8 138.8,119.8 134.7,119.8" fill="#be0000"/>
<polygon points="141.2,100.8 143.3,100.8 144.3,119.8 140.2,119.8" fill="#be0000"/>
<polygon points="86.9,100.8 88.6,100.8 89.6,119.8 85.9,119.8" fill="#b10000"/>
<polygon points="53.2,100.8 55,100.8 56,119.8 52.2,119.8" fill="#440000"/>
</g>
<g mask="url(#bma)">
<rect x="40.2" y="111.8" width="2.3" height="9" fill="#ff3300"/>
<rect x="42.1" y="111.8" width="1.3" height="9" fill="#ffa700"/>
<rect x="43" y="111.8" width="2.2" height="9" fill="#ff5c00"/>
<rect x="44.8" y="111.8" width="1.6" height="9" fill="#ffb400"/>
<rect x="46" y="111.8" width="2.1" height="9" fill="#ffc900"/>
<rect x="47.7" y="111.8" width="1.3" height="9" fill="#960000"/>
<rect x="48.6" y="111.8" width="1.6" height="9" fill="#300000"/>
<rect x="49.8" y="111.8" width="1.3" height="9" fill="#960000"/>
<rect x="50.7" y="111.8" width="1.8" height="9" fill="#ff2500"/>
<rect x="52.1" y="111.8" width="1.3" height="9" fill="#3d0000"/>
<rect x="53" y="111.8" width="2.2" height="9" fill="#220000"/>
<rect x="54.8" y="111.8" width="1.3" height="9" fill="#300000"/>
<rect x="55.7" y="111.8" width="1.5" height="9" fill="#da0000"/>
<rect x="56.8" y="111.8" width="1.9" height="9" fill="#ff3300"/>
<rect x="58.3" y="111.8" width="1.9" height="9" fill="#ffa700"/>
<rect x="59.8" y="111.8" width="1.2" height="9" fill="#ff3300"/>
<rect x="60.6" y="111.8" width="1.6" height="9" fill="#960000"/>
<rect x="61.8" y="111.8" width="1.6" height="9" fill="#ee0000"/>
<rect x="63" y="111.8" width="1.3" height="9" fill="#3d0000"/>
<rect x="63.9" y="111.8" width="1.3" height="9" fill="#aa0000"/>
<rect x="64.8" y="111.8" width="1.5" height="9" fill="#ff2c00"/>
<rect x="65.9" y="111.8" width="3.1" height="9" fill="#ffa700"/>
<rect x="68.6" y="111.8" width="1.3" height="9" fill="#660000"/>
<rect x="69.5" y="111.8" width="1.5" height="9" fill="#300000"/>
<rect x="70.6" y="111.8" width="1.6" height="9" fill="#da0000"/>
<rect x="71.8" y="111.8" width="1.2" height="9" fill="#ffc200"/>
<rect x="72.6" y="111.8" width="1.2" height="9" fill="#da0000"/>
<rect x="73.4" y="111.8" width="1.9" height="9" fill="#3d0000"/>
<rect x="74.9" y="111.8" width="1.3" height="9" fill="#ff1f00"/>
<rect x="75.8" y="111.8" width="2.4" height="9" fill="#520000"/>
<rect x="77.8" y="111.8" width="1.6" height="9" fill="#ffb400"/>
<rect x="79" y="111.8" width="2.2" height="9" fill="#ff3300"/>
<rect x="80.8" y="111.8" width="2.4" height="9" fill="#660000"/>
<rect x="82.8" y="111.8" width="1.9" height="9" fill="#ffb400"/>
<rect x="84.3" y="111.8" width="1.9" height="9" fill="#ff3300"/>
<rect x="85.8" y="111.8" width="1.3" height="9" fill="#aa0000"/>
<rect x="86.7" y="111.8" width="2.1" height="9" fill="#220000"/>
<rect x="88.4" y="111.8" width="1.3" height="9" fill="#aa0000"/>
<rect x="89.3" y="111.8" width="1.6" height="9" fill="#ffc200"/>
<rect x="90.5" y="111.8" width="1" height="9" fill="#ff3300"/>
<rect x="91.1" y="111.8" width="2.1" height="9" fill="#520000"/>
<rect x="92.8" y="111.8" width="1.9" height="9" fill="#ff3300"/>
<rect x="94.3" y="111.8" width="2.9" height="9" fill="#ff4e00"/>
<rect x="96.8" y="111.8" width="2" height="9" fill="#ff3300"/>
<rect x="98.4" y="111.8" width="1" height="9" fill="#b80000"/>
<rect x="99" y="111.8" width="1.6" height="9" fill="#3d0000"/>
<rect x="100.2" y="111.8" width="1.5" height="9" fill="#da0000"/>
<rect x="101.3" y="111.8" width="2.9" height="9" fill="#ff3300"/>
<rect x="103.8" y="111.8" width="1.3" height="9" fill="#b80000"/>
<rect x="104.7" y="111.8" width="2.2" height="9" fill="#3d0000"/>
<rect x="106.5" y="111.8" width="1.3" height="9" fill="#b80000"/>
<rect x="107.4" y="111.8" width="1" height="9" fill="#ff2500"/>
<rect x="108" y="111.8" width="1.2" height="9" fill="#520000"/>
<rect x="108.8" y="111.8" width="1.6" height="9" fill="#ff6300"/>
<rect x="110" y="111.8" width="2.2" height="9" fill="#ffa700"/>
<rect x="111.8" y="111.8" width="2.4" height="9" fill="#ee0000"/>
<rect x="113.8" y="111.8" width="1.6" height="9" fill="#aa0000"/>
<rect x="115" y="111.8" width="1.9" height="9" fill="#ffb400"/>
<rect x="116.5" y="111.8" width="2.4" height="9" fill="#ffc900"/>
<rect x="118.5" y="111.8" width="3.1" height="9" fill="#ffb400"/>
<rect x="121.2" y="111.8" width="2.1" height="9" fill="#ff6300"/>
<rect x="122.9" y="111.8" width="1.6" height="9" fill="#ffb400"/>
<rect x="124.1" y="111.8" width="1.9" height="9" fill="#ff3300"/>
<rect x="125.6" y="111.8" width="2.4" height="9" fill="#300000"/>
<rect x="127.6" y="111.8" width="1.6" height="9" fill="#b80000"/>
<rect x="128.8" y="111.8" width="2.2" height="9" fill="#ff3300"/>
<rect x="130.6" y="111.8" width="1" height="9" fill="#ee0000"/>
<rect x="131.2" y="111.8" width="3.8" height="9" fill="#ff3300"/>
<rect x="134.6" y="111.8" width="1.3" height="9" fill="#b80000"/>
<rect x="135.5" y="111.8" width="2.5" height="9" fill="#300000"/>
<rect x="137.6" y="111.8" width="1.4" height="9" fill="#b80000"/>
<rect x="138.6" y="111.8" width="2.8" height="9" fill="#ff4100"/>
<rect x="141" y="111.8" width="2.5" height="9" fill="#300000"/>
<rect x="143.1" y="111.8" width="1.3" height="9" fill="#b80000"/>
<rect x="144" y="111.8" width="1.9" height="9" fill="#ffc900"/>
<rect x="145.5" y="111.8" width="2.5" height="9" fill="#520000"/>
<rect x="147.6" y="111.8" width="2" height="9" fill="#ff6300"/>
<rect x="149.2" y="111.8" width="1.2" height="9" fill="#ffc900"/>
<rect x="150" y="111.8" width="1.6" height="9" fill="#300000"/>
<rect x="151.2" y="111.8" width="2" height="9" fill="#ff4100"/>
<rect x="152.8" y="111.8" width="1.6" height="9" fill="#300000"/>
<rect x="154" y="111.8" width="1" height="9" fill="#ff4100"/>
<rect x="154.6" y="111.8" width="1.9" height="9" fill="#ff3300"/>
<rect x="156.1" y="111.8" width="2.5" height="9" fill="#ff4100"/>
<rect x="158.2" y="111.8" width="1.7" height="9" fill="#3d0000"/>
<rect x="159.5" y="111.8" width="4.6" height="9" fill="#ff4100"/>
<rect x="163.7" y="111.8" width="2.2" height="9" fill="#220000"/>
</g>
</g></g>
<rect x="160.7" y="8.8" width="3.5" height="110" fill="url(#cb1)"/>
<g clip-path="url(#clipb)"><g filter="url(#blur1)">
<rect x="220.9" y="6.8" width="129.1" height="114" fill="#ffff33"/>
<rect x="222.9" y="6.8" width="1" height="114" fill="#ffffff"/>
<rect x="223.9" y="6.8" width="2.1" height="114" fill="#ffff1f"/>
<rect x="226" y="6.8" width="2.9" height="114" fill="#ffffff"/>
<rect x="228.9" y="6.8" width="0.9" height="114" fill="#ffcf00"/>
<rect x="229.8" y="6.8" width="2.1" height="114" fill="#ff3300"/>
<rect x="231.9" y="6.8" width="0.6" height="114" fill="#ff9900"/>
<rect x="232.5" y="6.8" width="1.1" height="114" fill="#ffff33"/>
<rect x="233.6" y="6.8" width="1.5" height="114" fill="#ff9900"/>
<rect x="235.1" y="6.8" width="1.2" height="114" fill="#ffdd00"/>
<rect x="236.3" y="6.8" width="1.7" height="114" fill="#ffffcc"/>
<rect x="238" y="6.8" width="2.1" height="114" fill="#ffff0a"/>
<rect x="240.1" y="6.8" width="1.7" height="114" fill="#ffffff"/>
<rect x="241.8" y="6.8" width="2.1" height="114" fill="#ffbb00"/>
<rect x="243.9" y="6.8" width="1.8" height="114" fill="#ffffff"/>
<rect x="245.7" y="6.8" width="1.7" height="114" fill="#ffc200"/>
<rect x="247.4" y="6.8" width="2.1" height="114" fill="#ffffff"/>
<rect x="249.5" y="6.8" width="1.5" height="114" fill="#ff9900"/>
<rect x="251" y="6.8" width="1.9" height="114" fill="#ffffe0"/>
<rect x="252.9" y="6.8" width="1.7" height="114" fill="#ffbb00"/>
<rect x="254.6" y="6.8" width="1.5" height="114" fill="#ffffe0"/>
<rect x="256.1" y="6.8" width="2.4" height="114" fill="#ffff14"/>
<rect x="258.5" y="6.8" width="2.3" height="114" fill="#ffffff"/>
<rect x="260.8" y="6.8" width="2.1" height="114" fill="#ffff1f"/>
<rect x="262.9" y="6.8" width="2.9" height="114" fill="#fffff5"/>
<rect x="265.8" y="6.8" width="2.1" height="114" fill="#ff9900"/>
<rect x="267.9" y="6.8" width="0.8" height="114" fill="#ffff47"/>
<rect x="268.7" y="6.8" width="3.6" height="114" fill="#ffffff"/>
<rect x="272.3" y="6.8" width="2.3" height="114" fill="url(#sg8)"/>
<rect x="274.6" y="6.8" width="4.4" height="114" fill="#ffffff"/>
<rect x="279" y="6.8" width="2.4" height="114" fill="#ffff5c"/>
<rect x="281.4" y="6.8" width="1" height="114" fill="#ffffff"/>
<rect x="282.4" y="6.8" width="2.4" height="114" fill="#ff3a00"/>
<rect x="284.8" y="6.8" width="0.8" height="114" fill="#ffcf00"/>
<rect x="285.6" y="6.8" width="3" height="114" fill="#ffffff"/>
<rect x="288.6" y="6.8" width="2.6" height="114" fill="#ffff14"/>
<rect x="291.2" y="6.8" width="1.5" height="114" fill="#ffffff"/>
<rect x="292.7" y="6.8" width="1.5" height="114" fill="#ffff33"/>
<rect x="294.2" y="6.8" width="8.5" height="114" fill="#ffffff"/>
<rect x="302.7" y="6.8" width="2" height="114" fill="#ff8500"/>
<rect x="304.7" y="6.8" width="1.8" height="114" fill="#ffff33"/>
<rect x="306.5" y="6.8" width="1.2" height="114" fill="#ffffe0"/>
<rect x="307.7" y="6.8" width="1.7" height="114" fill="#ffff33"/>
<rect x="309.4" y="6.8" width="0.9" height="114" fill="#ffffe0"/>
<rect x="310.3" y="6.8" width="2.1" height="114" fill="#ff5500"/>
<rect x="312.4" y="6.8" width="1.1" height="114" fill="#ffcf00"/>
<rect x="313.5" y="6.8" width="1.8" height="114" fill="#ffffcc"/>
<rect x="315.3" y="6.8" width="1.6" height="114" fill="#ffff33"/>
<rect x="316.9" y="6.8" width="1.6" height="114" fill="#ffffe0"/>
<rect x="318.5" y="6.8" width="2.6" height="114" fill="#ff7700"/>
<rect x="321.1" y="6.8" width="3.2" height="114" fill="#ffffff"/>
<rect x="324.3" y="6.8" width="2.2" height="114" fill="#ffff66"/>
<rect x="326.5" y="6.8" width="1.3" height="114" fill="#ffffff"/>
<rect x="327.8" y="6.8" width="2.2" height="114" fill="#ffff1f"/>
<rect x="330" y="6.8" width="1.7" height="114" fill="#ffffff"/>
<rect x="331.7" y="6.8" width="2.2" height="114" fill="#ffff1f"/>
<rect x="333.9" y="6.8" width="2.3" height="114" fill="#ffffe0"/>
<rect x="336.2" y="6.8" width="2.8" height="114" fill="#ff1f00"/>
<rect x="339" y="6.8" width="1.3" height="114" fill="#ffff14"/>
<rect x="340.3" y="6.8" width="1.3" height="114" fill="#ffffcc"/>
<rect x="341.6" y="6.8" width="6.4" height="114" fill="#ffff33"/>
<g mask="url(#maskb)">
<rect x="222.9" y="6.8" width="1" height="114" fill="#ffffff"/>
<rect x="223.9" y="6.8" width="2.1" height="114" fill="#ffe400"/>
<rect x="226" y="6.8" width="2.9" height="114" fill="#ffffff"/>
<rect x="228.9" y="6.8" width="0.9" height="114" fill="#ff8a00"/>
<rect x="229.8" y="6.8" width="2.1" height="114" fill="#ba0000"/>
<rect x="231.9" y="6.8" width="0.6" height="114" fill="#ff4200"/>
<rect x="232.5" y="6.8" width="1.1" height="114" fill="#fff500"/>
<rect x="233.6" y="6.8" width="1.5" height="114" fill="#ff4200"/>
<rect x="235.1" y="6.8" width="1.2" height="114" fill="#ff9c00"/>
<rect x="236.3" y="6.8" width="1.7" height="114" fill="#ffffbc"/>
<rect x="238" y="6.8" width="2.1" height="114" fill="#ffd200"/>
<rect x="240.1" y="6.8" width="1.7" height="114" fill="#ffffff"/>
<rect x="241.8" y="6.8" width="2.1" height="114" fill="#ff6f00"/>
<rect x="243.9" y="6.8" width="1.8" height="114" fill="#ffffff"/>
<rect x="245.7" y="6.8" width="1.7" height="114" fill="#ff7800"/>
<rect x="247.4" y="6.8" width="2.1" height="114" fill="#ffffff"/>
<rect x="249.5" y="6.8" width="1.5" height="114" fill="#ff4200"/>
<rect x="251" y="6.8" width="1.9" height="114" fill="#ffffd7"/>
<rect x="252.9" y="6.8" width="1.7" height="114" fill="#ff6f00"/>
<rect x="254.6" y="6.8" width="1.5" height="114" fill="#ffffd7"/>
<rect x="256.1" y="6.8" width="2.4" height="114" fill="#ffdb00"/>
<rect x="258.5" y="6.8" width="2.3" height="114" fill="#ffffff"/>
<rect x="260.8" y="6.8" width="2.1" height="114" fill="#ffe400"/>
<rect x="262.9" y="6.8" width="2.9" height="114" fill="#fffff2"/>
<rect x="265.8" y="6.8" width="2.1" height="114" fill="#ff4200"/>
<rect x="267.9" y="6.8" width="0.8" height="114" fill="#ffff0d"/>
<rect x="268.7" y="6.8" width="3.6" height="114" fill="#ffffff"/>
<rect x="272.3" y="6.8" width="2.3" height="114" fill="#ffff1f"/>
<rect x="274.6" y="6.8" width="4.4" height="114" fill="#ffffff"/>
<rect x="279" y="6.8" width="2.4" height="114" fill="#ffff28"/>
<rect x="281.4" y="6.8" width="1" height="114" fill="#ffffff"/>
<rect x="282.4" y="6.8" width="2.4" height="114" fill="#c30000"/>
<rect x="284.8" y="6.8" width="0.8" height="114" fill="#ff8a00"/>
<rect x="285.6" y="6.8" width="3" height="114" fill="#ffffff"/>
<rect x="288.6" y="6.8" width="2.6" height="114" fill="#ffdb00"/>
<rect x="291.2" y="6.8" width="1.5" height="114" fill="#ffffff"/>
<rect x="292.7" y="6.8" width="1.5" height="114" fill="#fff500"/>
<rect x="294.2" y="6.8" width="8.5" height="114" fill="#ffffff"/>
<rect x="302.7" y="6.8" width="2" height="114" fill="#ff2700"/>
<rect x="304.7" y="6.8" width="1.8" height="114" fill="#fff500"/>
<rect x="306.5" y="6.8" width="1.2" height="114" fill="#ffffd7"/>
<rect x="307.7" y="6.8" width="1.7" height="114" fill="#fff500"/>
<rect x="309.4" y="6.8" width="0.9" height="114" fill="#ffffd7"/>
<rect x="310.3" y="6.8" width="2.1" height="114" fill="#e70000"/>
<rect x="312.4" y="6.8" width="1.1" height="114" fill="#ff8a00"/>
<rect x="313.5" y="6.8" width="1.8" height="114" fill="#ffffbc"/>
<rect x="315.3" y="6.8" width="1.6" height="114" fill="#fff500"/>
<rect x="316.9" y="6.8" width="1.6" height="114" fill="#ffffd7"/>
<rect x="318.5" y="6.8" width="2.6" height="114" fill="#ff1500"/>
<rect x="321.1" y="6.8" width="3.2" height="114" fill="#ffffff"/>
<rect x="324.3" y="6.8" width="2.2" height="114" fill="#ffff35"/>
<rect x="326.5" y="6.8" width="1.3" height="114" fill="#ffffff"/>
<rect x="327.8" y="6.8" width="2.2" height="114" fill="#ffe400"/>
<rect x="330" y="6.8" width="1.7" height="114" fill="#ffffff"/>
<rect x="331.7" y="6.8" width="2.2" height="114" fill="#ffe400"/>
<rect x="333.9" y="6.8" width="2.3" height="114" fill="#ffffd7"/>
<rect x="336.2" y="6.8" width="2.8" height="114" fill="#9f0000"/>
<rect x="339" y="6.8" width="1.3" height="114" fill="#ffdb00"/>
<rect x="340.3" y="6.8" width="1.3" height="114" fill="#ffffbc"/>
<rect x="341.6" y="6.8" width="6.4" height="114" fill="#fff500"/>
<rect x="234.6" y="6.8" width="2.2" height="114" fill="#ff9c00"/>
<rect x="228.4" y="6.8" width="1.9" height="114" fill="#ff8a00"/>
<rect x="284.3" y="6.8" width="1.8" height="114" fill="#ff8a00"/>
<rect x="311.9" y="6.8" width="2.1" height="114" fill="#ff8a00"/>
<rect x="245.2" y="6.8" width="2.7" height="114" fill="#ff7800"/>
<rect x="241.3" y="6.8" width="3.1" height="114" fill="#ff6f00"/>
<rect x="252.4" y="6.8" width="2.7" height="114" fill="#ff6f00"/>
<rect x="231.4" y="6.8" width="1.6" height="114" fill="#ff4200"/>
<rect x="233.1" y="6.8" width="2.5" height="114" fill="#ff4200"/>
<rect x="249" y="6.8" width="2.5" height="114" fill="#ff4200"/>
<rect x="265.3" y="6.8" width="3.1" height="114" fill="#ff4200"/>
<rect x="302.2" y="6.8" width="3" height="114" fill="#ff2700"/>
<rect x="318" y="6.8" width="3.6" height="114" fill="#ff1500"/>
<rect x="309.8" y="6.8" width="3.1" height="114" fill="#e70000"/>
<rect x="281.9" y="6.8" width="3.4" height="114" fill="#c30000"/>
<rect x="229.3" y="6.8" width="3.1" height="114" fill="#ba0000"/>
<rect x="335.7" y="6.8" width="3.8" height="114" fill="#9f0000"/>
</g>
<g mask="url(#vmb)">
<polygon points="235.1,100.8 236.3,100.8 237.3,119.8 234.1,119.8" fill="#ff8b00"/>
<polygon points="228.9,100.8 229.8,100.8 230.8,119.8 227.9,119.8" fill="#ff7e00"/>
<polygon points="284.8,100.8 285.6,100.8 286.6,119.8 283.8,119.8" fill="#ff7e00"/>
<polygon points="312.4,100.8 313.5,100.8 314.5,119.8 311.4,119.8" fill="#ff7e00"/>
<polygon points="245.7,100.8 247.4,100.8 248.4,119.8 244.7,119.8" fill="#ff7000"/>
<polygon points="241.8,100.8 243.9,100.8 244.9,119.8 240.8,119.8" fill="#ff6900"/>
<polygon points="252.9,100.8 254.6,100.8 255.6,119.8 251.9,119.8" fill="#ff6900"/>
<polygon points="231.9,100.8 232.5,100.8 233.5,119.8 230.9,119.8" fill="#ff4700"/>
<polygon points="233.6,100.8 235.1,100.8 236.1,119.8 232.6,119.8" fill="#ff4700"/>
<polygon points="249.5,100.8 251,100.8 252,119.8 248.5,119.8" fill="#ff4700"/>
<polygon points="265.8,100.8 267.9,100.8 268.9,119.8 264.8,119.8" fill="#ff4700"/>
<polygon points="302.7,100.8 304.7,100.8 305.7,119.8 301.7,119.8" fill="#ff3300"/>
<polygon points="318.5,100.8 321.1,100.8 322.1,119.8 317.5,119.8" fill="#ff2500"/>
<polygon points="310.3,100.8 312.4,100.8 313.4,119.8 309.3,119.8" fill="#ff0300"/>
<polygon points="282.4,100.8 284.8,100.8 285.8,119.8 281.4,119.8" fill="#e70000"/>
<polygon points="229.8,100.8 231.9,100.8 232.9,119.8 228.8,119.8" fill="#e00000"/>
<polygon points="336.2,100.8 339,100.8 340,119.8 335.2,119.8" fill="#cc0000"/>
</g>
<g mask="url(#bmb)">
<rect x="222.7" y="111.8" width="1.4" height="9" fill="#ffc900"/>
<rect x="223.7" y="111.8" width="2.5" height="9" fill="#ff3300"/>
<rect x="225.8" y="111.8" width="3.3" height="9" fill="#ffc900"/>
<rect x="228.7" y="111.8" width="1.3" height="9" fill="#ee0000"/>
<rect x="229.6" y="111.8" width="2.5" height="9" fill="#520000"/>
<rect x="231.7" y="111.8" width="1" height="9" fill="#b80000"/>
<rect x="232.3" y="111.8" width="1.5" height="9" fill="#ff4100"/>
<rect x="233.4" y="111.8" width="1.9" height="9" fill="#b80000"/>
<rect x="234.9" y="111.8" width="1.6" height="9" fill="#fc0000"/>
<rect x="236.1" y="111.8" width="2.1" height="9" fill="#ffa700"/>
<rect x="237.8" y="111.8" width="2.5" height="9" fill="#ff2500"/>
<rect x="239.9" y="111.8" width="2.1" height="9" fill="#ffc900"/>
<rect x="241.6" y="111.8" width="2.5" height="9" fill="#da0000"/>
<rect x="243.7" y="111.8" width="2.2" height="9" fill="#ffc900"/>
<rect x="245.5" y="111.8" width="2.1" height="9" fill="#e00000"/>
<rect x="247.2" y="111.8" width="2.5" height="9" fill="#ffc900"/>
<rect x="249.3" y="111.8" width="1.9" height="9" fill="#b80000"/>
<rect x="250.8" y="111.8" width="2.3" height="9" fill="#ffb400"/>
<rect x="252.7" y="111.8" width="2.1" height="9" fill="#da0000"/>
<rect x="254.4" y="111.8" width="1.9" height="9" fill="#ffb400"/>
<rect x="255.9" y="111.8" width="2.8" height="9" fill="#ff2c00"/>
<rect x="258.3" y="111.8" width="2.7" height="9" fill="#ffc900"/>
<rect x="260.6" y="111.8" width="2.5" height="9" fill="#ff3300"/>
<rect x="262.7" y="111.8" width="3.3" height="9" fill="#ffc200"/>
<rect x="265.6" y="111.8" width="2.5" height="9" fill="#b80000"/>
<rect x="267.7" y="111.8" width="1.2" height="9" fill="#ff4e00"/>
<rect x="268.5" y="111.8" width="4" height="9" fill="#ffc900"/>
<rect x="272.1" y="111.8" width="2.7" height="9" fill="#ff3300"/>
<rect x="274.4" y="111.8" width="4.8" height="9" fill="#ffc900"/>
<rect x="278.8" y="111.8" width="2.8" height="9" fill="#ff5c00"/>
<rect x="281.2" y="111.8" width="1.4" height="9" fill="#ffc900"/>
<rect x="282.2" y="111.8" width="2.8" height="9" fill="#580000"/>
<rect x="284.6" y="111.8" width="1.2" height="9" fill="#ee0000"/>
<rect x="285.4" y="111.8" width="3.4" height="9" fill="#ffc900"/>
<rect x="288.4" y="111.8" width="3" height="9" fill="#ff2c00"/>
<rect x="291" y="111.8" width="1.9" height="9" fill="#ffc900"/>
<rect x="292.5" y="111.8" width="1.9" height="9" fill="#ff4100"/>
<rect x="294" y="111.8" width="8.9" height="9" fill="#ffc900"/>
<rect x="302.5" y="111.8" width="2.4" height="9" fill="#a30000"/>
<rect x="304.5" y="111.8" width="2.2" height="9" fill="#ff4100"/>
<rect x="306.3" y="111.8" width="1.6" height="9" fill="#ffb400"/>
<rect x="307.5" y="111.8" width="2.1" height="9" fill="#ff4100"/>
<rect x="309.2" y="111.8" width="1.3" height="9" fill="#ffb400"/>
<rect x="310.1" y="111.8" width="2.5" height="9" fill="#740000"/>
<rect x="312.2" y="111.8" width="1.5" height="9" fill="#ee0000"/>
<rect x="313.3" y="111.8" width="2.2" height="9" fill="#ffa700"/>
<rect x="315.1" y="111.8" width="2" height="9" fill="#ff4100"/>
<rect x="316.7" y="111.8" width="2" height="9" fill="#ffb400"/>
<rect x="318.3" y="111.8" width="3" height="9" fill="#960000"/>
<rect x="320.9" y="111.8" width="3.6" height="9" fill="#ffc900"/>
<rect x="324.1" y="111.8" width="2.6" height="9" fill="#ff6300"/>
<rect x="326.3" y="111.8" width="1.7" height="9" fill="#ffc900"/>
<rect x="327.6" y="111.8" width="2.6" height="9" fill="#ff3300"/>
<rect x="329.8" y="111.8" width="2.1" height="9" fill="#ffc900"/>
<rect x="331.5" y="111.8" width="2.6" height="9" fill="#ff3300"/>
<rect x="333.7" y="111.8" width="2.7" height="9" fill="#ffb400"/>
<rect x="336" y="111.8" width="3.2" height="9" fill="#3d0000"/>
<rect x="338.8" y="111.8" width="1.7" height="9" fill="#ff2c00"/>
<rect x="340.1" y="111.8" width="1.7" height="9" fill="#ffa700"/>
<rect x="341.4" y="111.8" width="6.8" height="9" fill="#ff4100"/>
</g>
</g></g>
<rect x="342.8" y="8.8" width="3.7" height="110" fill="url(#cb2)"/>
<g clip-path="url(#clipc)"><g filter="url(#blur1)">
<rect x="402.8" y="6.3" width="129.2" height="114" fill="#ffff33"/>
<rect x="404.8" y="6.3" width="1.2" height="114" fill="#ff6300"/>
<rect x="405.6" y="6.3" width="2.1" height="114" fill="#ffff14"/>
<rect x="407.7" y="6.3" width="2.9" height="114" fill="#ffffc2"/>
<rect x="410.6" y="6.3" width="1.5" height="114" fill="#ff8b00"/>
<rect x="412.1" y="6.3" width="1.2" height="114" fill="#ffffcc"/>
<rect x="413.3" y="6.3" width="2.3" height="114" fill="#ffffff"/>
<rect x="415.6" y="6.3" width="2.1" height="114" fill="#ffff33"/>
<rect x="417.7" y="6.3" width="2.3" height="114" fill="#ffffff"/>
<rect x="420" y="6.3" width="0.6" height="114" fill="#ffff1f"/>
<rect x="420.6" y="6.3" width="1.5" height="114" fill="#ff1f00"/>
<rect x="422.1" y="6.3" width="2" height="114" fill="#ffff1f"/>
<rect x="424.1" y="6.3" width="2.7" height="114" fill="#ff1100"/>
<rect x="426.8" y="6.3" width="0.9" height="114" fill="#ff9900"/>
<rect x="427.7" y="6.3" width="2" height="114" fill="#ffffcc"/>
<rect x="429.7" y="6.3" width="2.7" height="114" fill="#ff6300"/>
<rect x="432.4" y="6.3" width="0.8" height="114" fill="#ffcf00"/>
<rect x="433.2" y="6.3" width="3.1" height="114" fill="#ffffe0"/>
<rect x="436.3" y="6.3" width="1.2" height="114" fill="#ff9900"/>
<rect x="437.5" y="6.3" width="2.4" height="114" fill="#ff3300"/>
<rect x="439.9" y="6.3" width="2.3" height="114" fill="#ff1100"/>
<rect x="442.2" y="6.3" width="1.8" height="114" fill="#880000"/>
<rect x="444" y="6.3" width="0.9" height="114" fill="#ff1100"/>
<rect x="444.9" y="6.3" width="1.1" height="114" fill="#ffff1f"/>
<rect x="446" y="6.3" width="1.2" height="114" fill="#ffffcc"/>
<rect x="447.2" y="6.3" width="2.4" height="114" fill="#ff7700"/>
<rect x="449.6" y="6.3" width="1.1" height="114" fill="#ffff33"/>
<rect x="450.7" y="6.3" width="2.1" height="114" fill="#ff4700"/>
<rect x="452.8" y="6.3" width="0.9" height="114" fill="#ffff1f"/>
<rect x="453.7" y="6.3" width="2.6" height="114" fill="#ffffff"/>
<rect x="456.3" y="6.3" width="1.8" height="114" fill="#ffffe0"/>
<rect x="458.1" y="6.3" width="0.9" height="114" fill="#ffff1f"/>
<rect x="459" y="6.3" width="0.8" height="114" fill="#ff9900"/>
<rect x="459.8" y="6.3" width="3.6" height="114" fill="#ff1100"/>
<rect x="463.4" y="6.3" width="0.8" height="114" fill="#ff9900"/>
<rect x="464.2" y="6.3" width="0.8" height="114" fill="#ffff14"/>
<rect x="465" y="6.3" width="2.3" height="114" fill="#ffbb00"/>
<rect x="467.3" y="6.3" width="1.2" height="114" fill="#ffff1f"/>
<rect x="468.5" y="6.3" width="0.9" height="114" fill="#ff9900"/>
<rect x="469.4" y="6.3" width="2.4" height="114" fill="#ffff1f"/>
<rect x="471.8" y="6.3" width="1.7" height="114" fill="#ffffff"/>
<rect x="473.5" y="6.3" width="0.9" height="114" fill="#ffff1f"/>
<rect x="474.4" y="6.3" width="2.1" height="114" fill="#ffbb00"/>
<rect x="476.5" y="6.3" width="1.4" height="114" fill="#ff1f00"/>
<rect x="477.9" y="6.3" width="1.5" height="114" fill="#fffff5"/>
<rect x="479.4" y="6.3" width="1.6" height="114" fill="#ffff1f"/>
<rect x="481" y="6.3" width="2" height="114" fill="#ffffb8"/>
<rect x="483" y="6.3" width="3" height="114" fill="#ffff1f"/>
<rect x="486" y="6.3" width="1.9" height="114" fill="#ffff66"/>
<rect x="487.9" y="6.3" width="1.2" height="114" fill="#ffff1f"/>
<rect x="489.1" y="6.3" width="4.1" height="114" fill="#fffff5"/>
<rect x="493.2" y="6.3" width="1.2" height="114" fill="#ffbb00"/>
<rect x="494.4" y="6.3" width="1.1" height="114" fill="#7a0000"/>
<rect x="495.5" y="6.3" width="1.5" height="114" fill="#ff3300"/>
<rect x="497" y="6.3" width="1.9" height="114" fill="#ffff33"/>
<rect x="498.9" y="6.3" width="1.9" height="114" fill="#ffffe0"/>
<rect x="500.8" y="6.3" width="1" height="114" fill="#ffff1f"/>
<rect x="501.8" y="6.3" width="1.3" height="114" fill="#ff1f00"/>
<rect x="503.1" y="6.3" width="1.9" height="114" fill="#ffff33"/>
<rect x="505" y="6.3" width="2.2" height="114" fill="#ff1100"/>
<rect x="507.2" y="6.3" width="1" height="114" fill="#ff9900"/>
<rect x="508.2" y="6.3" width="1.6" height="114" fill="#ffff1f"/>
<rect x="509.8" y="6.3" width="1.3" height="114" fill="#ff9900"/>
<rect x="511.1" y="6.3" width="1.6" height="114" fill="#ffff47"/>
<rect x="512.7" y="6.3" width="1.9" height="114" fill="#ff4700"/>
<rect x="514.6" y="6.3" width="2" height="114" fill="#ffff1f"/>
<rect x="516.6" y="6.3" width="1.9" height="114" fill="#ff8b00"/>
<rect x="518.5" y="6.3" width="1.3" height="114" fill="#ffff1f"/>
<rect x="519.8" y="6.3" width="1.6" height="114" fill="#ff3300"/>
<rect x="521.4" y="6.3" width="1.6" height="114" fill="#ffff1f"/>
<rect x="523" y="6.3" width="1.6" height="114" fill="#ff1f00"/>
<rect x="524.6" y="6.3" width="4.2" height="114" fill="#ffff33"/>
<rect x="528.8" y="6.3" width="1.2" height="114" fill="url(#sg9)"/>
<g mask="url(#maskc)">
<rect x="404.8" y="6.3" width="1.2" height="114" fill="#f90000"/>
<rect x="405.6" y="6.3" width="2.1" height="114" fill="#ffdb00"/>
<rect x="407.7" y="6.3" width="2.9" height="114" fill="#ffffae"/>
<rect x="410.6" y="6.3" width="1.5" height="114" fill="#ff3000"/>
<rect x="412.1" y="6.3" width="1.2" height="114" fill="#ffffbc"/>
<rect x="413.3" y="6.3" width="2.3" height="114" fill="#ffffff"/>
<rect x="415.6" y="6.3" width="2.1" height="114" fill="#fff500"/>
<rect x="417.7" y="6.3" width="2.3" height="114" fill="#ffffff"/>
<rect x="420" y="6.3" width="0.6" height="114" fill="#ffe400"/>
<rect x="420.6" y="6.3" width="1.5" height="114" fill="#9f0000"/>
<rect x="422.1" y="6.3" width="2" height="114" fill="#ffe400"/>
<rect x="424.1" y="6.3" width="2.7" height="114" fill="#8d0000"/>
<rect x="426.8" y="6.3" width="0.9" height="114" fill="#ff4200"/>
<rect x="427.7" y="6.3" width="2" height="114" fill="#ffffbc"/>
<rect x="429.7" y="6.3" width="2.7" height="114" fill="#f90000"/>
<rect x="432.4" y="6.3" width="0.8" height="114" fill="#ff8a00"/>
<rect x="433.2" y="6.3" width="3.1" height="114" fill="#ffffd7"/>
<rect x="436.3" y="6.3" width="1.2" height="114" fill="#ff4200"/>
<rect x="437.5" y="6.3" width="2.4" height="114" fill="#ba0000"/>
<rect x="439.9" y="6.3" width="2.3" height="114" fill="#8d0000"/>
<rect x="442.2" y="6.3" width="1.8" height="114" fill="#440000"/>
<rect x="444" y="6.3" width="0.9" height="114" fill="#8d0000"/>
<rect x="444.9" y="6.3" width="1.1" height="114" fill="#ffe400"/>
<rect x="446" y="6.3" width="1.2" height="114" fill="#ffffbc"/>
<rect x="447.2" y="6.3" width="2.4" height="114" fill="#ff1500"/>
<rect x="449.6" y="6.3" width="1.1" height="114" fill="#fff500"/>
<rect x="450.7" y="6.3" width="2.1" height="114" fill="#d50000"/>
<rect x="452.8" y="6.3" width="0.9" height="114" fill="#ffe400"/>
<rect x="453.7" y="6.3" width="2.6" height="114" fill="#ffffff"/>
<rect x="456.3" y="6.3" width="1.8" height="114" fill="#ffffd7"/>
<rect x="458.1" y="6.3" width="0.9" height="114" fill="#ffe400"/>
<rect x="459" y="6.3" width="0.8" height="114" fill="#ff4200"/>
<rect x="459.8" y="6.3" width="3.6" height="114" fill="#8d0000"/>
<rect x="463.4" y="6.3" width="0.8" height="114" fill="#ff4200"/>
<rect x="464.2" y="6.3" width="0.8" height="114" fill="#ffdb00"/>
<rect x="465" y="6.3" width="2.3" height="114" fill="#ff6f00"/>
<rect x="467.3" y="6.3" width="1.2" height="114" fill="#ffe400"/>
<rect x="468.5" y="6.3" width="0.9" height="114" fill="#ff4200"/>
<rect x="469.4" y="6.3" width="2.4" height="114" fill="#ffe400"/>
<rect x="471.8" y="6.3" width="1.7" height="114" fill="#ffffff"/>
<rect x="473.5" y="6.3" width="0.9" height="114" fill="#ffe400"/>
<rect x="474.4" y="6.3" width="2.1" height="114" fill="#ff6f00"/>
<rect x="476.5" y="6.3" width="1.4" height="114" fill="#9f0000"/>
<rect x="477.9" y="6.3" width="1.5" height="114" fill="#fffff2"/>
<rect x="479.4" y="6.3" width="1.6" height="114" fill="#ffe400"/>
<rect x="481" y="6.3" width="2" height="114" fill="#ffffa1"/>
<rect x="483" y="6.3" width="3" height="114" fill="#ffe400"/>
<rect x="486" y="6.3" width="1.9" height="114" fill="#ffff35"/>
<rect x="487.9" y="6.3" width="1.2" height="114" fill="#ffe400"/>
<rect x="489.1" y="6.3" width="4.1" height="114" fill="#fffff2"/>
<rect x="493.2" y="6.3" width="1.2" height="114" fill="#ff6f00"/>
<rect x="494.4" y="6.3" width="1.1" height="114" fill="#440000"/>
<rect x="495.5" y="6.3" width="1.5" height="114" fill="#ba0000"/>
<rect x="497" y="6.3" width="1.9" height="114" fill="#fff500"/>
<rect x="498.9" y="6.3" width="1.9" height="114" fill="#ffffd7"/>
<rect x="500.8" y="6.3" width="1" height="114" fill="#ffe400"/>
<rect x="501.8" y="6.3" width="1.3" height="114" fill="#9f0000"/>
<rect x="503.1" y="6.3" width="1.9" height="114" fill="#fff500"/>
<rect x="505" y="6.3" width="2.2" height="114" fill="#8d0000"/>
<rect x="507.2" y="6.3" width="1" height="114" fill="#ff4200"/>
<rect x="508.2" y="6.3" width="1.6" height="114" fill="#ffe400"/>
<rect x="509.8" y="6.3" width="1.3" height="114" fill="#ff4200"/>
<rect x="511.1" y="6.3" width="1.6" height="114" fill="#ffff0d"/>
<rect x="512.7" y="6.3" width="1.9" height="114" fill="#d50000"/>
<rect x="514.6" y="6.3" width="2" height="114" fill="#ffe400"/>
<rect x="516.6" y="6.3" width="1.9" height="114" fill="#ff3000"/>
<rect x="518.5" y="6.3" width="1.3" height="114" fill="#ffe400"/>
<rect x="519.8" y="6.3" width="1.6" height="114" fill="#ba0000"/>
<rect x="521.4" y="6.3" width="1.6" height="114" fill="#ffe400"/>
<rect x="523" y="6.3" width="1.6" height="114" fill="#9f0000"/>
<rect x="524.6" y="6.3" width="4.2" height="114" fill="#fff500"/>
<rect x="528.8" y="6.3" width="1.2" height="114" fill="#ee0000"/>
<rect x="528.3" y="6.3" width="2.2" height="114" fill="#ee0000"/>
<rect x="431.9" y="6.3" width="1.8" height="114" fill="#ff8a00"/>
<rect x="464.5" y="6.3" width="3.3" height="114" fill="#ff6f00"/>
<rect x="473.9" y="6.3" width="3.1" height="114" fill="#ff6f00"/>
<rect x="492.7" y="6.3" width="2.2" height="114" fill="#ff6f00"/>
<rect x="426.3" y="6.3" width="1.9" height="114" fill="#ff4200"/>
<rect x="435.8" y="6.3" width="2.2" height="114" fill="#ff4200"/>
<rect x="458.5" y="6.3" width="1.8" height="114" fill="#ff4200"/>
<rect x="462.9" y="6.3" width="1.8" height="114" fill="#ff4200"/>
<rect x="468" y="6.3" width="1.9" height="114" fill="#ff4200"/>
<rect x="506.7" y="6.3" width="2" height="114" fill="#ff4200"/>
<rect x="509.3" y="6.3" width="2.3" height="114" fill="#ff4200"/>
<rect x="410.1" y="6.3" width="2.5" height="114" fill="#ff3000"/>
<rect x="516.1" y="6.3" width="2.9" height="114" fill="#ff3000"/>
<rect x="446.7" y="6.3" width="3.4" height="114" fill="#ff1500"/>
<rect x="404.3" y="6.3" width="2.2" height="114" fill="#f90000"/>
<rect x="429.2" y="6.3" width="3.7" height="114" fill="#f90000"/>
<rect x="450.2" y="6.3" width="3.1" height="114" fill="#d50000"/>
<rect x="512.2" y="6.3" width="2.9" height="114" fill="#d50000"/>
<rect x="437" y="6.3" width="3.4" height="114" fill="#ba0000"/>
<rect x="495" y="6.3" width="2.5" height="114" fill="#ba0000"/>
<rect x="519.3" y="6.3" width="2.6" height="114" fill="#ba0000"/>
<rect x="420.1" y="6.3" width="2.5" height="114" fill="#9f0000"/>
<rect x="476" y="6.3" width="2.4" height="114" fill="#9f0000"/>
<rect x="501.3" y="6.3" width="2.3" height="114" fill="#9f0000"/>
<rect x="522.5" y="6.3" width="2.6" height="114" fill="#9f0000"/>
<rect x="423.6" y="6.3" width="3.7" height="114" fill="#8d0000"/>
<rect x="439.4" y="6.3" width="3.3" height="114" fill="#8d0000"/>
<rect x="443.5" y="6.3" width="1.9" height="114" fill="#8d0000"/>
<rect x="459.3" y="6.3" width="4.6" height="114" fill="#8d0000"/>
<rect x="504.5" y="6.3" width="3.2" height="114" fill="#8d0000"/>
<rect x="441.7" y="6.3" width="2.8" height="114" fill="#440000"/>
<rect x="493.9" y="6.3" width="2.1" height="114" fill="#440000"/>
</g>
<g mask="url(#vmc)">
<polygon points="528.8,100.3 530,100.3 531,119.3 527.8,119.3" fill="#9c0000"/>
<polygon points="432.4,100.3 433.2,100.3 434.2,119.3 431.4,119.3" fill="#ff7e00"/>
<polygon points="465,100.3 467.3,100.3 468.3,119.3 464,119.3" fill="#ff6900"/>
<polygon points="474.4,100.3 476.5,100.3 477.5,119.3 473.4,119.3" fill="#ff6900"/>
<polygon points="493.2,100.3 494.4,100.3 495.4,119.3 492.2,119.3" fill="#ff6900"/>
<polygon points="426.8,100.3 427.7,100.3 428.7,119.3 425.8,119.3" fill="#ff4700"/>
<polygon points="436.3,100.3 437.5,100.3 438.5,119.3 435.3,119.3" fill="#ff4700"/>
<polygon points="459,100.3 459.8,100.3 460.8,119.3 458,119.3" fill="#ff4700"/>
<polygon points="463.4,100.3 464.2,100.3 465.2,119.3 462.4,119.3" fill="#ff4700"/>
<polygon points="468.5,100.3 469.4,100.3 470.4,119.3 467.5,119.3" fill="#ff4700"/>
<polygon points="507.2,100.3 508.2,100.3 509.2,119.3 506.2,119.3" fill="#ff4700"/>
<polygon points="509.8,100.3 511.1,100.3 512.1,119.3 508.8,119.3" fill="#ff4700"/>
<polygon points="410.6,100.3 412.1,100.3 413.1,119.3 409.6,119.3" fill="#ff3a00"/>
<polygon points="516.6,100.3 518.5,100.3 519.5,119.3 515.6,119.3" fill="#ff3a00"/>
<polygon points="447.2,100.3 449.6,100.3 450.6,119.3 446.2,119.3" fill="#ff2500"/>
<polygon points="404.8,100.3 406,100.3 407,119.3 403.8,119.3" fill="#ff1100"/>
<polygon points="429.7,100.3 432.4,100.3 433.4,119.3 428.7,119.3" fill="#ff1100"/>
<polygon points="450.7,100.3 452.8,100.3 453.8,119.3 449.7,119.3" fill="#f50000"/>
<polygon points="512.7,100.3 514.6,100.3 515.6,119.3 511.7,119.3" fill="#f50000"/>
<polygon points="437.5,100.3 439.9,100.3 440.9,119.3 436.5,119.3" fill="#e00000"/>
<polygon points="495.5,100.3 497,100.3 498,119.3 494.5,119.3" fill="#e00000"/>
<polygon points="519.8,100.3 521.4,100.3 522.4,119.3 518.8,119.3" fill="#e00000"/>
<polygon points="420.6,100.3 422.1,100.3 423.1,119.3 419.6,119.3" fill="#cc0000"/>
<polygon points="476.5,100.3 477.9,100.3 478.9,119.3 475.5,119.3" fill="#cc0000"/>
<polygon points="501.8,100.3 503.1,100.3 504.1,119.3 500.8,119.3" fill="#cc0000"/>
<polygon points="523,100.3 524.6,100.3 525.6,119.3 522,119.3" fill="#cc0000"/>
<polygon points="424.1,100.3 426.8,100.3 427.8,119.3 423.1,119.3" fill="#be0000"/>
<polygon points="439.9,100.3 442.2,100.3 443.2,119.3 438.9,119.3" fill="#be0000"/>
<polygon points="444,100.3 444.9,100.3 445.9,119.3 443,119.3" fill="#be0000"/>
<polygon points="459.8,100.3 463.4,100.3 464.4,119.3 458.8,119.3" fill="#be0000"/>
<polygon points="505,100.3 507.2,100.3 508.2,119.3 504,119.3" fill="#be0000"/>
<polygon points="442.2,100.3 444,100.3 445,119.3 441.2,119.3" fill="#440000"/>
<polygon points="494.4,100.3 495.5,100.3 496.5,119.3 493.4,119.3" fill="#440000"/>
</g>
<g mask="url(#bmc)">
<rect x="404.6" y="111.3" width="1.6" height="9" fill="#810000"/>
<rect x="405.4" y="111.3" width="2.5" height="9" fill="#ff2c00"/>
<rect x="407.5" y="111.3" width="3.3" height="9" fill="#ffa000"/>
<rect x="410.4" y="111.3" width="1.9" height="9" fill="#aa0000"/>
<rect x="411.9" y="111.3" width="1.6" height="9" fill="#ffa700"/>
<rect x="413.1" y="111.3" width="2.7" height="9" fill="#ffc900"/>
<rect x="415.4" y="111.3" width="2.5" height="9" fill="#ff4100"/>
<rect x="417.5" y="111.3" width="2.7" height="9" fill="#ffc900"/>
<rect x="419.8" y="111.3" width="1" height="9" fill="#ff3300"/>
<rect x="420.4" y="111.3" width="1.9" height="9" fill="#3d0000"/>
<rect x="421.9" y="111.3" width="2.4" height="9" fill="#ff3300"/>
<rect x="423.9" y="111.3" width="3.1" height="9" fill="#300000"/>
<rect x="426.6" y="111.3" width="1.3" height="9" fill="#b80000"/>
<rect x="427.5" y="111.3" width="2.4" height="9" fill="#ffa700"/>
<rect x="429.5" y="111.3" width="3.1" height="9" fill="#810000"/>
<rect x="432.2" y="111.3" width="1.2" height="9" fill="#ee0000"/>
<rect x="433" y="111.3" width="3.5" height="9" fill="#ffb400"/>
<rect x="436.1" y="111.3" width="1.6" height="9" fill="#b80000"/>
<rect x="437.3" y="111.3" width="2.8" height="9" fill="#520000"/>
<rect x="439.7" y="111.3" width="2.7" height="9" fill="#300000"/>
<rect x="442" y="111.3" width="2.2" height="9" fill="#220000"/>
<rect x="443.8" y="111.3" width="1.3" height="9" fill="#300000"/>
<rect x="444.7" y="111.3" width="1.5" height="9" fill="#ff3300"/>
<rect x="445.8" y="111.3" width="1.6" height="9" fill="#ffa700"/>
<rect x="447" y="111.3" width="2.8" height="9" fill="#960000"/>
<rect x="449.4" y="111.3" width="1.5" height="9" fill="#ff4100"/>
<rect x="450.5" y="111.3" width="2.5" height="9" fill="#660000"/>
<rect x="452.6" y="111.3" width="1.3" height="9" fill="#ff3300"/>
<rect x="453.5" y="111.3" width="3" height="9" fill="#ffc900"/>
<rect x="456.1" y="111.3" width="2.2" height="9" fill="#ffb400"/>
<rect x="457.9" y="111.3" width="1.3" height="9" fill="#ff3300"/>
<rect x="458.8" y="111.3" width="1.2" height="9" fill="#b80000"/>
<rect x="459.6" y="111.3" width="4" height="9" fill="#300000"/>
<rect x="463.2" y="111.3" width="1.2" height="9" fill="#b80000"/>
<rect x="464" y="111.3" width="1.2" height="9" fill="#ff2c00"/>
<rect x="464.8" y="111.3" width="2.7" height="9" fill="#da0000"/>
<rect x="467.1" y="111.3" width="1.6" height="9" fill="#ff3300"/>
<rect x="468.3" y="111.3" width="1.3" height="9" fill="#b80000"/>
<rect x="469.2" y="111.3" width="2.8" height="9" fill="#ff3300"/>
<rect x="471.6" y="111.3" width="2.1" height="9" fill="#ffc900"/>
<rect x="473.3" y="111.3" width="1.3" height="9" fill="#ff3300"/>
<rect x="474.2" y="111.3" width="2.5" height="9" fill="#da0000"/>
<rect x="476.3" y="111.3" width="1.8" height="9" fill="#3d0000"/>
<rect x="477.7" y="111.3" width="1.9" height="9" fill="#ffc200"/>
<rect x="479.2" y="111.3" width="2" height="9" fill="#ff3300"/>
<rect x="480.8" y="111.3" width="2.4" height="9" fill="#ff9900"/>
<rect x="482.8" y="111.3" width="3.4" height="9" fill="#ff3300"/>
<rect x="485.8" y="111.3" width="2.3" height="9" fill="#ff6300"/>
<rect x="487.7" y="111.3" width="1.6" height="9" fill="#ff3300"/>
<rect x="488.9" y="111.3" width="4.5" height="9" fill="#ffc200"/>
<rect x="493" y="111.3" width="1.6" height="9" fill="#da0000"/>
<rect x="494.2" y="111.3" width="1.5" height="9" fill="#220000"/>
<rect x="495.3" y="111.3" width="1.9" height="9" fill="#520000"/>
<rect x="496.8" y="111.3" width="2.3" height="9" fill="#ff4100"/>
<rect x="498.7" y="111.3" width="2.3" height="9" fill="#ffb400"/>
<rect x="500.6" y="111.3" width="1.4" height="9" fill="#ff3300"/>
<rect x="501.6" y="111.3" width="1.7" height="9" fill="#3d0000"/>
<rect x="502.9" y="111.3" width="2.3" height="9" fill="#ff4100"/>
<rect x="504.8" y="111.3" width="2.6" height="9" fill="#300000"/>
<rect x="507" y="111.3" width="1.4" height="9" fill="#b80000"/>
<rect x="508" y="111.3" width="2" height="9" fill="#ff3300"/>
<rect x="509.6" y="111.3" width="1.7" height="9" fill="#b80000"/>
<rect x="510.9" y="111.3" width="2" height="9" fill="#ff4e00"/>
<rect x="512.5" y="111.3" width="2.3" height="9" fill="#660000"/>
<rect x="514.4" y="111.3" width="2.4" height="9" fill="#ff3300"/>
<rect x="516.4" y="111.3" width="2.3" height="9" fill="#aa0000"/>
<rect x="518.3" y="111.3" width="1.7" height="9" fill="#ff3300"/>
<rect x="519.6" y="111.3" width="2" height="9" fill="#520000"/>
<rect x="521.2" y="111.3" width="2" height="9" fill="#ff3300"/>
<rect x="522.8" y="111.3" width="2" height="9" fill="#3d0000"/>
<rect x="524.4" y="111.3" width="4.6" height="9" fill="#ff4100"/>
<rect x="528.6" y="111.3" width="1.6" height="9" fill="#220000"/>
</g>
</g></g>
<rect x="524.8" y="8.3" width="3.7" height="110" fill="url(#cb3)"/>
<g clip-path="url(#clipd)"><g filter="url(#blur2)">
<rect x="34" y="194.7" width="6.05" height="114.3" fill="url(#v10)"/>
<rect x="164.8" y="194.7" width="6" height="114.3" fill="url(#v34)"/>
<rect x="40" y="194.7" width="3.1" height="114.3" fill="url(#v10)"/>
<rect x="40" y="194.7" width="3.1" height="114.3" fill="url(#v35)" mask="url(#hramp2)"/>
<rect x="42.6" y="194.7" width="3.1" height="114.3" fill="url(#v35)"/>
<rect x="42.6" y="194.7" width="3.1" height="114.3" fill="url(#v11)" mask="url(#hramp2)"/>
<rect x="45.2" y="194.7" width="3.1" height="114.3" fill="url(#v11)"/>
<rect x="45.2" y="194.7" width="3.1" height="114.3" fill="url(#v36)" mask="url(#hramp2)"/>
<rect x="47.8" y="194.7" width="3.1" height="114.3" fill="url(#v36)"/>
<rect x="47.8" y="194.7" width="3.1" height="114.3" fill="url(#v12)" mask="url(#hramp2)"/>
<rect x="50.4" y="194.7" width="3.1" height="114.3" fill="url(#v12)"/>
<rect x="50.4" y="194.7" width="3.1" height="114.3" fill="url(#v37)" mask="url(#hramp2)"/>
<rect x="53" y="194.7" width="3.1" height="114.3" fill="url(#v37)"/>
<rect x="53" y="194.7" width="3.1" height="114.3" fill="url(#v13)" mask="url(#hramp2)"/>
<rect x="55.6" y="194.7" width="3.1" height="114.3" fill="url(#v13)"/>
<rect x="55.6" y="194.7" width="3.1" height="114.3" fill="url(#v38)" mask="url(#hramp2)"/>
<rect x="58.2" y="194.7" width="3.1" height="114.3" fill="url(#v38)"/>
<rect x="58.2" y="194.7" width="3.1" height="114.3" fill="url(#v14)" mask="url(#hramp2)"/>
<rect x="60.8" y="194.7" width="3.1" height="114.3" fill="url(#v14)"/>
<rect x="60.8" y="194.7" width="3.1" height="114.3" fill="url(#v39)" mask="url(#hramp2)"/>
<rect x="63.4" y="194.7" width="3.1" height="114.3" fill="url(#v39)"/>
<rect x="63.4" y="194.7" width="3.1" height="114.3" fill="url(#v15)" mask="url(#hramp2)"/>
<rect x="66" y="194.7" width="3.1" height="114.3" fill="url(#v15)"/>
<rect x="66" y="194.7" width="3.1" height="114.3" fill="url(#v40)" mask="url(#hramp2)"/>
<rect x="68.6" y="194.7" width="3.1" height="114.3" fill="url(#v40)"/>
<rect x="68.6" y="194.7" width="3.1" height="114.3" fill="url(#v16)" mask="url(#hramp2)"/>
<rect x="71.2" y="194.7" width="3.1" height="114.3" fill="url(#v16)"/>
<rect x="71.2" y="194.7" width="3.1" height="114.3" fill="url(#v41)" mask="url(#hramp2)"/>
<rect x="73.8" y="194.7" width="3.1" height="114.3" fill="url(#v41)"/>
<rect x="73.8" y="194.7" width="3.1" height="114.3" fill="url(#v17)" mask="url(#hramp2)"/>
<rect x="76.4" y="194.7" width="3.1" height="114.3" fill="url(#v17)"/>
<rect x="76.4" y="194.7" width="3.1" height="114.3" fill="url(#v42)" mask="url(#hramp2)"/>
<rect x="79" y="194.7" width="3.1" height="114.3" fill="url(#v42)"/>
<rect x="79" y="194.7" width="3.1" height="114.3" fill="url(#v18)" mask="url(#hramp2)"/>
<rect x="81.6" y="194.7" width="3.1" height="114.3" fill="url(#v18)"/>
<rect x="81.6" y="194.7" width="3.1" height="114.3" fill="url(#v43)" mask="url(#hramp2)"/>
<rect x="84.2" y="194.7" width="3.1" height="114.3" fill="url(#v43)"/>
<rect x="84.2" y="194.7" width="3.1" height="114.3" fill="url(#v19)" mask="url(#hramp2)"/>
<rect x="86.8" y="194.7" width="3.1" height="114.3" fill="url(#v19)"/>
<rect x="86.8" y="194.7" width="3.1" height="114.3" fill="url(#v44)" mask="url(#hramp2)"/>
<rect x="89.4" y="194.7" width="3.1" height="114.3" fill="url(#v44)"/>
<rect x="89.4" y="194.7" width="3.1" height="114.3" fill="url(#v20)" mask="url(#hramp2)"/>
<rect x="92" y="194.7" width="3.1" height="114.3" fill="url(#v20)"/>
<rect x="92" y="194.7" width="3.1" height="114.3" fill="url(#v45)" mask="url(#hramp2)"/>
<rect x="94.6" y="194.7" width="3.1" height="114.3" fill="url(#v45)"/>
<rect x="94.6" y="194.7" width="3.1" height="114.3" fill="url(#v21)" mask="url(#hramp2)"/>
<rect x="97.2" y="194.7" width="3.1" height="114.3" fill="url(#v21)"/>
<rect x="97.2" y="194.7" width="3.1" height="114.3" fill="url(#v46)" mask="url(#hramp2)"/>
<rect x="99.8" y="194.7" width="3.1" height="114.3" fill="url(#v46)"/>
<rect x="99.8" y="194.7" width="3.1" height="114.3" fill="url(#v22)" mask="url(#hramp2)"/>
<rect x="102.4" y="194.7" width="3.1" height="114.3" fill="url(#v22)"/>
<rect x="102.4" y="194.7" width="3.1" height="114.3" fill="url(#v47)" mask="url(#hramp2)"/>
<rect x="105" y="194.7" width="3.1" height="114.3" fill="url(#v47)"/>
<rect x="105" y="194.7" width="3.1" height="114.3" fill="url(#v23)" mask="url(#hramp2)"/>
<rect x="107.6" y="194.7" width="3.1" height="114.3" fill="url(#v23)"/>
<rect x="107.6" y="194.7" width="3.1" height="114.3" fill="url(#v48)" mask="url(#hramp2)"/>
<rect x="110.2" y="194.7" width="3.1" height="114.3" fill="url(#v48)"/>
<rect x="110.2" y="194.7" width="3.1" height="114.3" fill="url(#v24)" mask="url(#hramp2)"/>
<rect x="112.8" y="194.7" width="3.1" height="114.3" fill="url(#v24)"/>
<rect x="112.8" y="194.7" width="3.1" height="114.3" fill="url(#v49)" mask="url(#hramp2)"/>
<rect x="115.4" y="194.7" width="3.1" height="114.3" fill="url(#v49)"/>
<rect x="115.4" y="194.7" width="3.1" height="114.3" fill="url(#v25)" mask="url(#hramp2)"/>
<rect x="118" y="194.7" width="3.1" height="114.3" fill="url(#v25)"/>
<rect x="118" y="194.7" width="3.1" height="114.3" fill="url(#v50)" mask="url(#hramp2)"/>
<rect x="120.6" y="194.7" width="3.1" height="114.3" fill="url(#v50)"/>
<rect x="120.6" y="194.7" width="3.1" height="114.3" fill="url(#v26)" mask="url(#hramp2)"/>
<rect x="123.2" y="194.7" width="3.1" height="114.3" fill="url(#v26)"/>
<rect x="123.2" y="194.7" width="3.1" height="114.3" fill="url(#v51)" mask="url(#hramp2)"/>
<rect x="125.8" y="194.7" width="3.1" height="114.3" fill="url(#v51)"/>
<rect x="125.8" y="194.7" width="3.1" height="114.3" fill="url(#v27)" mask="url(#hramp2)"/>
<rect x="128.4" y="194.7" width="3.1" height="114.3" fill="url(#v27)"/>
<rect x="128.4" y="194.7" width="3.1" height="114.3" fill="url(#v52)" mask="url(#hramp2)"/>
<rect x="131" y="194.7" width="3.1" height="114.3" fill="url(#v52)"/>
<rect x="131" y="194.7" width="3.1" height="114.3" fill="url(#v28)" mask="url(#hramp2)"/>
<rect x="133.6" y="194.7" width="3.1" height="114.3" fill="url(#v28)"/>
<rect x="133.6" y="194.7" width="3.1" height="114.3" fill="url(#v53)" mask="url(#hramp2)"/>
<rect x="136.2" y="194.7" width="3.1" height="114.3" fill="url(#v53)"/>
<rect x="136.2" y="194.7" width="3.1" height="114.3" fill="url(#v29)" mask="url(#hramp2)"/>
<rect x="138.8" y="194.7" width="3.1" height="114.3" fill="url(#v29)"/>
<rect x="138.8" y="194.7" width="3.1" height="114.3" fill="url(#v54)" mask="url(#hramp2)"/>
<rect x="141.4" y="194.7" width="3.1" height="114.3" fill="url(#v54)"/>
<rect x="141.4" y="194.7" width="3.1" height="114.3" fill="url(#v30)" mask="url(#hramp2)"/>
<rect x="144" y="194.7" width="3.1" height="114.3" fill="url(#v30)"/>
<rect x="144" y="194.7" width="3.1" height="114.3" fill="url(#v55)" mask="url(#hramp2)"/>
<rect x="146.6" y="194.7" width="3.1" height="114.3" fill="url(#v55)"/>
<rect x="146.6" y="194.7" width="3.1" height="114.3" fill="url(#v31)" mask="url(#hramp2)"/>
<rect x="149.2" y="194.7" width="3.1" height="114.3" fill="url(#v31)"/>
<rect x="149.2" y="194.7" width="3.1" height="114.3" fill="url(#v56)" mask="url(#hramp2)"/>
<rect x="151.8" y="194.7" width="3.1" height="114.3" fill="url(#v56)"/>
<rect x="151.8" y="194.7" width="3.1" height="114.3" fill="url(#v32)" mask="url(#hramp2)"/>
<rect x="154.4" y="194.7" width="3.1" height="114.3" fill="url(#v32)"/>
<rect x="154.4" y="194.7" width="3.1" height="114.3" fill="url(#v57)" mask="url(#hramp2)"/>
<rect x="157" y="194.7" width="3.1" height="114.3" fill="url(#v57)"/>
<rect x="157" y="194.7" width="3.1" height="114.3" fill="url(#v33)" mask="url(#hramp2)"/>
<rect x="159.6" y="194.7" width="3.1" height="114.3" fill="url(#v33)"/>
<rect x="159.6" y="194.7" width="3.1" height="114.3" fill="url(#v58)" mask="url(#hramp2)"/>
<rect x="162.2" y="194.7" width="3.1" height="114.3" fill="url(#v58)"/>
<rect x="162.2" y="194.7" width="3.1" height="114.3" fill="url(#v34)" mask="url(#hramp2)"/>
</g></g>
<line x1="40.2" y1="197.9" x2="165.8" y2="197.9" stroke="#c8c8c8" stroke-width="0.6"/>
<rect x="160.4" y="198.3" width="3.6" height="106.9" fill="url(#cb4)" stroke="#a8a8a8" stroke-width="0.5"/>
<g clip-path="url(#clipe)"><g filter="url(#blur2)">
<rect x="216.5" y="194.7" width="6.05" height="114.3" fill="url(#v59)"/>
<rect x="347.3" y="194.7" width="6" height="114.3" fill="url(#v83)"/>
<rect x="222.5" y="194.7" width="3.1" height="114.3" fill="url(#v59)"/>
<rect x="222.5" y="194.7" width="3.1" height="114.3" fill="url(#v84)" mask="url(#hramp2)"/>
<rect x="225.1" y="194.7" width="3.1" height="114.3" fill="url(#v84)"/>
<rect x="225.1" y="194.7" width="3.1" height="114.3" fill="url(#v60)" mask="url(#hramp2)"/>
<rect x="227.7" y="194.7" width="3.1" height="114.3" fill="url(#v60)"/>
<rect x="227.7" y="194.7" width="3.1" height="114.3" fill="url(#v85)" mask="url(#hramp2)"/>
<rect x="230.3" y="194.7" width="3.1" height="114.3" fill="url(#v85)"/>
<rect x="230.3" y="194.7" width="3.1" height="114.3" fill="url(#v61)" mask="url(#hramp2)"/>
<rect x="232.9" y="194.7" width="3.1" height="114.3" fill="url(#v61)"/>
<rect x="232.9" y="194.7" width="3.1" height="114.3" fill="url(#v86)" mask="url(#hramp2)"/>
<rect x="235.5" y="194.7" width="3.1" height="114.3" fill="url(#v86)"/>
<rect x="235.5" y="194.7" width="3.1" height="114.3" fill="url(#v62)" mask="url(#hramp2)"/>
<rect x="238.1" y="194.7" width="3.1" height="114.3" fill="url(#v62)"/>
<rect x="238.1" y="194.7" width="3.1" height="114.3" fill="url(#v87)" mask="url(#hramp2)"/>
<rect x="240.7" y="194.7" width="3.1" height="114.3" fill="url(#v87)"/>
<rect x="240.7" y="194.7" width="3.1" height="114.3" fill="url(#v63)" mask="url(#hramp2)"/>
<rect x="243.3" y="194.7" width="3.1" height="114.3" fill="url(#v63)"/>
<rect x="243.3" y="194.7" width="3.1" height="114.3" fill="url(#v88)" mask="url(#hramp2)"/>
<rect x="245.9" y="194.7" width="3.1" height="114.3" fill="url(#v88)"/>
<rect x="245.9" y="194.7" width="3.1" height="114.3" fill="url(#v64)" mask="url(#hramp2)"/>
<rect x="248.5" y="194.7" width="3.1" height="114.3" fill="url(#v64)"/>
<rect x="248.5" y="194.7" width="3.1" height="114.3" fill="url(#v89)" mask="url(#hramp2)"/>
<rect x="251.1" y="194.7" width="3.1" height="114.3" fill="url(#v89)"/>
<rect x="251.1" y="194.7" width="3.1" height="114.3" fill="url(#v65)" mask="url(#hramp2)"/>
<rect x="253.7" y="194.7" width="3.1" height="114.3" fill="url(#v65)"/>
<rect x="253.7" y="194.7" width="3.1" height="114.3" fill="url(#v90)" mask="url(#hramp2)"/>
<rect x="256.3" y="194.7" width="3.1" height="114.3" fill="url(#v90)"/>
<rect x="256.3" y="194.7" width="3.1" height="114.3" fill="url(#v66)" mask="url(#hramp2)"/>
<rect x="258.9" y="194.7" width="3.1" height="114.3" fill="url(#v66)"/>
<rect x="258.9" y="194.7" width="3.1" height="114.3" fill="url(#v91)" mask="url(#hramp2)"/>
<rect x="261.5" y="194.7" width="3.1" height="114.3" fill="url(#v91)"/>
<rect x="261.5" y="194.7" width="3.1" height="114.3" fill="url(#v67)" mask="url(#hramp2)"/>
<rect x="264.1" y="194.7" width="3.1" height="114.3" fill="url(#v67)"/>
<rect x="264.1" y="194.7" width="3.1" height="114.3" fill="url(#v92)" mask="url(#hramp2)"/>
<rect x="266.7" y="194.7" width="3.1" height="114.3" fill="url(#v92)"/>
<rect x="266.7" y="194.7" width="3.1" height="114.3" fill="url(#v68)" mask="url(#hramp2)"/>
<rect x="269.3" y="194.7" width="3.1" height="114.3" fill="url(#v68)"/>
<rect x="269.3" y="194.7" width="3.1" height="114.3" fill="url(#v93)" mask="url(#hramp2)"/>
<rect x="271.9" y="194.7" width="3.1" height="114.3" fill="url(#v93)"/>
<rect x="271.9" y="194.7" width="3.1" height="114.3" fill="url(#v69)" mask="url(#hramp2)"/>
<rect x="274.5" y="194.7" width="3.1" height="114.3" fill="url(#v69)"/>
<rect x="274.5" y="194.7" width="3.1" height="114.3" fill="url(#v94)" mask="url(#hramp2)"/>
<rect x="277.1" y="194.7" width="3.1" height="114.3" fill="url(#v94)"/>
<rect x="277.1" y="194.7" width="3.1" height="114.3" fill="url(#v70)" mask="url(#hramp2)"/>
<rect x="279.7" y="194.7" width="3.1" height="114.3" fill="url(#v70)"/>
<rect x="279.7" y="194.7" width="3.1" height="114.3" fill="url(#v95)" mask="url(#hramp2)"/>
<rect x="282.3" y="194.7" width="3.1" height="114.3" fill="url(#v95)"/>
<rect x="282.3" y="194.7" width="3.1" height="114.3" fill="url(#v71)" mask="url(#hramp2)"/>
<rect x="284.9" y="194.7" width="3.1" height="114.3" fill="url(#v71)"/>
<rect x="284.9" y="194.7" width="3.1" height="114.3" fill="url(#v96)" mask="url(#hramp2)"/>
<rect x="287.5" y="194.7" width="3.1" height="114.3" fill="url(#v96)"/>
<rect x="287.5" y="194.7" width="3.1" height="114.3" fill="url(#v72)" mask="url(#hramp2)"/>
<rect x="290.1" y="194.7" width="3.1" height="114.3" fill="url(#v72)"/>
<rect x="290.1" y="194.7" width="3.1" height="114.3" fill="url(#v97)" mask="url(#hramp2)"/>
<rect x="292.7" y="194.7" width="3.1" height="114.3" fill="url(#v97)"/>
<rect x="292.7" y="194.7" width="3.1" height="114.3" fill="url(#v73)" mask="url(#hramp2)"/>
<rect x="295.3" y="194.7" width="3.1" height="114.3" fill="url(#v73)"/>
<rect x="295.3" y="194.7" width="3.1" height="114.3" fill="url(#v98)" mask="url(#hramp2)"/>
<rect x="297.9" y="194.7" width="3.1" height="114.3" fill="url(#v98)"/>
<rect x="297.9" y="194.7" width="3.1" height="114.3" fill="url(#v74)" mask="url(#hramp2)"/>
<rect x="300.5" y="194.7" width="3.1" height="114.3" fill="url(#v74)"/>
<rect x="300.5" y="194.7" width="3.1" height="114.3" fill="url(#v99)" mask="url(#hramp2)"/>
<rect x="303.1" y="194.7" width="3.1" height="114.3" fill="url(#v99)"/>
<rect x="303.1" y="194.7" width="3.1" height="114.3" fill="url(#v75)" mask="url(#hramp2)"/>
<rect x="305.7" y="194.7" width="3.1" height="114.3" fill="url(#v75)"/>
<rect x="305.7" y="194.7" width="3.1" height="114.3" fill="url(#v100)" mask="url(#hramp2)"/>
<rect x="308.3" y="194.7" width="3.1" height="114.3" fill="url(#v100)"/>
<rect x="308.3" y="194.7" width="3.1" height="114.3" fill="url(#v76)" mask="url(#hramp2)"/>
<rect x="310.9" y="194.7" width="3.1" height="114.3" fill="url(#v76)"/>
<rect x="310.9" y="194.7" width="3.1" height="114.3" fill="url(#v101)" mask="url(#hramp2)"/>
<rect x="313.5" y="194.7" width="3.1" height="114.3" fill="url(#v101)"/>
<rect x="313.5" y="194.7" width="3.1" height="114.3" fill="url(#v77)" mask="url(#hramp2)"/>
<rect x="316.1" y="194.7" width="3.1" height="114.3" fill="url(#v77)"/>
<rect x="316.1" y="194.7" width="3.1" height="114.3" fill="url(#v102)" mask="url(#hramp2)"/>
<rect x="318.7" y="194.7" width="3.1" height="114.3" fill="url(#v102)"/>
<rect x="318.7" y="194.7" width="3.1" height="114.3" fill="url(#v78)" mask="url(#hramp2)"/>
<rect x="321.3" y="194.7" width="3.1" height="114.3" fill="url(#v78)"/>
<rect x="321.3" y="194.7" width="3.1" height="114.3" fill="url(#v103)" mask="url(#hramp2)"/>
<rect x="323.9" y="194.7" width="3.1" height="114.3" fill="url(#v103)"/>
<rect x="323.9" y="194.7" width="3.1" height="114.3" fill="url(#v79)" mask="url(#hramp2)"/>
<rect x="326.5" y="194.7" width="3.1" height="114.3" fill="url(#v79)"/>
<rect x="326.5" y="194.7" width="3.1" height="114.3" fill="url(#v104)" mask="url(#hramp2)"/>
<rect x="329.1" y="194.7" width="3.1" height="114.3" fill="url(#v104)"/>
<rect x="329.1" y="194.7" width="3.1" height="114.3" fill="url(#v80)" mask="url(#hramp2)"/>
<rect x="331.7" y="194.7" width="3.1" height="114.3" fill="url(#v80)"/>
<rect x="331.7" y="194.7" width="3.1" height="114.3" fill="url(#v105)" mask="url(#hramp2)"/>
<rect x="334.3" y="194.7" width="3.1" height="114.3" fill="url(#v105)"/>
<rect x="334.3" y="194.7" width="3.1" height="114.3" fill="url(#v81)" mask="url(#hramp2)"/>
<rect x="336.9" y="194.7" width="3.1" height="114.3" fill="url(#v81)"/>
<rect x="336.9" y="194.7" width="3.1" height="114.3" fill="url(#v106)" mask="url(#hramp2)"/>
<rect x="339.5" y="194.7" width="3.1" height="114.3" fill="url(#v106)"/>
<rect x="339.5" y="194.7" width="3.1" height="114.3" fill="url(#v82)" mask="url(#hramp2)"/>
<rect x="342.1" y="194.7" width="3.1" height="114.3" fill="url(#v82)"/>
<rect x="342.1" y="194.7" width="3.1" height="114.3" fill="url(#v107)" mask="url(#hramp2)"/>
<rect x="344.7" y="194.7" width="3.1" height="114.3" fill="url(#v107)"/>
<rect x="344.7" y="194.7" width="3.1" height="114.3" fill="url(#v83)" mask="url(#hramp2)"/>
</g></g>
<line x1="222.5" y1="197.9" x2="347.6" y2="197.9" stroke="#c8c8c8" stroke-width="0.6"/>
<rect x="342.8" y="198.3" width="3.5" height="106.9" fill="url(#cb5)" stroke="#a8a8a8" stroke-width="0.5"/>
<g clip-path="url(#clipf)"><g filter="url(#blur2)">
<rect x="398.7" y="194.7" width="6.05" height="114.3" fill="url(#v108)"/>
<rect x="529.5" y="194.7" width="6" height="114.3" fill="url(#v132)"/>
<rect x="404.7" y="194.7" width="3.1" height="114.3" fill="url(#v108)"/>
<rect x="404.7" y="194.7" width="3.1" height="114.3" fill="url(#v133)" mask="url(#hramp2)"/>
<rect x="407.3" y="194.7" width="3.1" height="114.3" fill="url(#v133)"/>
<rect x="407.3" y="194.7" width="3.1" height="114.3" fill="url(#v109)" mask="url(#hramp2)"/>
<rect x="409.9" y="194.7" width="3.1" height="114.3" fill="url(#v109)"/>
<rect x="409.9" y="194.7" width="3.1" height="114.3" fill="url(#v134)" mask="url(#hramp2)"/>
<rect x="412.5" y="194.7" width="3.1" height="114.3" fill="url(#v134)"/>
<rect x="412.5" y="194.7" width="3.1" height="114.3" fill="url(#v110)" mask="url(#hramp2)"/>
<rect x="415.1" y="194.7" width="3.1" height="114.3" fill="url(#v110)"/>
<rect x="415.1" y="194.7" width="3.1" height="114.3" fill="url(#v135)" mask="url(#hramp2)"/>
<rect x="417.7" y="194.7" width="3.1" height="114.3" fill="url(#v135)"/>
<rect x="417.7" y="194.7" width="3.1" height="114.3" fill="url(#v111)" mask="url(#hramp2)"/>
<rect x="420.3" y="194.7" width="3.1" height="114.3" fill="url(#v111)"/>
<rect x="420.3" y="194.7" width="3.1" height="114.3" fill="url(#v136)" mask="url(#hramp2)"/>
<rect x="422.9" y="194.7" width="3.1" height="114.3" fill="url(#v136)"/>
<rect x="422.9" y="194.7" width="3.1" height="114.3" fill="url(#v112)" mask="url(#hramp2)"/>
<rect x="425.5" y="194.7" width="3.1" height="114.3" fill="url(#v112)"/>
<rect x="425.5" y="194.7" width="3.1" height="114.3" fill="url(#v137)" mask="url(#hramp2)"/>
<rect x="428.1" y="194.7" width="3.1" height="114.3" fill="url(#v137)"/>
<rect x="428.1" y="194.7" width="3.1" height="114.3" fill="url(#v113)" mask="url(#hramp2)"/>
<rect x="430.7" y="194.7" width="3.1" height="114.3" fill="url(#v113)"/>
<rect x="430.7" y="194.7" width="3.1" height="114.3" fill="url(#v138)" mask="url(#hramp2)"/>
<rect x="433.3" y="194.7" width="3.1" height="114.3" fill="url(#v138)"/>
<rect x="433.3" y="194.7" width="3.1" height="114.3" fill="url(#v114)" mask="url(#hramp2)"/>
<rect x="435.9" y="194.7" width="3.1" height="114.3" fill="url(#v114)"/>
<rect x="435.9" y="194.7" width="3.1" height="114.3" fill="url(#v139)" mask="url(#hramp2)"/>
<rect x="438.5" y="194.7" width="3.1" height="114.3" fill="url(#v139)"/>
<rect x="438.5" y="194.7" width="3.1" height="114.3" fill="url(#v115)" mask="url(#hramp2)"/>
<rect x="441.1" y="194.7" width="3.1" height="114.3" fill="url(#v115)"/>
<rect x="441.1" y="194.7" width="3.1" height="114.3" fill="url(#v140)" mask="url(#hramp2)"/>
<rect x="443.7" y="194.7" width="3.1" height="114.3" fill="url(#v140)"/>
<rect x="443.7" y="194.7" width="3.1" height="114.3" fill="url(#v116)" mask="url(#hramp2)"/>
<rect x="446.3" y="194.7" width="3.1" height="114.3" fill="url(#v116)"/>
<rect x="446.3" y="194.7" width="3.1" height="114.3" fill="url(#v141)" mask="url(#hramp2)"/>
<rect x="448.9" y="194.7" width="3.1" height="114.3" fill="url(#v141)"/>
<rect x="448.9" y="194.7" width="3.1" height="114.3" fill="url(#v117)" mask="url(#hramp2)"/>
<rect x="451.5" y="194.7" width="3.1" height="114.3" fill="url(#v117)"/>
<rect x="451.5" y="194.7" width="3.1" height="114.3" fill="url(#v142)" mask="url(#hramp2)"/>
<rect x="454.1" y="194.7" width="3.1" height="114.3" fill="url(#v142)"/>
<rect x="454.1" y="194.7" width="3.1" height="114.3" fill="url(#v118)" mask="url(#hramp2)"/>
<rect x="456.7" y="194.7" width="3.1" height="114.3" fill="url(#v118)"/>
<rect x="456.7" y="194.7" width="3.1" height="114.3" fill="url(#v143)" mask="url(#hramp2)"/>
<rect x="459.3" y="194.7" width="3.1" height="114.3" fill="url(#v143)"/>
<rect x="459.3" y="194.7" width="3.1" height="114.3" fill="url(#v119)" mask="url(#hramp2)"/>
<rect x="461.9" y="194.7" width="3.1" height="114.3" fill="url(#v119)"/>
<rect x="461.9" y="194.7" width="3.1" height="114.3" fill="url(#v144)" mask="url(#hramp2)"/>
<rect x="464.5" y="194.7" width="3.1" height="114.3" fill="url(#v144)"/>
<rect x="464.5" y="194.7" width="3.1" height="114.3" fill="url(#v120)" mask="url(#hramp2)"/>
<rect x="467.1" y="194.7" width="3.1" height="114.3" fill="url(#v120)"/>
<rect x="467.1" y="194.7" width="3.1" height="114.3" fill="url(#v145)" mask="url(#hramp2)"/>
<rect x="469.7" y="194.7" width="3.1" height="114.3" fill="url(#v145)"/>
<rect x="469.7" y="194.7" width="3.1" height="114.3" fill="url(#v121)" mask="url(#hramp2)"/>
<rect x="472.3" y="194.7" width="3.1" height="114.3" fill="url(#v121)"/>
<rect x="472.3" y="194.7" width="3.1" height="114.3" fill="url(#v146)" mask="url(#hramp2)"/>
<rect x="474.9" y="194.7" width="3.1" height="114.3" fill="url(#v146)"/>
<rect x="474.9" y="194.7" width="3.1" height="114.3" fill="url(#v122)" mask="url(#hramp2)"/>
<rect x="477.5" y="194.7" width="3.1" height="114.3" fill="url(#v122)"/>
<rect x="477.5" y="194.7" width="3.1" height="114.3" fill="url(#v147)" mask="url(#hramp2)"/>
<rect x="480.1" y="194.7" width="3.1" height="114.3" fill="url(#v147)"/>
<rect x="480.1" y="194.7" width="3.1" height="114.3" fill="url(#v123)" mask="url(#hramp2)"/>
<rect x="482.7" y="194.7" width="3.1" height="114.3" fill="url(#v123)"/>
<rect x="482.7" y="194.7" width="3.1" height="114.3" fill="url(#v148)" mask="url(#hramp2)"/>
<rect x="485.3" y="194.7" width="3.1" height="114.3" fill="url(#v148)"/>
<rect x="485.3" y="194.7" width="3.1" height="114.3" fill="url(#v124)" mask="url(#hramp2)"/>
<rect x="487.9" y="194.7" width="3.1" height="114.3" fill="url(#v124)"/>
<rect x="487.9" y="194.7" width="3.1" height="114.3" fill="url(#v149)" mask="url(#hramp2)"/>
<rect x="490.5" y="194.7" width="3.1" height="114.3" fill="url(#v149)"/>
<rect x="490.5" y="194.7" width="3.1" height="114.3" fill="url(#v125)" mask="url(#hramp2)"/>
<rect x="493.1" y="194.7" width="3.1" height="114.3" fill="url(#v125)"/>
<rect x="493.1" y="194.7" width="3.1" height="114.3" fill="url(#v150)" mask="url(#hramp2)"/>
<rect x="495.7" y="194.7" width="3.1" height="114.3" fill="url(#v150)"/>
<rect x="495.7" y="194.7" width="3.1" height="114.3" fill="url(#v126)" mask="url(#hramp2)"/>
<rect x="498.3" y="194.7" width="3.1" height="114.3" fill="url(#v126)"/>
<rect x="498.3" y="194.7" width="3.1" height="114.3" fill="url(#v151)" mask="url(#hramp2)"/>
<rect x="500.9" y="194.7" width="3.1" height="114.3" fill="url(#v151)"/>
<rect x="500.9" y="194.7" width="3.1" height="114.3" fill="url(#v127)" mask="url(#hramp2)"/>
<rect x="503.5" y="194.7" width="3.1" height="114.3" fill="url(#v127)"/>
<rect x="503.5" y="194.7" width="3.1" height="114.3" fill="url(#v152)" mask="url(#hramp2)"/>
<rect x="506.1" y="194.7" width="3.1" height="114.3" fill="url(#v152)"/>
<rect x="506.1" y="194.7" width="3.1" height="114.3" fill="url(#v128)" mask="url(#hramp2)"/>
<rect x="508.7" y="194.7" width="3.1" height="114.3" fill="url(#v128)"/>
<rect x="508.7" y="194.7" width="3.1" height="114.3" fill="url(#v153)" mask="url(#hramp2)"/>
<rect x="511.3" y="194.7" width="3.1" height="114.3" fill="url(#v153)"/>
<rect x="511.3" y="194.7" width="3.1" height="114.3" fill="url(#v129)" mask="url(#hramp2)"/>
<rect x="513.9" y="194.7" width="3.1" height="114.3" fill="url(#v129)"/>
<rect x="513.9" y="194.7" width="3.1" height="114.3" fill="url(#v154)" mask="url(#hramp2)"/>
<rect x="516.5" y="194.7" width="3.1" height="114.3" fill="url(#v154)"/>
<rect x="516.5" y="194.7" width="3.1" height="114.3" fill="url(#v130)" mask="url(#hramp2)"/>
<rect x="519.1" y="194.7" width="3.1" height="114.3" fill="url(#v130)"/>
<rect x="519.1" y="194.7" width="3.1" height="114.3" fill="url(#v155)" mask="url(#hramp2)"/>
<rect x="521.7" y="194.7" width="3.1" height="114.3" fill="url(#v155)"/>
<rect x="521.7" y="194.7" width="3.1" height="114.3" fill="url(#v131)" mask="url(#hramp2)"/>
<rect x="524.3" y="194.7" width="3.1" height="114.3" fill="url(#v131)"/>
<rect x="524.3" y="194.7" width="3.1" height="114.3" fill="url(#v156)" mask="url(#hramp2)"/>
<rect x="526.9" y="194.7" width="3.1" height="114.3" fill="url(#v156)"/>
<rect x="526.9" y="194.7" width="3.1" height="114.3" fill="url(#v132)" mask="url(#hramp2)"/>
</g></g>
<line x1="404.7" y1="197.9" x2="529.8" y2="197.9" stroke="#c8c8c8" stroke-width="0.6"/>
<rect x="524.6" y="198.3" width="3.5" height="106.9" fill="url(#cb6)" stroke="#a8a8a8" stroke-width="0.5"/>
<g clip-path="url(#clipg)"><g filter="url(#blur3)">
<rect x="27.2" y="383.3" width="6.05" height="114.9" fill="url(#v157)"/>
<rect x="165.2" y="383.3" width="6" height="114.9" fill="url(#v181)"/>
<rect x="33.2" y="383.3" width="3.25" height="114.9" fill="url(#v157)"/>
<rect x="33.2" y="383.3" width="3.25" height="114.9" fill="url(#v182)" mask="url(#hramp2)"/>
<rect x="35.95" y="383.3" width="3.25" height="114.9" fill="url(#v182)"/>
<rect x="35.95" y="383.3" width="3.25" height="114.9" fill="url(#v158)" mask="url(#hramp2)"/>
<rect x="38.7" y="383.3" width="3.25" height="114.9" fill="url(#v158)"/>
<rect x="38.7" y="383.3" width="3.25" height="114.9" fill="url(#v183)" mask="url(#hramp2)"/>
<rect x="41.45" y="383.3" width="3.25" height="114.9" fill="url(#v183)"/>
<rect x="41.45" y="383.3" width="3.25" height="114.9" fill="url(#v159)" mask="url(#hramp2)"/>
<rect x="44.2" y="383.3" width="3.25" height="114.9" fill="url(#v159)"/>
<rect x="44.2" y="383.3" width="3.25" height="114.9" fill="url(#v184)" mask="url(#hramp2)"/>
<rect x="46.95" y="383.3" width="3.25" height="114.9" fill="url(#v184)"/>
<rect x="46.95" y="383.3" width="3.25" height="114.9" fill="url(#v160)" mask="url(#hramp2)"/>
<rect x="49.7" y="383.3" width="3.25" height="114.9" fill="url(#v160)"/>
<rect x="49.7" y="383.3" width="3.25" height="114.9" fill="url(#v185)" mask="url(#hramp2)"/>
<rect x="52.45" y="383.3" width="3.25" height="114.9" fill="url(#v185)"/>
<rect x="52.45" y="383.3" width="3.25" height="114.9" fill="url(#v161)" mask="url(#hramp2)"/>
<rect x="55.2" y="383.3" width="3.25" height="114.9" fill="url(#v161)"/>
<rect x="55.2" y="383.3" width="3.25" height="114.9" fill="url(#v186)" mask="url(#hramp2)"/>
<rect x="57.95" y="383.3" width="3.25" height="114.9" fill="url(#v186)"/>
<rect x="57.95" y="383.3" width="3.25" height="114.9" fill="url(#v162)" mask="url(#hramp2)"/>
<rect x="60.7" y="383.3" width="3.25" height="114.9" fill="url(#v162)"/>
<rect x="60.7" y="383.3" width="3.25" height="114.9" fill="url(#v187)" mask="url(#hramp2)"/>
<rect x="63.45" y="383.3" width="3.25" height="114.9" fill="url(#v187)"/>
<rect x="63.45" y="383.3" width="3.25" height="114.9" fill="url(#v163)" mask="url(#hramp2)"/>
<rect x="66.2" y="383.3" width="3.25" height="114.9" fill="url(#v163)"/>
<rect x="66.2" y="383.3" width="3.25" height="114.9" fill="url(#v188)" mask="url(#hramp2)"/>
<rect x="68.95" y="383.3" width="3.25" height="114.9" fill="url(#v188)"/>
<rect x="68.95" y="383.3" width="3.25" height="114.9" fill="url(#v164)" mask="url(#hramp2)"/>
<rect x="71.7" y="383.3" width="3.25" height="114.9" fill="url(#v164)"/>
<rect x="71.7" y="383.3" width="3.25" height="114.9" fill="url(#v189)" mask="url(#hramp2)"/>
<rect x="74.45" y="383.3" width="3.25" height="114.9" fill="url(#v189)"/>
<rect x="74.45" y="383.3" width="3.25" height="114.9" fill="url(#v165)" mask="url(#hramp2)"/>
<rect x="77.2" y="383.3" width="3.25" height="114.9" fill="url(#v165)"/>
<rect x="77.2" y="383.3" width="3.25" height="114.9" fill="url(#v190)" mask="url(#hramp2)"/>
<rect x="79.95" y="383.3" width="3.25" height="114.9" fill="url(#v190)"/>
<rect x="79.95" y="383.3" width="3.25" height="114.9" fill="url(#v166)" mask="url(#hramp2)"/>
<rect x="82.7" y="383.3" width="3.25" height="114.9" fill="url(#v166)"/>
<rect x="82.7" y="383.3" width="3.25" height="114.9" fill="url(#v191)" mask="url(#hramp2)"/>
<rect x="85.45" y="383.3" width="3.25" height="114.9" fill="url(#v191)"/>
<rect x="85.45" y="383.3" width="3.25" height="114.9" fill="url(#v167)" mask="url(#hramp2)"/>
<rect x="88.2" y="383.3" width="3.25" height="114.9" fill="url(#v167)"/>
<rect x="88.2" y="383.3" width="3.25" height="114.9" fill="url(#v192)" mask="url(#hramp2)"/>
<rect x="90.95" y="383.3" width="3.25" height="114.9" fill="url(#v192)"/>
<rect x="90.95" y="383.3" width="3.25" height="114.9" fill="url(#v168)" mask="url(#hramp2)"/>
<rect x="93.7" y="383.3" width="3.25" height="114.9" fill="url(#v168)"/>
<rect x="93.7" y="383.3" width="3.25" height="114.9" fill="url(#v193)" mask="url(#hramp2)"/>
<rect x="96.45" y="383.3" width="3.25" height="114.9" fill="url(#v193)"/>
<rect x="96.45" y="383.3" width="3.25" height="114.9" fill="url(#v169)" mask="url(#hramp2)"/>
<rect x="99.2" y="383.3" width="3.25" height="114.9" fill="url(#v169)"/>
<rect x="99.2" y="383.3" width="3.25" height="114.9" fill="url(#v194)" mask="url(#hramp2)"/>
<rect x="101.95" y="383.3" width="3.25" height="114.9" fill="url(#v194)"/>
<rect x="101.95" y="383.3" width="3.25" height="114.9" fill="url(#v170)" mask="url(#hramp2)"/>
<rect x="104.7" y="383.3" width="3.25" height="114.9" fill="url(#v170)"/>
<rect x="104.7" y="383.3" width="3.25" height="114.9" fill="url(#v195)" mask="url(#hramp2)"/>
<rect x="107.45" y="383.3" width="3.25" height="114.9" fill="url(#v195)"/>
<rect x="107.45" y="383.3" width="3.25" height="114.9" fill="url(#v171)" mask="url(#hramp2)"/>
<rect x="110.2" y="383.3" width="3.25" height="114.9" fill="url(#v171)"/>
<rect x="110.2" y="383.3" width="3.25" height="114.9" fill="url(#v196)" mask="url(#hramp2)"/>
<rect x="112.95" y="383.3" width="3.25" height="114.9" fill="url(#v196)"/>
<rect x="112.95" y="383.3" width="3.25" height="114.9" fill="url(#v172)" mask="url(#hramp2)"/>
<rect x="115.7" y="383.3" width="3.25" height="114.9" fill="url(#v172)"/>
<rect x="115.7" y="383.3" width="3.25" height="114.9" fill="url(#v197)" mask="url(#hramp2)"/>
<rect x="118.45" y="383.3" width="3.25" height="114.9" fill="url(#v197)"/>
<rect x="118.45" y="383.3" width="3.25" height="114.9" fill="url(#v173)" mask="url(#hramp2)"/>
<rect x="121.2" y="383.3" width="3.25" height="114.9" fill="url(#v173)"/>
<rect x="121.2" y="383.3" width="3.25" height="114.9" fill="url(#v198)" mask="url(#hramp2)"/>
<rect x="123.95" y="383.3" width="3.25" height="114.9" fill="url(#v198)"/>
<rect x="123.95" y="383.3" width="3.25" height="114.9" fill="url(#v174)" mask="url(#hramp2)"/>
<rect x="126.7" y="383.3" width="3.25" height="114.9" fill="url(#v174)"/>
<rect x="126.7" y="383.3" width="3.25" height="114.9" fill="url(#v199)" mask="url(#hramp2)"/>
<rect x="129.45" y="383.3" width="3.25" height="114.9" fill="url(#v199)"/>
<rect x="129.45" y="383.3" width="3.25" height="114.9" fill="url(#v175)" mask="url(#hramp2)"/>
<rect x="132.2" y="383.3" width="3.25" height="114.9" fill="url(#v175)"/>
<rect x="132.2" y="383.3" width="3.25" height="114.9" fill="url(#v200)" mask="url(#hramp2)"/>
<rect x="134.95" y="383.3" width="3.25" height="114.9" fill="url(#v200)"/>
<rect x="134.95" y="383.3" width="3.25" height="114.9" fill="url(#v176)" mask="url(#hramp2)"/>
<rect x="137.7" y="383.3" width="3.25" height="114.9" fill="url(#v176)"/>
<rect x="137.7" y="383.3" width="3.25" height="114.9" fill="url(#v201)" mask="url(#hramp2)"/>
<rect x="140.45" y="383.3" width="3.25" height="114.9" fill="url(#v201)"/>
<rect x="140.45" y="383.3" width="3.25" height="114.9" fill="url(#v177)" mask="url(#hramp2)"/>
<rect x="143.2" y="383.3" width="3.25" height="114.9" fill="url(#v177)"/>
<rect x="143.2" y="383.3" width="3.25" height="114.9" fill="url(#v202)" mask="url(#hramp2)"/>
<rect x="145.95" y="383.3" width="3.25" height="114.9" fill="url(#v202)"/>
<rect x="145.95" y="383.3" width="3.25" height="114.9" fill="url(#v178)" mask="url(#hramp2)"/>
<rect x="148.7" y="383.3" width="3.25" height="114.9" fill="url(#v178)"/>
<rect x="148.7" y="383.3" width="3.25" height="114.9" fill="url(#v203)" mask="url(#hramp2)"/>
<rect x="151.45" y="383.3" width="3.25" height="114.9" fill="url(#v203)"/>
<rect x="151.45" y="383.3" width="3.25" height="114.9" fill="url(#v179)" mask="url(#hramp2)"/>
<rect x="154.2" y="383.3" width="3.25" height="114.9" fill="url(#v179)"/>
<rect x="154.2" y="383.3" width="3.25" height="114.9" fill="url(#v204)" mask="url(#hramp2)"/>
<rect x="156.95" y="383.3" width="3.25" height="114.9" fill="url(#v204)"/>
<rect x="156.95" y="383.3" width="3.25" height="114.9" fill="url(#v180)" mask="url(#hramp2)"/>
<rect x="159.7" y="383.3" width="3.25" height="114.9" fill="url(#v180)"/>
<rect x="159.7" y="383.3" width="3.25" height="114.9" fill="url(#v205)" mask="url(#hramp2)"/>
<rect x="162.45" y="383.3" width="3.25" height="114.9" fill="url(#v205)"/>
<rect x="162.45" y="383.3" width="3.25" height="114.9" fill="url(#v181)" mask="url(#hramp2)"/>
</g></g>
<line x1="33.6" y1="386.5" x2="165.2" y2="386.5" stroke="#c8c8c8" stroke-width="0.6"/>
<rect x="160.2" y="386.9" width="3.6" height="107.5" fill="url(#cb7)" stroke="#a8a8a8" stroke-width="0.5"/>
<g clip-path="url(#cliph)"><g filter="url(#blur3)">
<rect x="209.8" y="381.8" width="6.05" height="115" fill="url(#v206)"/>
<rect x="347.8" y="381.8" width="6" height="115" fill="url(#v230)"/>
<rect x="215.8" y="381.8" width="3.25" height="115" fill="url(#v206)"/>
<rect x="215.8" y="381.8" width="3.25" height="115" fill="url(#v231)" mask="url(#hramp2)"/>
<rect x="218.55" y="381.8" width="3.25" height="115" fill="url(#v231)"/>
<rect x="218.55" y="381.8" width="3.25" height="115" fill="url(#v207)" mask="url(#hramp2)"/>
<rect x="221.3" y="381.8" width="3.25" height="115" fill="url(#v207)"/>
<rect x="221.3" y="381.8" width="3.25" height="115" fill="url(#v232)" mask="url(#hramp2)"/>
<rect x="224.05" y="381.8" width="3.25" height="115" fill="url(#v232)"/>
<rect x="224.05" y="381.8" width="3.25" height="115" fill="url(#v208)" mask="url(#hramp2)"/>
<rect x="226.8" y="381.8" width="3.25" height="115" fill="url(#v208)"/>
<rect x="226.8" y="381.8" width="3.25" height="115" fill="url(#v233)" mask="url(#hramp2)"/>
<rect x="229.55" y="381.8" width="3.25" height="115" fill="url(#v233)"/>
<rect x="229.55" y="381.8" width="3.25" height="115" fill="url(#v209)" mask="url(#hramp2)"/>
<rect x="232.3" y="381.8" width="3.25" height="115" fill="url(#v209)"/>
<rect x="232.3" y="381.8" width="3.25" height="115" fill="url(#v234)" mask="url(#hramp2)"/>
<rect x="235.05" y="381.8" width="3.25" height="115" fill="url(#v234)"/>
<rect x="235.05" y="381.8" width="3.25" height="115" fill="url(#v210)" mask="url(#hramp2)"/>
<rect x="237.8" y="381.8" width="3.25" height="115" fill="url(#v210)"/>
<rect x="237.8" y="381.8" width="3.25" height="115" fill="url(#v235)" mask="url(#hramp2)"/>
<rect x="240.55" y="381.8" width="3.25" height="115" fill="url(#v235)"/>
<rect x="240.55" y="381.8" width="3.25" height="115" fill="url(#v211)" mask="url(#hramp2)"/>
<rect x="243.3" y="381.8" width="3.25" height="115" fill="url(#v211)"/>
<rect x="243.3" y="381.8" width="3.25" height="115" fill="url(#v236)" mask="url(#hramp2)"/>
<rect x="246.05" y="381.8" width="3.25" height="115" fill="url(#v236)"/>
<rect x="246.05" y="381.8" width="3.25" height="115" fill="url(#v212)" mask="url(#hramp2)"/>
<rect x="248.8" y="381.8" width="3.25" height="115" fill="url(#v212)"/>
<rect x="248.8" y="381.8" width="3.25" height="115" fill="url(#v237)" mask="url(#hramp2)"/>
<rect x="251.55" y="381.8" width="3.25" height="115" fill="url(#v237)"/>
<rect x="251.55" y="381.8" width="3.25" height="115" fill="url(#v213)" mask="url(#hramp2)"/>
<rect x="254.3" y="381.8" width="3.25" height="115" fill="url(#v213)"/>
<rect x="254.3" y="381.8" width="3.25" height="115" fill="url(#v238)" mask="url(#hramp2)"/>
<rect x="257.05" y="381.8" width="3.25" height="115" fill="url(#v238)"/>
<rect x="257.05" y="381.8" width="3.25" height="115" fill="url(#v214)" mask="url(#hramp2)"/>
<rect x="259.8" y="381.8" width="3.25" height="115" fill="url(#v214)"/>
<rect x="259.8" y="381.8" width="3.25" height="115" fill="url(#v239)" mask="url(#hramp2)"/>
<rect x="262.55" y="381.8" width="3.25" height="115" fill="url(#v239)"/>
<rect x="262.55" y="381.8" width="3.25" height="115" fill="url(#v215)" mask="url(#hramp2)"/>
<rect x="265.3" y="381.8" width="3.25" height="115" fill="url(#v215)"/>
<rect x="265.3" y="381.8" width="3.25" height="115" fill="url(#v240)" mask="url(#hramp2)"/>
<rect x="268.05" y="381.8" width="3.25" height="115" fill="url(#v240)"/>
<rect x="268.05" y="381.8" width="3.25" height="115" fill="url(#v216)" mask="url(#hramp2)"/>
<rect x="270.8" y="381.8" width="3.25" height="115" fill="url(#v216)"/>
<rect x="270.8" y="381.8" width="3.25" height="115" fill="url(#v241)" mask="url(#hramp2)"/>
<rect x="273.55" y="381.8" width="3.25" height="115" fill="url(#v241)"/>
<rect x="273.55" y="381.8" width="3.25" height="115" fill="url(#v217)" mask="url(#hramp2)"/>
<rect x="276.3" y="381.8" width="3.25" height="115" fill="url(#v217)"/>
<rect x="276.3" y="381.8" width="3.25" height="115" fill="url(#v242)" mask="url(#hramp2)"/>
<rect x="279.05" y="381.8" width="3.25" height="115" fill="url(#v242)"/>
<rect x="279.05" y="381.8" width="3.25" height="115" fill="url(#v218)" mask="url(#hramp2)"/>
<rect x="281.8" y="381.8" width="3.25" height="115" fill="url(#v218)"/>
<rect x="281.8" y="381.8" width="3.25" height="115" fill="url(#v243)" mask="url(#hramp2)"/>
<rect x="284.55" y="381.8" width="3.25" height="115" fill="url(#v243)"/>
<rect x="284.55" y="381.8" width="3.25" height="115" fill="url(#v219)" mask="url(#hramp2)"/>
<rect x="287.3" y="381.8" width="3.25" height="115" fill="url(#v219)"/>
<rect x="287.3" y="381.8" width="3.25" height="115" fill="url(#v244)" mask="url(#hramp2)"/>
<rect x="290.05" y="381.8" width="3.25" height="115" fill="url(#v244)"/>
<rect x="290.05" y="381.8" width="3.25" height="115" fill="url(#v220)" mask="url(#hramp2)"/>
<rect x="292.8" y="381.8" width="3.25" height="115" fill="url(#v220)"/>
<rect x="292.8" y="381.8" width="3.25" height="115" fill="url(#v245)" mask="url(#hramp2)"/>
<rect x="295.55" y="381.8" width="3.25" height="115" fill="url(#v245)"/>
<rect x="295.55" y="381.8" width="3.25" height="115" fill="url(#v221)" mask="url(#hramp2)"/>
<rect x="298.3" y="381.8" width="3.25" height="115" fill="url(#v221)"/>
<rect x="298.3" y="381.8" width="3.25" height="115" fill="url(#v246)" mask="url(#hramp2)"/>
<rect x="301.05" y="381.8" width="3.25" height="115" fill="url(#v246)"/>
<rect x="301.05" y="381.8" width="3.25" height="115" fill="url(#v222)" mask="url(#hramp2)"/>
<rect x="303.8" y="381.8" width="3.25" height="115" fill="url(#v222)"/>
<rect x="303.8" y="381.8" width="3.25" height="115" fill="url(#v247)" mask="url(#hramp2)"/>
<rect x="306.55" y="381.8" width="3.25" height="115" fill="url(#v247)"/>
<rect x="306.55" y="381.8" width="3.25" height="115" fill="url(#v223)" mask="url(#hramp2)"/>
<rect x="309.3" y="381.8" width="3.25" height="115" fill="url(#v223)"/>
<rect x="309.3" y="381.8" width="3.25" height="115" fill="url(#v248)" mask="url(#hramp2)"/>
<rect x="312.05" y="381.8" width="3.25" height="115" fill="url(#v248)"/>
<rect x="312.05" y="381.8" width="3.25" height="115" fill="url(#v224)" mask="url(#hramp2)"/>
<rect x="314.8" y="381.8" width="3.25" height="115" fill="url(#v224)"/>
<rect x="314.8" y="381.8" width="3.25" height="115" fill="url(#v249)" mask="url(#hramp2)"/>
<rect x="317.55" y="381.8" width="3.25" height="115" fill="url(#v249)"/>
<rect x="317.55" y="381.8" width="3.25" height="115" fill="url(#v225)" mask="url(#hramp2)"/>
<rect x="320.3" y="381.8" width="3.25" height="115" fill="url(#v225)"/>
<rect x="320.3" y="381.8" width="3.25" height="115" fill="url(#v250)" mask="url(#hramp2)"/>
<rect x="323.05" y="381.8" width="3.25" height="115" fill="url(#v250)"/>
<rect x="323.05" y="381.8" width="3.25" height="115" fill="url(#v226)" mask="url(#hramp2)"/>
<rect x="325.8" y="381.8" width="3.25" height="115" fill="url(#v226)"/>
<rect x="325.8" y="381.8" width="3.25" height="115" fill="url(#v251)" mask="url(#hramp2)"/>
<rect x="328.55" y="381.8" width="3.25" height="115" fill="url(#v251)"/>
<rect x="328.55" y="381.8" width="3.25" height="115" fill="url(#v227)" mask="url(#hramp2)"/>
<rect x="331.3" y="381.8" width="3.25" height="115" fill="url(#v227)"/>
<rect x="331.3" y="381.8" width="3.25" height="115" fill="url(#v252)" mask="url(#hramp2)"/>
<rect x="334.05" y="381.8" width="3.25" height="115" fill="url(#v252)"/>
<rect x="334.05" y="381.8" width="3.25" height="115" fill="url(#v228)" mask="url(#hramp2)"/>
<rect x="336.8" y="381.8" width="3.25" height="115" fill="url(#v228)"/>
<rect x="336.8" y="381.8" width="3.25" height="115" fill="url(#v253)" mask="url(#hramp2)"/>
<rect x="339.55" y="381.8" width="3.25" height="115" fill="url(#v253)"/>
<rect x="339.55" y="381.8" width="3.25" height="115" fill="url(#v229)" mask="url(#hramp2)"/>
<rect x="342.3" y="381.8" width="3.25" height="115" fill="url(#v229)"/>
<rect x="342.3" y="381.8" width="3.25" height="115" fill="url(#v254)" mask="url(#hramp2)"/>
<rect x="345.05" y="381.8" width="3.25" height="115" fill="url(#v254)"/>
<rect x="345.05" y="381.8" width="3.25" height="115" fill="url(#v230)" mask="url(#hramp2)"/>
</g></g>
<line x1="216.1" y1="385" x2="347.8" y2="385" stroke="#c8c8c8" stroke-width="0.6"/>
<rect x="342.8" y="385.4" width="3.5" height="107.6" fill="url(#cb8)" stroke="#a8a8a8" stroke-width="0.5"/>
<g clip-path="url(#clipi)"><g filter="url(#blur3)">
<rect x="392.5" y="383.3" width="6.05" height="114.9" fill="url(#v255)"/>
<rect x="530.5" y="383.3" width="6" height="114.9" fill="url(#v279)"/>
<rect x="398.5" y="383.3" width="3.25" height="114.9" fill="url(#v255)"/>
<rect x="398.5" y="383.3" width="3.25" height="114.9" fill="url(#v280)" mask="url(#hramp2)"/>
<rect x="401.25" y="383.3" width="3.25" height="114.9" fill="url(#v280)"/>
<rect x="401.25" y="383.3" width="3.25" height="114.9" fill="url(#v256)" mask="url(#hramp2)"/>
<rect x="404" y="383.3" width="3.25" height="114.9" fill="url(#v256)"/>
<rect x="404" y="383.3" width="3.25" height="114.9" fill="url(#v281)" mask="url(#hramp2)"/>
<rect x="406.75" y="383.3" width="3.25" height="114.9" fill="url(#v281)"/>
<rect x="406.75" y="383.3" width="3.25" height="114.9" fill="url(#v257)" mask="url(#hramp2)"/>
<rect x="409.5" y="383.3" width="3.25" height="114.9" fill="url(#v257)"/>
<rect x="409.5" y="383.3" width="3.25" height="114.9" fill="url(#v282)" mask="url(#hramp2)"/>
<rect x="412.25" y="383.3" width="3.25" height="114.9" fill="url(#v282)"/>
<rect x="412.25" y="383.3" width="3.25" height="114.9" fill="url(#v258)" mask="url(#hramp2)"/>
<rect x="415" y="383.3" width="3.25" height="114.9" fill="url(#v258)"/>
<rect x="415" y="383.3" width="3.25" height="114.9" fill="url(#v283)" mask="url(#hramp2)"/>
<rect x="417.75" y="383.3" width="3.25" height="114.9" fill="url(#v283)"/>
<rect x="417.75" y="383.3" width="3.25" height="114.9" fill="url(#v259)" mask="url(#hramp2)"/>
<rect x="420.5" y="383.3" width="3.25" height="114.9" fill="url(#v259)"/>
<rect x="420.5" y="383.3" width="3.25" height="114.9" fill="url(#v284)" mask="url(#hramp2)"/>
<rect x="423.25" y="383.3" width="3.25" height="114.9" fill="url(#v284)"/>
<rect x="423.25" y="383.3" width="3.25" height="114.9" fill="url(#v260)" mask="url(#hramp2)"/>
<rect x="426" y="383.3" width="3.25" height="114.9" fill="url(#v260)"/>
<rect x="426" y="383.3" width="3.25" height="114.9" fill="url(#v285)" mask="url(#hramp2)"/>
<rect x="428.75" y="383.3" width="3.25" height="114.9" fill="url(#v285)"/>
<rect x="428.75" y="383.3" width="3.25" height="114.9" fill="url(#v261)" mask="url(#hramp2)"/>
<rect x="431.5" y="383.3" width="3.25" height="114.9" fill="url(#v261)"/>
<rect x="431.5" y="383.3" width="3.25" height="114.9" fill="url(#v286)" mask="url(#hramp2)"/>
<rect x="434.25" y="383.3" width="3.25" height="114.9" fill="url(#v286)"/>
<rect x="434.25" y="383.3" width="3.25" height="114.9" fill="url(#v262)" mask="url(#hramp2)"/>
<rect x="437" y="383.3" width="3.25" height="114.9" fill="url(#v262)"/>
<rect x="437" y="383.3" width="3.25" height="114.9" fill="url(#v287)" mask="url(#hramp2)"/>
<rect x="439.75" y="383.3" width="3.25" height="114.9" fill="url(#v287)"/>
<rect x="439.75" y="383.3" width="3.25" height="114.9" fill="url(#v263)" mask="url(#hramp2)"/>
<rect x="442.5" y="383.3" width="3.25" height="114.9" fill="url(#v263)"/>
<rect x="442.5" y="383.3" width="3.25" height="114.9" fill="url(#v288)" mask="url(#hramp2)"/>
<rect x="445.25" y="383.3" width="3.25" height="114.9" fill="url(#v288)"/>
<rect x="445.25" y="383.3" width="3.25" height="114.9" fill="url(#v264)" mask="url(#hramp2)"/>
<rect x="448" y="383.3" width="3.25" height="114.9" fill="url(#v264)"/>
<rect x="448" y="383.3" width="3.25" height="114.9" fill="url(#v289)" mask="url(#hramp2)"/>
<rect x="450.75" y="383.3" width="3.25" height="114.9" fill="url(#v289)"/>
<rect x="450.75" y="383.3" width="3.25" height="114.9" fill="url(#v265)" mask="url(#hramp2)"/>
<rect x="453.5" y="383.3" width="3.25" height="114.9" fill="url(#v265)"/>
<rect x="453.5" y="383.3" width="3.25" height="114.9" fill="url(#v290)" mask="url(#hramp2)"/>
<rect x="456.25" y="383.3" width="3.25" height="114.9" fill="url(#v290)"/>
<rect x="456.25" y="383.3" width="3.25" height="114.9" fill="url(#v266)" mask="url(#hramp2)"/>
<rect x="459" y="383.3" width="3.25" height="114.9" fill="url(#v266)"/>
<rect x="459" y="383.3" width="3.25" height="114.9" fill="url(#v291)" mask="url(#hramp2)"/>
<rect x="461.75" y="383.3" width="3.25" height="114.9" fill="url(#v291)"/>
<rect x="461.75" y="383.3" width="3.25" height="114.9" fill="url(#v267)" mask="url(#hramp2)"/>
<rect x="464.5" y="383.3" width="3.25" height="114.9" fill="url(#v267)"/>
<rect x="464.5" y="383.3" width="3.25" height="114.9" fill="url(#v292)" mask="url(#hramp2)"/>
<rect x="467.25" y="383.3" width="3.25" height="114.9" fill="url(#v292)"/>
<rect x="467.25" y="383.3" width="3.25" height="114.9" fill="url(#v268)" mask="url(#hramp2)"/>
<rect x="470" y="383.3" width="3.25" height="114.9" fill="url(#v268)"/>
<rect x="470" y="383.3" width="3.25" height="114.9" fill="url(#v293)" mask="url(#hramp2)"/>
<rect x="472.75" y="383.3" width="3.25" height="114.9" fill="url(#v293)"/>
<rect x="472.75" y="383.3" width="3.25" height="114.9" fill="url(#v269)" mask="url(#hramp2)"/>
<rect x="475.5" y="383.3" width="3.25" height="114.9" fill="url(#v269)"/>
<rect x="475.5" y="383.3" width="3.25" height="114.9" fill="url(#v294)" mask="url(#hramp2)"/>
<rect x="478.25" y="383.3" width="3.25" height="114.9" fill="url(#v294)"/>
<rect x="478.25" y="383.3" width="3.25" height="114.9" fill="url(#v270)" mask="url(#hramp2)"/>
<rect x="481" y="383.3" width="3.25" height="114.9" fill="url(#v270)"/>
<rect x="481" y="383.3" width="3.25" height="114.9" fill="url(#v295)" mask="url(#hramp2)"/>
<rect x="483.75" y="383.3" width="3.25" height="114.9" fill="url(#v295)"/>
<rect x="483.75" y="383.3" width="3.25" height="114.9" fill="url(#v271)" mask="url(#hramp2)"/>
<rect x="486.5" y="383.3" width="3.25" height="114.9" fill="url(#v271)"/>
<rect x="486.5" y="383.3" width="3.25" height="114.9" fill="url(#v296)" mask="url(#hramp2)"/>
<rect x="489.25" y="383.3" width="3.25" height="114.9" fill="url(#v296)"/>
<rect x="489.25" y="383.3" width="3.25" height="114.9" fill="url(#v272)" mask="url(#hramp2)"/>
<rect x="492" y="383.3" width="3.25" height="114.9" fill="url(#v272)"/>
<rect x="492" y="383.3" width="3.25" height="114.9" fill="url(#v297)" mask="url(#hramp2)"/>
<rect x="494.75" y="383.3" width="3.25" height="114.9" fill="url(#v297)"/>
<rect x="494.75" y="383.3" width="3.25" height="114.9" fill="url(#v273)" mask="url(#hramp2)"/>
<rect x="497.5" y="383.3" width="3.25" height="114.9" fill="url(#v273)"/>
<rect x="497.5" y="383.3" width="3.25" height="114.9" fill="url(#v298)" mask="url(#hramp2)"/>
<rect x="500.25" y="383.3" width="3.25" height="114.9" fill="url(#v298)"/>
<rect x="500.25" y="383.3" width="3.25" height="114.9" fill="url(#v274)" mask="url(#hramp2)"/>
<rect x="503" y="383.3" width="3.25" height="114.9" fill="url(#v274)"/>
<rect x="503" y="383.3" width="3.25" height="114.9" fill="url(#v299)" mask="url(#hramp2)"/>
<rect x="505.75" y="383.3" width="3.25" height="114.9" fill="url(#v299)"/>
<rect x="505.75" y="383.3" width="3.25" height="114.9" fill="url(#v275)" mask="url(#hramp2)"/>
<rect x="508.5" y="383.3" width="3.25" height="114.9" fill="url(#v275)"/>
<rect x="508.5" y="383.3" width="3.25" height="114.9" fill="url(#v300)" mask="url(#hramp2)"/>
<rect x="511.25" y="383.3" width="3.25" height="114.9" fill="url(#v300)"/>
<rect x="511.25" y="383.3" width="3.25" height="114.9" fill="url(#v276)" mask="url(#hramp2)"/>
<rect x="514" y="383.3" width="3.25" height="114.9" fill="url(#v276)"/>
<rect x="514" y="383.3" width="3.25" height="114.9" fill="url(#v301)" mask="url(#hramp2)"/>
<rect x="516.75" y="383.3" width="3.25" height="114.9" fill="url(#v301)"/>
<rect x="516.75" y="383.3" width="3.25" height="114.9" fill="url(#v277)" mask="url(#hramp2)"/>
<rect x="519.5" y="383.3" width="3.25" height="114.9" fill="url(#v277)"/>
<rect x="519.5" y="383.3" width="3.25" height="114.9" fill="url(#v302)" mask="url(#hramp2)"/>
<rect x="522.25" y="383.3" width="3.25" height="114.9" fill="url(#v302)"/>
<rect x="522.25" y="383.3" width="3.25" height="114.9" fill="url(#v278)" mask="url(#hramp2)"/>
<rect x="525" y="383.3" width="3.25" height="114.9" fill="url(#v278)"/>
<rect x="525" y="383.3" width="3.25" height="114.9" fill="url(#v303)" mask="url(#hramp2)"/>
<rect x="527.75" y="383.3" width="3.25" height="114.9" fill="url(#v303)"/>
<rect x="527.75" y="383.3" width="3.25" height="114.9" fill="url(#v279)" mask="url(#hramp2)"/>
</g></g>
<line x1="398.7" y1="386.5" x2="530.5" y2="386.5" stroke="#c8c8c8" stroke-width="0.6"/>
<rect x="524.6" y="386.9" width="3.6" height="107.5" fill="url(#cb9)" stroke="#a8a8a8" stroke-width="0.5"/>
<rect x="312" y="224.9" width="6.8" height="9.7" fill="#f4fbff"/>
<rect x="314.9" y="225.9" width="1.4" height="1.6" fill="#4a9ee6"/>
<rect x="314.5" y="228.9" width="2" height="0.9" fill="#3fa3f0"/>
<rect x="314.9" y="231.7" width="1" height="1.1" fill="#5a7fe0"/>
<rect x="313" y="226.6" width="0.7" height="0.8" fill="#f0b0d0"/>
<rect x="313" y="231.6" width="0.7" height="0.8" fill="#e8b8d8"/>
<g filter="url(#tblur)">
<text x="48.2" y="164.9" font-size="15.5" font-weight="bold" font-family="'Liberation Serif', serif" fill="#000">(</text>
<text x="66.2" y="164.9" font-size="15.5" font-weight="bold" font-family="'Liberation Serif', serif" fill="#000" text-anchor="end">)</text>
<text x="57.2" y="165.4" font-size="12.8" font-weight="bold" font-family="'Liberation Serif', serif" fill="#000" text-anchor="middle">a</text>
<text x="69.2" y="165.4" font-size="12.4" font-family="'Liberation Serif', serif" fill="#000" textLength="26.5" lengthAdjust="spacingAndGlyphs">GBL,</text>
<text x="100.4" y="165.4" font-size="12.4" font-style="italic" font-family="'Liberation Serif', serif" fill="#000">N</text>
<text x="108.6" y="167.6" font-size="9" font-style="italic" font-family="'Liberation Serif', serif" fill="#000">p</text>
<text x="117" y="165.4" font-size="12.4" font-family="'Liberation Serif', serif" fill="#000" textLength="9.3" lengthAdjust="spacingAndGlyphs">=</text>
<text x="130.1" y="165.4" font-size="12.4" font-family="'Liberation Serif', serif" fill="#000">7</text>
<text x="228.2" y="164.9" font-size="15.5" font-weight="bold" font-family="'Liberation Serif', serif" fill="#000">(</text>
<text x="248.3" y="164.9" font-size="15.5" font-weight="bold" font-family="'Liberation Serif', serif" fill="#000" text-anchor="end">)</text>
<text x="238.25" y="165.4" font-size="12.8" font-weight="bold" font-family="'Liberation Serif', serif" fill="#000" text-anchor="middle">b</text>
<text x="250.6" y="165.4" font-size="12.4" font-family="'Liberation Serif', serif" fill="#000" textLength="26.9" lengthAdjust="spacingAndGlyphs">GBL,</text>
<text x="281.7" y="165.4" font-size="12.4" font-style="italic" font-family="'Liberation Serif', serif" fill="#000">N</text>
<text x="289.9" y="167.6" font-size="9" font-style="italic" font-family="'Liberation Serif', serif" fill="#000">p</text>
<text x="298.8" y="165.4" font-size="12.4" font-family="'Liberation Serif', serif" fill="#000" textLength="9.3" lengthAdjust="spacingAndGlyphs">=</text>
<text x="311.9" y="165.4" font-size="12.4" font-family="'Liberation Serif', serif" fill="#000">9</text>
<text x="411.1" y="164.9" font-size="15.5" font-weight="bold" font-family="'Liberation Serif', serif" fill="#000">(</text>
<text x="426.8" y="164.9" font-size="15.5" font-weight="bold" font-family="'Liberation Serif', serif" fill="#000" text-anchor="end">)</text>
<text x="418.95" y="165.4" font-size="12.8" font-weight="bold" font-family="'Liberation Serif', serif" fill="#000" text-anchor="middle">c</text>
<text x="429.5" y="165.4" font-size="12.4" font-family="'Liberation Serif', serif" fill="#000" textLength="27.3" lengthAdjust="spacingAndGlyphs">GBL,</text>
<text x="460.9" y="165.4" font-size="12.4" font-style="italic" font-family="'Liberation Serif', serif" fill="#000">N</text>
<text x="469.1" y="167.6" font-size="9" font-style="italic" font-family="'Liberation Serif', serif" fill="#000">p</text>
<text x="479.8" y="165.4" font-size="12.4" font-family="'Liberation Serif', serif" fill="#000" textLength="9.3" lengthAdjust="spacingAndGlyphs">=</text>
<text x="492.4" y="165.4" font-size="12.4" font-family="'Liberation Serif', serif" fill="#000">11</text>
<text x="43.4" y="352.6" font-size="15.5" font-weight="bold" font-family="'Liberation Serif', serif" fill="#000">(</text>
<text x="63" y="352.6" font-size="15.5" font-weight="bold" font-family="'Liberation Serif', serif" fill="#000" text-anchor="end">)</text>
<text x="53.2" y="353.1" font-size="12.8" font-weight="bold" font-family="'Liberation Serif', serif" fill="#000" text-anchor="middle">d</text>
<text x="66.4" y="353.1" font-size="12.4" font-family="'Liberation Serif', serif" fill="#000" textLength="29.8" lengthAdjust="spacingAndGlyphs">HHO,</text>
<text x="101.5" y="353.1" font-size="12.4" font-style="italic" font-family="'Liberation Serif', serif" fill="#000">N</text>
<text x="109.7" y="355.3" font-size="9" font-style="italic" font-family="'Liberation Serif', serif" fill="#000">p</text>
<text x="120.4" y="353.1" font-size="12.4" font-family="'Liberation Serif', serif" fill="#000" textLength="9.4" lengthAdjust="spacingAndGlyphs">=</text>
<text x="132.4" y="353.1" font-size="12.4" font-family="'Liberation Serif', serif" fill="#000">7</text>
<text x="228.5" y="352.6" font-size="15.5" font-weight="bold" font-family="'Liberation Serif', serif" fill="#000">(</text>
<text x="245.8" y="352.6" font-size="15.5" font-weight="bold" font-family="'Liberation Serif', serif" fill="#000" text-anchor="end">)</text>
<text x="237.15" y="353.1" font-size="12.8" font-weight="bold" font-family="'Liberation Serif', serif" fill="#000" text-anchor="middle">e</text>
<text x="248.7" y="353.1" font-size="12.4" font-family="'Liberation Serif', serif" fill="#000" textLength="30.4" lengthAdjust="spacingAndGlyphs">HHO,</text>
<text x="284.2" y="353.1" font-size="12.4" font-style="italic" font-family="'Liberation Serif', serif" fill="#000">N</text>
<text x="292.4" y="355.3" font-size="9" font-style="italic" font-family="'Liberation Serif', serif" fill="#000">p</text>
<text x="303.5" y="353.1" font-size="12.4" font-family="'Liberation Serif', serif" fill="#000" textLength="8.6" lengthAdjust="spacingAndGlyphs">=</text>
<text x="315.6" y="353.1" font-size="12.4" font-family="'Liberation Serif', serif" fill="#000">9</text>
<text x="408.5" y="352.6" font-size="15.5" font-weight="bold" font-family="'Liberation Serif', serif" fill="#000">(</text>
<text x="424.8" y="352.6" font-size="15.5" font-weight="bold" font-family="'Liberation Serif', serif" fill="#000" text-anchor="end">)</text>
<text x="416.65" y="353.1" font-size="12.8" font-weight="bold" font-family="'Liberation Serif', serif" fill="#000" text-anchor="middle">f</text>
<text x="427" y="353.1" font-size="12.4" font-family="'Liberation Serif', serif" fill="#000" textLength="30.1" lengthAdjust="spacingAndGlyphs">HHO,</text>
<text x="461.6" y="353.1" font-size="12.4" font-style="italic" font-family="'Liberation Serif', serif" fill="#000">N</text>
<text x="469.8" y="355.3" font-size="9" font-style="italic" font-family="'Liberation Serif', serif" fill="#000">p</text>
<text x="481.4" y="353.1" font-size="12.4" font-family="'Liberation Serif', serif" fill="#000" textLength="9.7" lengthAdjust="spacingAndGlyphs">=</text>
<text x="493.5" y="353.1" font-size="12.4" font-family="'Liberation Serif', serif" fill="#000">11</text>
<text x="30.3" y="541.4" font-size="15.5" font-weight="bold" font-family="'Liberation Serif', serif" fill="#000">(</text>
<text x="47.7" y="541.4" font-size="15.5" font-weight="bold" font-family="'Liberation Serif', serif" fill="#000" text-anchor="end">)</text>
<text x="39" y="541.9" font-size="12.8" font-weight="bold" font-family="'Liberation Serif', serif" fill="#000" text-anchor="middle">g</text>
<text x="51.7" y="541.9" font-size="12.4" font-family="'Liberation Serif', serif" fill="#000" textLength="61.2" lengthAdjust="spacingAndGlyphs">GBL–HHO,</text>
<text x="117.5" y="541.9" font-size="12.4" font-style="italic" font-family="'Liberation Serif', serif" fill="#000">N</text>
<text x="125.7" y="544.1" font-size="9" font-style="italic" font-family="'Liberation Serif', serif" fill="#000">p</text>
<text x="136.2" y="541.9" font-size="12.4" font-family="'Liberation Serif', serif" fill="#000" textLength="9.5" lengthAdjust="spacingAndGlyphs">=</text>
<text x="149.4" y="541.9" font-size="12.4" font-family="'Liberation Serif', serif" fill="#000">7</text>
<text x="211.8" y="541.4" font-size="15.5" font-weight="bold" font-family="'Liberation Serif', serif" fill="#000">(</text>
<text x="232.1" y="541.4" font-size="15.5" font-weight="bold" font-family="'Liberation Serif', serif" fill="#000" text-anchor="end">)</text>
<text x="221.95" y="541.9" font-size="12.8" font-weight="bold" font-family="'Liberation Serif', serif" fill="#000" text-anchor="middle">h</text>
<text x="234.8" y="541.9" font-size="12.4" font-family="'Liberation Serif', serif" fill="#000" textLength="60.8" lengthAdjust="spacingAndGlyphs">GBL–HHO,</text>
<text x="300.2" y="541.9" font-size="12.4" font-style="italic" font-family="'Liberation Serif', serif" fill="#000">N</text>
<text x="308.4" y="544.1" font-size="9" font-style="italic" font-family="'Liberation Serif', serif" fill="#000">p</text>
<text x="319" y="541.9" font-size="12.4" font-family="'Liberation Serif', serif" fill="#000" textLength="9.4" lengthAdjust="spacingAndGlyphs">=</text>
<text x="331.4" y="541.9" font-size="12.4" font-family="'Liberation Serif', serif" fill="#000">9</text>
<text x="393.8" y="541.4" font-size="15.5" font-weight="bold" font-family="'Liberation Serif', serif" fill="#000">(</text>
<text x="409.3" y="541.4" font-size="15.5" font-weight="bold" font-family="'Liberation Serif', serif" fill="#000" text-anchor="end">)</text>
<text x="401.55" y="541.9" font-size="12.8" font-weight="bold" font-family="'Liberation Serif', serif" fill="#000" text-anchor="middle">i</text>
<text x="412.8" y="541.9" font-size="12.4" font-family="'Liberation Serif', serif" fill="#000" textLength="60.5" lengthAdjust="spacingAndGlyphs">GBL–HHO,</text>
<text x="477.9" y="541.9" font-size="12.4" font-style="italic" font-family="'Liberation Serif', serif" fill="#000">N</text>
<text x="486.1" y="544.1" font-size="9" font-style="italic" font-family="'Liberation Serif', serif" fill="#000">p</text>
<text x="496.7" y="541.9" font-size="12.4" font-family="'Liberation Serif', serif" fill="#000" textLength="9.6" lengthAdjust="spacingAndGlyphs">=</text>
<text x="509.1" y="541.9" font-size="12.4" font-family="'Liberation Serif', serif" fill="#000">11</text>
<text x="38.2" y="12.04" font-size="10.1" font-family="'DejaVu Sans', 'Liberation Sans', sans-serif" text-anchor="end" fill="#262626">100</text>
<text x="38.2" y="34.04" font-size="10.1" font-family="'DejaVu Sans', 'Liberation Sans', sans-serif" text-anchor="end" fill="#262626">80</text>
<text x="38.2" y="56.04" font-size="10.1" font-family="'DejaVu Sans', 'Liberation Sans', sans-serif" text-anchor="end" fill="#262626">60</text>
<text x="38.2" y="78.04" font-size="10.1" font-family="'DejaVu Sans', 'Liberation Sans', sans-serif" text-anchor="end" fill="#262626">40</text>
<text x="38.2" y="100.04" font-size="10.1" font-family="'DejaVu Sans', 'Liberation Sans', sans-serif" text-anchor="end" fill="#262626">20</text>
<text x="64.3" y="130.64" font-size="10.1" font-family="'DejaVu Sans', 'Liberation Sans', sans-serif" text-anchor="middle" fill="#262626">20</text>
<text x="89.5" y="130.64" font-size="10.1" font-family="'DejaVu Sans', 'Liberation Sans', sans-serif" text-anchor="middle" fill="#262626">40</text>
<text x="114.7" y="130.64" font-size="10.1" font-family="'DejaVu Sans', 'Liberation Sans', sans-serif" text-anchor="middle" fill="#262626">60</text>
<text x="139.9" y="130.64" font-size="10.1" font-family="'DejaVu Sans', 'Liberation Sans', sans-serif" text-anchor="middle" fill="#262626">80</text>
<text x="165.1" y="130.64" font-size="10.1" font-family="'DejaVu Sans', 'Liberation Sans', sans-serif" text-anchor="middle" fill="#262626">100</text>
<text x="102.95" y="144.5" font-size="11.4" font-family="'DejaVu Sans', 'Liberation Sans', sans-serif" text-anchor="middle" fill="#262626">initial conditions</text>
<text x="0" y="0" font-size="11.5" font-family="'DejaVu Sans', 'Liberation Sans', sans-serif" text-anchor="middle" fill="#262626" transform="translate(14.9,64) rotate(-90)">iteration (t)</text>
<text x="158.3" y="17.28" font-size="9.4" font-family="'DejaVu Sans', 'Liberation Sans', sans-serif" text-anchor="end" fill="#262626">0.928</text>
<text x="158.3" y="30.78" font-size="9.4" font-family="'DejaVu Sans', 'Liberation Sans', sans-serif" text-anchor="end" fill="#262626">0.8</text>
<text x="158.3" y="44.28" font-size="9.4" font-family="'DejaVu Sans', 'Liberation Sans', sans-serif" text-anchor="end" fill="#262626">0.7</text>
<text x="158.3" y="57.18" font-size="9.4" font-family="'DejaVu Sans', 'Liberation Sans', sans-serif" text-anchor="end" fill="#262626">0.6</text>
<text x="158.3" y="70.28" font-size="9.4" font-family="'DejaVu Sans', 'Liberation Sans', sans-serif" text-anchor="end" fill="#262626">0.5</text>
<text x="158.3" y="84.48" font-size="9.4" font-family="'DejaVu Sans', 'Liberation Sans', sans-serif" text-anchor="end" fill="#262626">0.4</text>
<text x="158.3" y="96.88" font-size="9.4" font-family="'DejaVu Sans', 'Liberation Sans', sans-serif" text-anchor="end" fill="#262626">0.3</text>
<text x="158.3" y="110.48" font-size="9.4" font-family="'DejaVu Sans', 'Liberation Sans', sans-serif" text-anchor="end" fill="#262626">0.2</text>
<text x="220.5" y="12.04" font-size="10.1" font-family="'DejaVu Sans', 'Liberation Sans', sans-serif" text-anchor="end" fill="#262626">100</text>
<text x="220.5" y="34.04" font-size="10.1" font-family="'DejaVu Sans', 'Liberation Sans', sans-serif" text-anchor="end" fill="#262626">80</text>
<text x="220.5" y="56.04" font-size="10.1" font-family="'DejaVu Sans', 'Liberation Sans', sans-serif" text-anchor="end" fill="#262626">60</text>
<text x="220.5" y="78.04" font-size="10.1" font-family="'DejaVu Sans', 'Liberation Sans', sans-serif" text-anchor="end" fill="#262626">40</text>
<text x="220.5" y="100.04" font-size="10.1" font-family="'DejaVu Sans', 'Liberation Sans', sans-serif" text-anchor="end" fill="#262626">20</text>
<text x="246.6" y="130.64" font-size="10.1" font-family="'DejaVu Sans', 'Liberation Sans', sans-serif" text-anchor="middle" fill="#262626">20</text>
<text x="271.8" y="130.64" font-size="10.1" font-family="'DejaVu Sans', 'Liberation Sans', sans-serif" text-anchor="middle" fill="#262626">40</text>
<text x="297" y="130.64" font-size="10.1" font-family="'DejaVu Sans', 'Liberation Sans', sans-serif" text-anchor="middle" fill="#262626">60</text>
<text x="322.2" y="130.64" font-size="10.1" font-family="'DejaVu Sans', 'Liberation Sans', sans-serif" text-anchor="middle" fill="#262626">80</text>
<text x="347.4" y="130.64" font-size="10.1" font-family="'DejaVu Sans', 'Liberation Sans', sans-serif" text-anchor="middle" fill="#262626">100</text>
<text x="285.25" y="144.5" font-size="11.4" font-family="'DejaVu Sans', 'Liberation Sans', sans-serif" text-anchor="middle" fill="#262626">initial conditions</text>
<text x="0" y="0" font-size="11.5" font-family="'DejaVu Sans', 'Liberation Sans', sans-serif" text-anchor="middle" fill="#262626" transform="translate(198,64) rotate(-90)">iteration (t)</text>
<text x="341.1" y="14.28" font-size="9.4" font-family="'DejaVu Sans', 'Liberation Sans', sans-serif" text-anchor="end" fill="#262626">0.98</text>
<text x="341.1" y="35.48" font-size="9.4" font-family="'DejaVu Sans', 'Liberation Sans', sans-serif" text-anchor="end" fill="#262626">0.8</text>
<text x="341.1" y="58.78" font-size="9.4" font-family="'DejaVu Sans', 'Liberation Sans', sans-serif" text-anchor="end" fill="#262626">0.6</text>
<text x="341.1" y="81.98" font-size="9.4" font-family="'DejaVu Sans', 'Liberation Sans', sans-serif" text-anchor="end" fill="#262626">0.4</text>
<text x="341.1" y="105.28" font-size="9.4" font-family="'DejaVu Sans', 'Liberation Sans', sans-serif" text-anchor="end" fill="#262626">0.2</text>
<text x="402.3" y="12.04" font-size="10.1" font-family="'DejaVu Sans', 'Liberation Sans', sans-serif" text-anchor="end" fill="#262626">100</text>
<text x="402.3" y="34.04" font-size="10.1" font-family="'DejaVu Sans', 'Liberation Sans', sans-serif" text-anchor="end" fill="#262626">80</text>
<text x="402.3" y="56.04" font-size="10.1" font-family="'DejaVu Sans', 'Liberation Sans', sans-serif" text-anchor="end" fill="#262626">60</text>
<text x="402.3" y="78.04" font-size="10.1" font-family="'DejaVu Sans', 'Liberation Sans', sans-serif" text-anchor="end" fill="#262626">40</text>
<text x="402.3" y="100.04" font-size="10.1" font-family="'DejaVu Sans', 'Liberation Sans', sans-serif" text-anchor="end" fill="#262626">20</text>
<text x="428.4" y="130.64" font-size="10.1" font-family="'DejaVu Sans', 'Liberation Sans', sans-serif" text-anchor="middle" fill="#262626">20</text>
<text x="453.6" y="130.64" font-size="10.1" font-family="'DejaVu Sans', 'Liberation Sans', sans-serif" text-anchor="middle" fill="#262626">40</text>
<text x="478.8" y="130.64" font-size="10.1" font-family="'DejaVu Sans', 'Liberation Sans', sans-serif" text-anchor="middle" fill="#262626">60</text>
<text x="504" y="130.64" font-size="10.1" font-family="'DejaVu Sans', 'Liberation Sans', sans-serif" text-anchor="middle" fill="#262626">80</text>
<text x="529.2" y="130.64" font-size="10.1" font-family="'DejaVu Sans', 'Liberation Sans', sans-serif" text-anchor="middle" fill="#262626">100</text>
<text x="467.05" y="144.5" font-size="11.4" font-family="'DejaVu Sans', 'Liberation Sans', sans-serif" text-anchor="middle" fill="#262626">initial conditions</text>
<text x="0" y="0" font-size="11.5" font-family="'DejaVu Sans', 'Liberation Sans', sans-serif" text-anchor="middle" fill="#262626" transform="translate(379.8,64) rotate(-90)">iteration (t)</text>
<text x="522.6" y="13.58" font-size="9.4" font-family="'DejaVu Sans', 'Liberation Sans', sans-serif" text-anchor="end" fill="#262626">0.984</text>
<text x="522.6" y="23.38" font-size="9.4" font-family="'DejaVu Sans', 'Liberation Sans', sans-serif" text-anchor="end" fill="#262626">0.89</text>
<text x="522.6" y="33.88" font-size="9.4" font-family="'DejaVu Sans', 'Liberation Sans', sans-serif" text-anchor="end" fill="#262626">0.8</text>
<text x="522.6" y="45.28" font-size="9.4" font-family="'DejaVu Sans', 'Liberation Sans', sans-serif" text-anchor="end" fill="#262626">0.7</text>
<text x="522.6" y="56.18" font-size="9.4" font-family="'DejaVu Sans', 'Liberation Sans', sans-serif" text-anchor="end" fill="#262626">0.6</text>
<text x="522.6" y="67.68" font-size="9.4" font-family="'DejaVu Sans', 'Liberation Sans', sans-serif" text-anchor="end" fill="#262626">0.5</text>
<text x="522.6" y="79.08" font-size="9.4" font-family="'DejaVu Sans', 'Liberation Sans', sans-serif" text-anchor="end" fill="#262626">0.4</text>
<text x="522.6" y="90.58" font-size="9.4" font-family="'DejaVu Sans', 'Liberation Sans', sans-serif" text-anchor="end" fill="#262626">0.3</text>
<text x="522.6" y="101.98" font-size="9.4" font-family="'DejaVu Sans', 'Liberation Sans', sans-serif" text-anchor="end" fill="#262626">0.2</text>
<text x="522.6" y="112.88" font-size="9.4" font-family="'DejaVu Sans', 'Liberation Sans', sans-serif" text-anchor="end" fill="#262626">0.1</text>
<text x="35" y="201.84" font-size="10.1" font-family="'Liberation Sans', Arial, sans-serif" text-anchor="end" fill="#262626">100</text>
<text x="35" y="223.82" font-size="10.1" font-family="'Liberation Sans', Arial, sans-serif" text-anchor="end" fill="#262626">80</text>
<text x="35" y="245.8" font-size="10.1" font-family="'Liberation Sans', Arial, sans-serif" text-anchor="end" fill="#262626">60</text>
<text x="35" y="267.78" font-size="10.1" font-family="'Liberation Sans', Arial, sans-serif" text-anchor="end" fill="#262626">40</text>
<text x="35" y="289.76" font-size="10.1" font-family="'Liberation Sans', Arial, sans-serif" text-anchor="end" fill="#262626">20</text>
<text x="60.8" y="319.14" font-size="10.1" font-family="'Liberation Sans', Arial, sans-serif" text-anchor="middle" fill="#262626">5</text>
<text x="86.8" y="319.14" font-size="10.1" font-family="'Liberation Sans', Arial, sans-serif" text-anchor="middle" fill="#262626">10</text>
<text x="112.8" y="319.14" font-size="10.1" font-family="'Liberation Sans', Arial, sans-serif" text-anchor="middle" fill="#262626">15</text>
<text x="138.8" y="319.14" font-size="10.1" font-family="'Liberation Sans', Arial, sans-serif" text-anchor="middle" fill="#262626">20</text>
<text x="164.8" y="319.14" font-size="10.1" font-family="'Liberation Sans', Arial, sans-serif" text-anchor="middle" fill="#262626">25</text>
<text x="95.6" y="331.8" font-size="11.4" font-family="'Liberation Sans', Arial, sans-serif" text-anchor="middle" fill="#262626">HHO initial conditions</text>
<text x="0" y="0" font-size="11.6" font-family="'Liberation Sans', Arial, sans-serif" text-anchor="middle" fill="#262626" transform="translate(14,257) rotate(-90)">iteration t</text>
<text x="155.3" y="204.04" font-size="10.4" font-family="'Liberation Sans', Arial, sans-serif" text-anchor="end" fill="#262626">0.94</text>
<text x="155.3" y="226.54" font-size="10.4" font-family="'Liberation Sans', Arial, sans-serif" text-anchor="end" fill="#262626">0.8</text>
<text x="155.3" y="241.84" font-size="10.4" font-family="'Liberation Sans', Arial, sans-serif" text-anchor="end" fill="#262626">0.7</text>
<text x="155.3" y="257.54" font-size="10.4" font-family="'Liberation Sans', Arial, sans-serif" text-anchor="end" fill="#262626">0.6</text>
<text x="155.3" y="272.84" font-size="10.4" font-family="'Liberation Sans', Arial, sans-serif" text-anchor="end" fill="#262626">0.5</text>
<text x="155.3" y="288.64" font-size="10.4" font-family="'Liberation Sans', Arial, sans-serif" text-anchor="end" fill="#262626">0.4</text>
<text x="155.3" y="303.44" font-size="10.4" font-family="'Liberation Sans', Arial, sans-serif" text-anchor="end" fill="#262626">0.3</text>
<text x="217.3" y="201.84" font-size="10.1" font-family="'Liberation Sans', Arial, sans-serif" text-anchor="end" fill="#262626">100</text>
<text x="217.3" y="223.82" font-size="10.1" font-family="'Liberation Sans', Arial, sans-serif" text-anchor="end" fill="#262626">80</text>
<text x="217.3" y="245.8" font-size="10.1" font-family="'Liberation Sans', Arial, sans-serif" text-anchor="end" fill="#262626">60</text>
<text x="217.3" y="267.78" font-size="10.1" font-family="'Liberation Sans', Arial, sans-serif" text-anchor="end" fill="#262626">40</text>
<text x="217.3" y="289.76" font-size="10.1" font-family="'Liberation Sans', Arial, sans-serif" text-anchor="end" fill="#262626">20</text>
<text x="243.1" y="319.14" font-size="10.1" font-family="'Liberation Sans', Arial, sans-serif" text-anchor="middle" fill="#262626">5</text>
<text x="269.1" y="319.14" font-size="10.1" font-family="'Liberation Sans', Arial, sans-serif" text-anchor="middle" fill="#262626">10</text>
<text x="295.1" y="319.14" font-size="10.1" font-family="'Liberation Sans', Arial, sans-serif" text-anchor="middle" fill="#262626">15</text>
<text x="321.1" y="319.14" font-size="10.1" font-family="'Liberation Sans', Arial, sans-serif" text-anchor="middle" fill="#262626">20</text>
<text x="347.1" y="319.14" font-size="10.1" font-family="'Liberation Sans', Arial, sans-serif" text-anchor="middle" fill="#262626">25</text>
<text x="277.9" y="331.8" font-size="11.4" font-family="'Liberation Sans', Arial, sans-serif" text-anchor="middle" fill="#262626">HHO initial conditions</text>
<text x="0" y="0" font-size="11.6" font-family="'Liberation Sans', Arial, sans-serif" text-anchor="middle" fill="#262626" transform="translate(197.1,257) rotate(-90)">iteration (t)</text>
<text x="337.9" y="203.44" font-size="10.4" font-family="'Liberation Sans', Arial, sans-serif" text-anchor="end" fill="#262626">0.938</text>
<text x="337.9" y="225.94" font-size="10.4" font-family="'Liberation Sans', Arial, sans-serif" text-anchor="end" fill="#262626">0.8</text>
<text x="337.9" y="241.24" font-size="10.4" font-family="'Liberation Sans', Arial, sans-serif" text-anchor="end" fill="#262626">0.7</text>
<text x="337.9" y="257.14" font-size="10.4" font-family="'Liberation Sans', Arial, sans-serif" text-anchor="end" fill="#262626">0.6</text>
<text x="337.9" y="272.84" font-size="10.4" font-family="'Liberation Sans', Arial, sans-serif" text-anchor="end" fill="#262626">0.5</text>
<text x="337.9" y="288.64" font-size="10.4" font-family="'Liberation Sans', Arial, sans-serif" text-anchor="end" fill="#262626">0.4</text>
<text x="337.9" y="304.14" font-size="10.4" font-family="'Liberation Sans', Arial, sans-serif" text-anchor="end" fill="#262626">0.3</text>
<text x="399.5" y="201.84" font-size="10.1" font-family="'Liberation Sans', Arial, sans-serif" text-anchor="end" fill="#262626">100</text>
<text x="399.5" y="223.82" font-size="10.1" font-family="'Liberation Sans', Arial, sans-serif" text-anchor="end" fill="#262626">80</text>
<text x="399.5" y="245.8" font-size="10.1" font-family="'Liberation Sans', Arial, sans-serif" text-anchor="end" fill="#262626">60</text>
<text x="399.5" y="267.78" font-size="10.1" font-family="'Liberation Sans', Arial, sans-serif" text-anchor="end" fill="#262626">40</text>
<text x="399.5" y="289.76" font-size="10.1" font-family="'Liberation Sans', Arial, sans-serif" text-anchor="end" fill="#262626">20</text>
<text x="425.3" y="319.14" font-size="10.1" font-family="'Liberation Sans', Arial, sans-serif" text-anchor="middle" fill="#262626">5</text>
<text x="451.3" y="319.14" font-size="10.1" font-family="'Liberation Sans', Arial, sans-serif" text-anchor="middle" fill="#262626">10</text>
<text x="477.3" y="319.14" font-size="10.1" font-family="'Liberation Sans', Arial, sans-serif" text-anchor="middle" fill="#262626">15</text>
<text x="503.3" y="319.14" font-size="10.1" font-family="'Liberation Sans', Arial, sans-serif" text-anchor="middle" fill="#262626">20</text>
<text x="529.3" y="319.14" font-size="10.1" font-family="'Liberation Sans', Arial, sans-serif" text-anchor="middle" fill="#262626">25</text>
<text x="460.1" y="331.8" font-size="11.4" font-family="'Liberation Sans', Arial, sans-serif" text-anchor="middle" fill="#262626">HHO initial conditions</text>
<text x="0" y="0" font-size="11.6" font-family="'Liberation Sans', Arial, sans-serif" text-anchor="middle" fill="#262626" transform="translate(379.5,257) rotate(-90)">iteration (t)</text>
<text x="520.6" y="204.74" font-size="10.4" font-family="'Liberation Sans', Arial, sans-serif" text-anchor="end" fill="#262626">0.754</text>
<text x="520.6" y="213.94" font-size="10.4" font-family="'Liberation Sans', Arial, sans-serif" text-anchor="end" fill="#262626">0.7</text>
<text x="520.6" y="229.64" font-size="10.4" font-family="'Liberation Sans', Arial, sans-serif" text-anchor="end" fill="#262626">0.6</text>
<text x="520.6" y="246.04" font-size="10.4" font-family="'Liberation Sans', Arial, sans-serif" text-anchor="end" fill="#262626">0.5</text>
<text x="520.6" y="261.94" font-size="10.4" font-family="'Liberation Sans', Arial, sans-serif" text-anchor="end" fill="#262626">0.4</text>
<text x="520.6" y="278.34" font-size="10.4" font-family="'Liberation Sans', Arial, sans-serif" text-anchor="end" fill="#262626">0.3</text>
<text x="520.6" y="294.74" font-size="10.4" font-family="'Liberation Sans', Arial, sans-serif" text-anchor="end" fill="#262626">0.2</text>
<text x="29.1" y="390.24" font-size="10.1" font-family="'Liberation Sans', Arial, sans-serif" text-anchor="end" fill="#262626">50</text>
<text x="29.1" y="412.44" font-size="10.1" font-family="'Liberation Sans', Arial, sans-serif" text-anchor="end" fill="#262626">40</text>
<text x="29.1" y="434.64" font-size="10.1" font-family="'Liberation Sans', Arial, sans-serif" text-anchor="end" fill="#262626">30</text>
<text x="29.1" y="456.84" font-size="10.1" font-family="'Liberation Sans', Arial, sans-serif" text-anchor="end" fill="#262626">20</text>
<text x="29.1" y="479.04" font-size="10.1" font-family="'Liberation Sans', Arial, sans-serif" text-anchor="end" fill="#262626">10</text>
<text x="54.8" y="508.04" font-size="10.1" font-family="'Liberation Sans', Arial, sans-serif" text-anchor="middle" fill="#262626">5</text>
<text x="82.3" y="508.04" font-size="10.1" font-family="'Liberation Sans', Arial, sans-serif" text-anchor="middle" fill="#262626">10</text>
<text x="109.8" y="508.04" font-size="10.1" font-family="'Liberation Sans', Arial, sans-serif" text-anchor="middle" fill="#262626">15</text>
<text x="137.3" y="508.04" font-size="10.1" font-family="'Liberation Sans', Arial, sans-serif" text-anchor="middle" fill="#262626">20</text>
<text x="164.8" y="508.04" font-size="10.1" font-family="'Liberation Sans', Arial, sans-serif" text-anchor="middle" fill="#262626">25</text>
<text x="92.6" y="521.1" font-size="11.4" font-family="'Liberation Sans', Arial, sans-serif" text-anchor="middle" fill="#262626">HHO initial conditions</text>
<text x="0" y="0" font-size="11.8" font-family="'Liberation Sans', Arial, sans-serif" text-anchor="middle" fill="#262626" transform="translate(13.7,445.9) rotate(-90)">iteration (t)</text>
<text x="155.8" y="391.29" font-size="9.7" font-family="'Liberation Sans', Arial, sans-serif" text-anchor="end" fill="#262626">0.938</text>
<text x="155.8" y="403.99" font-size="9.7" font-family="'Liberation Sans', Arial, sans-serif" text-anchor="end" fill="#262626">0.92</text>
<text x="155.8" y="418.19" font-size="9.7" font-family="'Liberation Sans', Arial, sans-serif" text-anchor="end" fill="#262626">0.9</text>
<text x="155.8" y="431.69" font-size="9.7" font-family="'Liberation Sans', Arial, sans-serif" text-anchor="end" fill="#262626">0.88</text>
<text x="155.8" y="445.49" font-size="9.7" font-family="'Liberation Sans', Arial, sans-serif" text-anchor="end" fill="#262626">0.86</text>
<text x="155.8" y="458.99" font-size="9.7" font-family="'Liberation Sans', Arial, sans-serif" text-anchor="end" fill="#262626">0.84</text>
<text x="155.8" y="472.79" font-size="9.7" font-family="'Liberation Sans', Arial, sans-serif" text-anchor="end" fill="#262626">0.82</text>
<text x="155.8" y="486.99" font-size="9.7" font-family="'Liberation Sans', Arial, sans-serif" text-anchor="end" fill="#262626">0.8</text>
<text x="211.6" y="388.84" font-size="10.1" font-family="'Liberation Sans', Arial, sans-serif" text-anchor="end" fill="#262626">50</text>
<text x="211.6" y="411.04" font-size="10.1" font-family="'Liberation Sans', Arial, sans-serif" text-anchor="end" fill="#262626">40</text>
<text x="211.6" y="433.24" font-size="10.1" font-family="'Liberation Sans', Arial, sans-serif" text-anchor="end" fill="#262626">30</text>
<text x="211.6" y="455.44" font-size="10.1" font-family="'Liberation Sans', Arial, sans-serif" text-anchor="end" fill="#262626">20</text>
<text x="211.6" y="477.64" font-size="10.1" font-family="'Liberation Sans', Arial, sans-serif" text-anchor="end" fill="#262626">10</text>
<text x="237.3" y="508.04" font-size="10.1" font-family="'Liberation Sans', Arial, sans-serif" text-anchor="middle" fill="#262626">5</text>
<text x="264.8" y="508.04" font-size="10.1" font-family="'Liberation Sans', Arial, sans-serif" text-anchor="middle" fill="#262626">10</text>
<text x="292.3" y="508.04" font-size="10.1" font-family="'Liberation Sans', Arial, sans-serif" text-anchor="middle" fill="#262626">15</text>
<text x="319.8" y="508.04" font-size="10.1" font-family="'Liberation Sans', Arial, sans-serif" text-anchor="middle" fill="#262626">20</text>
<text x="347.3" y="508.04" font-size="10.1" font-family="'Liberation Sans', Arial, sans-serif" text-anchor="middle" fill="#262626">25</text>
<text x="275.1" y="521.1" font-size="11.4" font-family="'Liberation Sans', Arial, sans-serif" text-anchor="middle" fill="#262626">HHO initial conditions</text>
<text x="0" y="0" font-size="11.3" font-family="'Liberation Sans', Arial, sans-serif" text-anchor="middle" fill="#262626" transform="translate(197.5,445.3) rotate(-90)">iteration (t)</text>
<text x="338" y="391.99" font-size="9.7" font-family="'Liberation Sans', Arial, sans-serif" text-anchor="end" fill="#262626">0.98</text>
<text x="338" y="409.89" font-size="9.7" font-family="'Liberation Sans', Arial, sans-serif" text-anchor="end" fill="#262626">0.96</text>
<text x="338" y="429.59" font-size="9.7" font-family="'Liberation Sans', Arial, sans-serif" text-anchor="end" fill="#262626">0.94</text>
<text x="338" y="448.79" font-size="9.7" font-family="'Liberation Sans', Arial, sans-serif" text-anchor="end" fill="#262626">0.92</text>
<text x="338" y="468.39" font-size="9.7" font-family="'Liberation Sans', Arial, sans-serif" text-anchor="end" fill="#262626">0.9</text>
<text x="338" y="488.09" font-size="9.7" font-family="'Liberation Sans', Arial, sans-serif" text-anchor="end" fill="#262626">0.88</text>
<text x="394.3" y="390.24" font-size="10.1" font-family="'Liberation Sans', Arial, sans-serif" text-anchor="end" fill="#262626">50</text>
<text x="394.3" y="412.44" font-size="10.1" font-family="'Liberation Sans', Arial, sans-serif" text-anchor="end" fill="#262626">40</text>
<text x="394.3" y="434.64" font-size="10.1" font-family="'Liberation Sans', Arial, sans-serif" text-anchor="end" fill="#262626">30</text>
<text x="394.3" y="456.84" font-size="10.1" font-family="'Liberation Sans', Arial, sans-serif" text-anchor="end" fill="#262626">20</text>
<text x="394.3" y="479.04" font-size="10.1" font-family="'Liberation Sans', Arial, sans-serif" text-anchor="end" fill="#262626">10</text>
<text x="420" y="508.04" font-size="10.1" font-family="'Liberation Sans', Arial, sans-serif" text-anchor="middle" fill="#262626">5</text>
<text x="447.5" y="508.04" font-size="10.1" font-family="'Liberation Sans', Arial, sans-serif" text-anchor="middle" fill="#262626">10</text>
<text x="475" y="508.04" font-size="10.1" font-family="'Liberation Sans', Arial, sans-serif" text-anchor="middle" fill="#262626">15</text>
<text x="502.5" y="508.04" font-size="10.1" font-family="'Liberation Sans', Arial, sans-serif" text-anchor="middle" fill="#262626">20</text>
<text x="530" y="508.04" font-size="10.1" font-family="'Liberation Sans', Arial, sans-serif" text-anchor="middle" fill="#262626">25</text>
<text x="457.8" y="521.1" font-size="11.4" font-family="'Liberation Sans', Arial, sans-serif" text-anchor="middle" fill="#262626">HHO initial conditions</text>
<text x="0" y="0" font-size="11.3" font-family="'Liberation Sans', Arial, sans-serif" text-anchor="middle" fill="#262626" transform="translate(379.7,444) rotate(-90)">iteration (t)</text>
<text x="520" y="391.29" font-size="9.7" font-family="'Liberation Sans', Arial, sans-serif" text-anchor="end" fill="#262626">0.98</text>
<text x="520" y="403.79" font-size="9.7" font-family="'Liberation Sans', Arial, sans-serif" text-anchor="end" fill="#262626">0.96</text>
<text x="520" y="417.09" font-size="9.7" font-family="'Liberation Sans', Arial, sans-serif" text-anchor="end" fill="#262626">0.94</text>
<text x="520" y="430.59" font-size="9.7" font-family="'Liberation Sans', Arial, sans-serif" text-anchor="end" fill="#262626">0.92</text>
<text x="520" y="444.39" font-size="9.7" font-family="'Liberation Sans', Arial, sans-serif" text-anchor="end" fill="#262626">0.9</text>
<text x="520" y="457.49" font-size="9.7" font-family="'Liberation Sans', Arial, sans-serif" text-anchor="end" fill="#262626">0.88</text>
<text x="520" y="471.09" font-size="9.7" font-family="'Liberation Sans', Arial, sans-serif" text-anchor="end" fill="#262626">0.86</text>
<text x="520" y="484.19" font-size="9.7" font-family="'Liberation Sans', Arial, sans-serif" text-anchor="end" fill="#262626">0.84</text>
</g>
</svg>
</body></html>
